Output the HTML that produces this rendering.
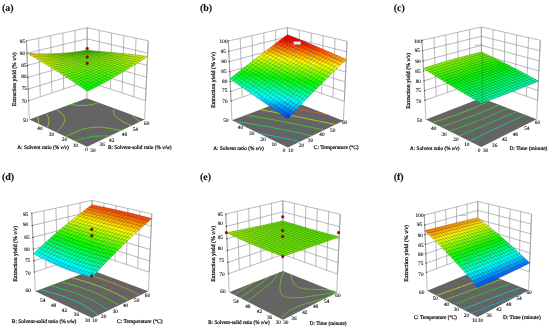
<!DOCTYPE html>
<html><head><meta charset="utf-8"><style>
html,body{margin:0;padding:0;background:#fff;}
svg{display:block;text-rendering:geometricPrecision;}
text{font-family:"Liberation Serif",serif;fill:#111;stroke:#111;stroke-width:.12px;}
.t{stroke-width:.24px;}
</style></head><body>
<svg width="550" height="328" viewBox="0 0 550 328">
<rect width="550" height="328" fill="#fff"/>
<g><path d="M28.6,100.7L86.9,81.3L145.5,100.7M28.2,89.1L86.9,70.9L146.1,89.1M27.8,77.4L87,60.4L146.6,77.3M27.4,65.4L87,49.7L147.2,65.4M26.9,53.3L87.1,38.8L147.7,53.2M26.5,40.9L87.2,27.8L148.3,40.8M28.6,100.7L26.5,40.9M145.5,100.7L148.3,40.8M40.3,96.8L38.6,38.3M133.8,96.8L136.1,38.2M51.9,92.9L50.7,35.7M122.1,92.9L123.9,35.6M63.6,89.1L62.9,33.1M110.3,89.1L111.6,33M75.2,85.2L75,30.4M98.6,85.2L99.4,30.4M86.9,81.3L87.2,27.8M86.9,81.3L87.2,27.8M26.5,40.9L29.3,119.4M148.3,40.8L144.6,119.4M86.9,81.3L86.8,98.2" stroke="#939393" stroke-width=".65" fill="none"/><path d="M28,100.7h1.2M27.6,89.1h1.2M27.2,77.4h1.2M26.8,65.4h1.2M26.3,53.3h1.2M25.9,40.9h1.2" stroke="#333" stroke-width="1"/><path d="M29.3,119.4L87.1,146.8L144.6,119.4L86.8,98.2Z" fill="#646464"/><path d="M109.7,136.1L108,136L106.3,135.9L105.3,135.9L103.6,135.9L102.3,135.9L100.7,135.9L99.5,136L97.7,136.1L96.4,136.2L95.2,136.3L93.7,136.4L92.2,136.6L90.7,136.8L89.3,137.1L87.9,137.3L86.6,137.6L84.7,138L83.4,138.3L82.2,138.7L80.4,139.2L79.3,139.5L77.6,140L76.5,140.4L74.9,141L74.9,141" stroke="#45c724" stroke-width="1" fill="none"/><path d="M121,130.7L119.4,130.3L118,130L116.7,129.7L115.1,129.4L113.6,129.1L112.3,128.8L110.9,128.6L109.6,128.3L108,128.1L106.5,127.9L105,127.7L103.7,127.5L102.4,127.4L100.8,127.3L99.1,127.2L97.9,127.2L96.3,127.2L95,127.2L93.3,127.3L92,127.5L90.7,127.6L89.2,127.8L87.6,128.1L86.2,128.4L85,128.7L83.2,129.2L82.1,129.6L80.5,130.1L78.9,130.7L77.9,131.1L76.4,131.7L75,132.3L73.6,133L72.6,133.4L71.3,134L70,134.7L68.6,135.4L67.3,136.1L66.5,136.6L66.1,136.8" stroke="#66c724" stroke-width="1" fill="none"/><path d="M70,104.4L71.5,104.6L73,104.8L74.4,105L75.8,105.2L77.4,105.3L79.1,105.4L80.3,105.5L81.8,105.5L83.1,105.5L84.9,105.4L86.1,105.3L87.4,105.2L88.8,105L90.4,104.8L92.1,104.5L93.3,104.2L94.5,103.9L96.2,103.5L97.9,103L98.9,102.6L98.9,102.6" stroke="#66c724" stroke-width="1" fill="none"/><path d="M56.3,109.5L57,109.9L58.2,110.7L58.9,111.2L59.9,111.9L60.6,112.4L61.2,113L61.8,113.5L62.4,114.1L62.9,114.7L63.4,115.3L63.8,115.9L64.1,116.6L64.4,117.3L64.6,117.8L64.7,118.4L64.7,119.1L64.7,119.6L64.7,120.2L64.6,120.8L64.4,121.3L64.2,122L63.9,122.7L63.7,123.2L63.4,123.8L63,124.4L62.6,125L62.2,125.6L61.7,126.3L61.2,126.9L60.7,127.5L60.2,128.1L59.7,128.7L59.1,129.3L58.4,130L57.7,130.7L57.1,131.3L56.5,131.9L56.2,132.2" stroke="#8ac724" stroke-width="1" fill="none"/><path d="M131.5,125.7L130.1,125.1L128.7,124.5L127.8,124L126.5,123.4L125.2,122.8L124,122.2L123.1,121.7L121.9,121.1L121.1,120.6L120,119.9L119.3,119.4L118.3,118.7L117.5,118.2L116.9,117.6L116.3,117.1L115.8,116.6L115.2,116L114.8,115.4L114.4,114.8L114.1,114.1L113.8,113.5L113.7,113L113.6,112.4L113.5,111.8L113.6,111.2L113.6,110.7L113.8,110L114,109.5L114.2,109L114.5,108.4L114.5,108.4" stroke="#8ac724" stroke-width="1" fill="none"/><path d="M45.8,113.3L46.3,113.9L46.7,114.5L47.1,115.2L47.5,115.8L47.8,116.3L48,116.8L48.3,117.5L48.5,118.2L48.6,118.7L48.7,119.4L48.8,120L48.9,120.5L48.9,121.2L48.9,121.8L48.8,122.4L48.7,123L48.6,123.6L48.4,124.3L48.3,124.9L48.1,125.4L47.8,126.1L47.5,126.8L47.3,127.4L47.1,127.8" stroke="#abc724" stroke-width="1" fill="none"/><path d="M139.9,121.7L138.8,121L138.1,120.5L137.3,119.9L136.4,119.2L135.7,118.7L135.1,118.2L134.5,117.7L133.8,117L133.2,116.4L132.6,115.8L132.1,115.2L131.7,114.7L131.7,114.7" stroke="#abc724" stroke-width="1" fill="none"/><path d="M37.4,116.4L37.7,117.1L38,117.8L38.1,118.3L38.3,118.9L38.4,119.6L38.5,120.1L38.6,120.8L38.6,121.4L38.7,122L38.6,122.6L38.6,123.3L38.6,123.8L38.6,123.8" stroke="#c7c524" stroke-width="1" fill="none"/><path d="M87.5,91.2L84.5,89.1L87.5,87.7L90.4,89.7Z" fill="#00ff09" stroke="#00ff09" stroke-width=".3"/><path d="M90.4,89.7L87.5,87.7L90.4,86.3L93.4,88.2Z" fill="#00ff02" stroke="#00ff02" stroke-width=".3"/><path d="M93.4,88.2L90.4,86.3L93.4,84.9L96.4,86.7Z" fill="#05ff00" stroke="#05ff00" stroke-width=".3"/><path d="M96.4,86.7L93.4,84.9L96.4,83.4L99.4,85.1ZM87.5,87.7L84.5,85.8L87.4,84.5L90.4,86.3Z" fill="#0dff00" stroke="#0dff00" stroke-width=".3"/><path d="M99.4,85.1L96.4,83.4L99.4,81.9L102.4,83.5Z" fill="#16ff00" stroke="#16ff00" stroke-width=".3"/><path d="M102.4,83.5L99.4,81.9L102.4,80.4L105.4,81.9Z" fill="#20ff00" stroke="#20ff00" stroke-width=".3"/><path d="M105.4,81.9L102.4,80.4L105.4,78.8L108.4,80.3ZM99.4,81.9L96.4,80.3L99.4,78.8L102.4,80.4Z" fill="#2aff00" stroke="#2aff00" stroke-width=".3"/><path d="M108.4,80.3L105.4,78.8L108.3,77.2L111.3,78.6Z" fill="#34ff00" stroke="#34ff00" stroke-width=".3"/><path d="M111.3,78.6L108.3,77.2L111.3,75.6L114.3,76.9ZM93.4,78.7L90.4,77.1L93.4,75.8L96.4,77.3Z" fill="#40ff00" stroke="#40ff00" stroke-width=".3"/><path d="M114.3,76.9L111.3,75.6L114.3,73.9L117.3,75.1ZM78.4,78.9L75.4,77.1L78.4,76.1L81.4,77.8Z" fill="#4cff00" stroke="#4cff00" stroke-width=".3"/><path d="M117.3,75.1L114.3,73.9L117.3,72.3L120.3,73.4ZM108.3,74.3L105.3,73L108.3,71.6L111.3,72.7ZM90.4,74.3L87.4,72.9L90.3,71.7L93.4,73.1Z" fill="#58ff00" stroke="#58ff00" stroke-width=".3"/><path d="M120.3,73.4L117.3,72.3L120.3,70.6L123.4,71.6Z" fill="#65ff00" stroke="#65ff00" stroke-width=".3"/><path d="M123.4,71.6L120.3,70.6L123.4,68.8L126.4,69.8ZM108.3,69L105.3,67.9L108.3,66.5L111.3,67.5ZM72.4,72.7L69.4,71.1L72.4,70.3L75.4,71.9ZM84.3,69L81.3,67.7L84.3,66.7L87.3,68ZM87.2,55.5L84.2,54.8L87.1,54.2L90.2,54.7ZM81.2,55.4L78.2,54.7L81.1,54.2L84.2,54.8ZM72.2,54.5L69.1,53.7L72.1,53.4L75.1,54.1Z" fill="#73ff00" stroke="#73ff00" stroke-width=".3"/><path d="M126.4,69.8L123.4,68.8L126.4,67.1L129.4,68ZM66.4,71.8L63.4,70.1L66.3,69.4L69.4,71.1ZM93.3,61.8L90.2,60.9L93.2,60L96.3,60.8ZM84.3,62.6L81.3,61.6L84.2,60.8L87.3,61.8ZM87.3,61.8L84.2,60.8L87.2,60L90.2,60.9ZM90.2,60.9L87.2,60L90.2,59.1L93.2,60ZM93.2,60L90.2,59.1L93.2,58.3L96.2,59ZM87.2,60L84.2,59.1L87.2,58.3L90.2,59.1ZM99.2,56.4L96.2,55.9L99.2,55L102.2,55.5Z" fill="#82ff00" stroke="#82ff00" stroke-width=".3"/><path d="M129.4,68L126.4,67.1L129.4,65.3L132.4,66.1ZM126.4,67.1L123.4,66.2L126.4,64.5L129.4,65.3ZM123.4,66.2L120.3,65.4L123.4,63.7L126.4,64.5ZM108.2,56.5L105.2,56L108.2,54.9L111.2,55.4ZM60.1,54.6L57.1,53.6L60.1,53.4L63.1,54.3Z" fill="#91ff00" stroke="#91ff00" stroke-width=".3"/><path d="M132.4,66.1L129.4,65.3L132.4,63.5L135.4,64.2ZM63.3,63.6L60.3,62.1L63.3,61.7L66.3,63Z" fill="#a0ff00" stroke="#a0ff00" stroke-width=".3"/><path d="M135.4,64.2L132.4,63.5L135.4,61.7L138.5,62.3ZM54.3,67.1L51.3,65.3L54.3,65L57.3,66.6ZM57.3,62.5L54.2,61L57.2,60.7L60.3,62.1ZM54.2,56.2L51.1,55L54.1,54.9L57.2,56Z" fill="#b1ff00" stroke="#b1ff00" stroke-width=".3"/><path d="M138.5,62.3L135.4,61.7L138.5,59.8L141.5,60.4ZM51.2,57.9L48.1,56.5L51.2,56.4L54.2,57.7Z" fill="#c2ff00" stroke="#c2ff00" stroke-width=".3"/><path d="M141.5,60.4L138.5,59.8L141.5,58L144.5,58.4ZM135.4,57L132.4,56.6L135.4,54.9L138.5,55.3ZM45.1,55.2L42.1,53.8L45.1,53.9L48.1,55.1Z" fill="#d3ff00" stroke="#d3ff00" stroke-width=".3"/><path d="M144.5,58.4L141.5,58L144.5,56.1L147.6,56.5Z" fill="#e5ff00" stroke="#e5ff00" stroke-width=".3"/><path d="M84.5,89.1L81.5,87.1L84.5,85.8L87.5,87.7Z" fill="#08ff00" stroke="#08ff00" stroke-width=".3"/><path d="M90.4,86.3L87.4,84.5L90.4,83.1L93.4,84.9Z" fill="#14ff00" stroke="#14ff00" stroke-width=".3"/><path d="M93.4,84.9L90.4,83.1L93.4,81.7L96.4,83.4Z" fill="#1bff00" stroke="#1bff00" stroke-width=".3"/><path d="M96.4,83.4L93.4,81.7L96.4,80.3L99.4,81.9ZM87.4,84.5L84.4,82.6L87.4,81.3L90.4,83.1Z" fill="#22ff00" stroke="#22ff00" stroke-width=".3"/><path d="M102.4,80.4L99.4,78.8L102.4,77.4L105.4,78.8Z" fill="#33ff00" stroke="#33ff00" stroke-width=".3"/><path d="M105.4,78.8L102.4,77.4L105.3,75.8L108.3,77.2ZM99.4,78.8L96.4,77.3L99.4,75.9L102.4,77.4Z" fill="#3dff00" stroke="#3dff00" stroke-width=".3"/><path d="M108.3,77.2L105.3,75.8L108.3,74.3L111.3,75.6Z" fill="#47ff00" stroke="#47ff00" stroke-width=".3"/><path d="M111.3,75.6L108.3,74.3L111.3,72.7L114.3,73.9Z" fill="#52ff00" stroke="#52ff00" stroke-width=".3"/><path d="M114.3,73.9L111.3,72.7L114.3,71.1L117.3,72.3ZM105.3,73L102.3,71.8L105.3,70.4L108.3,71.6ZM93.4,73.1L90.3,71.7L93.3,70.6L96.3,71.9ZM75.1,53L72.1,52.5L75.1,52.1L78.1,52.6Z" fill="#5dff00" stroke="#5dff00" stroke-width=".3"/><path d="M117.3,72.3L114.3,71.1L117.3,69.5L120.3,70.6ZM81.1,54.2L78.1,53.6L81.1,53.2L84.1,53.7Z" fill="#69ff00" stroke="#69ff00" stroke-width=".3"/><path d="M120.3,70.6L117.3,69.5L120.3,67.9L123.4,68.8ZM105.3,67.9L102.3,66.9L105.3,65.6L108.3,66.5ZM96.3,67L93.3,65.9L96.3,64.8L99.3,65.8ZM96.2,54.5L93.1,54L96.1,53.2L99.1,53.7ZM75.2,55.2L72.2,54.5L75.1,54.1L78.2,54.7Z" fill="#76ff00" stroke="#76ff00" stroke-width=".3"/><path d="M123.4,68.8L120.3,67.9L123.4,66.2L126.4,67.1ZM75.3,67.2L72.3,65.8L75.3,65L78.3,66.3ZM96.3,60.8L93.2,60L96.2,59L99.2,59.8ZM81.3,63.5L78.3,62.3L81.3,61.6L84.3,62.6ZM84.2,60.8L81.2,59.8L84.2,59.1L87.2,60Z" fill="#83ff00" stroke="#83ff00" stroke-width=".3"/><path d="M129.4,65.3L126.4,64.5L129.4,62.8L132.4,63.5ZM117.3,60.1L114.3,59.5L117.3,58.1L120.3,58.7Z" fill="#9fff00" stroke="#9fff00" stroke-width=".3"/><path d="M132.4,63.5L129.4,62.8L132.4,61.1L135.4,61.7ZM57.3,64.5L54.2,62.9L57.3,62.5L60.3,64.1Z" fill="#aeff00" stroke="#aeff00" stroke-width=".3"/><path d="M135.4,61.7L132.4,61.1L135.4,59.3L138.5,59.8ZM129.4,58.2L126.4,57.7L129.4,56.2L132.4,56.6ZM51.2,56.4L48.1,55.1L51.1,55L54.2,56.2Z" fill="#beff00" stroke="#beff00" stroke-width=".3"/><path d="M138.5,59.8L135.4,59.3L138.5,57.5L141.5,58Z" fill="#ceff00" stroke="#ceff00" stroke-width=".3"/><path d="M141.5,58L138.5,57.5L141.5,55.7L144.5,56.1Z" fill="#dfff00" stroke="#dfff00" stroke-width=".3"/><path d="M81.5,87.1L78.5,85L81.5,83.8L84.5,85.8Z" fill="#18ff00" stroke="#18ff00" stroke-width=".3"/><path d="M84.5,85.8L81.5,83.8L84.4,82.6L87.4,84.5Z" fill="#1dff00" stroke="#1dff00" stroke-width=".3"/><path d="M90.4,83.1L87.4,81.3L90.4,80L93.4,81.7Z" fill="#28ff00" stroke="#28ff00" stroke-width=".3"/><path d="M93.4,81.7L90.4,80L93.4,78.7L96.4,80.3Z" fill="#2eff00" stroke="#2eff00" stroke-width=".3"/><path d="M96.4,80.3L93.4,78.7L96.4,77.3L99.4,78.8ZM87.4,81.3L84.4,79.6L87.4,78.4L90.4,80Z" fill="#35ff00" stroke="#35ff00" stroke-width=".3"/><path d="M102.4,77.4L99.4,75.9L102.3,74.5L105.3,75.8ZM87.4,78.4L84.4,76.7L87.4,75.5L90.4,77.1ZM84.1,51.7L81.1,51.4L84.1,51L87.1,51.2Z" fill="#45ff00" stroke="#45ff00" stroke-width=".3"/><path d="M105.3,75.8L102.3,74.5L105.3,73L108.3,74.3ZM81.4,77.8L78.4,76.1L81.4,75.1L84.4,76.7Z" fill="#4eff00" stroke="#4eff00" stroke-width=".3"/><path d="M111.3,72.7L108.3,71.6L111.3,70.1L114.3,71.1ZM96.3,71.9L93.3,70.6L96.3,69.4L99.3,70.6Z" fill="#62ff00" stroke="#62ff00" stroke-width=".3"/><path d="M114.3,71.1L111.3,70.1L114.3,68.5L117.3,69.5ZM87.3,70.4L84.3,69L87.3,68L90.3,69.3ZM96.1,53.2L93.1,52.9L96.1,52.1L99.1,52.5Z" fill="#6cff00" stroke="#6cff00" stroke-width=".3"/><path d="M117.3,69.5L114.3,68.5L117.3,67L120.3,67.9ZM102.3,66.9L99.3,65.8L102.3,64.6L105.3,65.6ZM90.2,56.1L87.2,55.5L90.2,54.7L93.2,55.3Z" fill="#78ff00" stroke="#78ff00" stroke-width=".3"/><path d="M120.3,67.9L117.3,67L120.3,65.4L123.4,66.2ZM99.3,61.6L96.3,60.8L99.2,59.8L102.3,60.5ZM96.2,59L93.2,58.3L96.2,57.4L99.2,58ZM102.2,55.5L99.2,55L102.2,54.1L105.2,54.5ZM81.2,59.8L78.2,58.9L81.2,58.2L84.2,59.1Z" fill="#84ff00" stroke="#84ff00" stroke-width=".3"/><path d="M126.4,64.5L123.4,63.7L126.4,62.1L129.4,62.8ZM114.2,55.8L111.2,55.4L114.2,54.2L117.3,54.6Z" fill="#9eff00" stroke="#9eff00" stroke-width=".3"/><path d="M129.4,62.8L126.4,62.1L129.4,60.4L132.4,61.1ZM120.3,56.7L117.3,56.3L120.3,54.9L123.3,55.3ZM57.2,57.5L54.2,56.2L57.2,56L60.2,57.2Z" fill="#acff00" stroke="#acff00" stroke-width=".3"/><path d="M132.4,61.1L129.4,60.4L132.4,58.8L135.4,59.3ZM54.2,62.9L51.2,61.3L54.2,61L57.3,62.5ZM54.2,59.3L51.2,57.9L54.2,57.7L57.2,59Z" fill="#baff00" stroke="#baff00" stroke-width=".3"/><path d="M135.4,59.3L132.4,58.8L135.4,57L138.5,57.5Z" fill="#c9ff00" stroke="#c9ff00" stroke-width=".3"/><path d="M138.5,57.5L135.4,57L138.5,55.3L141.5,55.7Z" fill="#d9ff00" stroke="#d9ff00" stroke-width=".3"/><path d="M78.5,85L75.5,83L78.5,81.9L81.5,83.8Z" fill="#29ff00" stroke="#29ff00" stroke-width=".3"/><path d="M81.5,83.8L78.5,81.9L81.4,80.8L84.4,82.6Z" fill="#2cff00" stroke="#2cff00" stroke-width=".3"/><path d="M84.4,82.6L81.4,80.8L84.4,79.6L87.4,81.3Z" fill="#30ff00" stroke="#30ff00" stroke-width=".3"/><path d="M90.4,80L87.4,78.4L90.4,77.1L93.4,78.7Z" fill="#3aff00" stroke="#3aff00" stroke-width=".3"/><path d="M96.4,77.3L93.4,75.8L96.4,74.5L99.4,75.9Z" fill="#46ff00" stroke="#46ff00" stroke-width=".3"/><path d="M99.4,75.9L96.4,74.5L99.3,73.2L102.3,74.5ZM81.1,52.2L78.1,51.8L81.1,51.4L84.1,51.7Z" fill="#4dff00" stroke="#4dff00" stroke-width=".3"/><path d="M102.3,74.5L99.3,73.2L102.3,71.8L105.3,73ZM96.4,74.5L93.4,73.1L96.3,71.9L99.3,73.2ZM93.1,51.8L90.1,51.5L93.1,50.9L96.1,51.2ZM84.1,52.6L81.1,52.2L84.1,51.7L87.1,52.1ZM78.1,52.6L75.1,52.1L78.1,51.8L81.1,52.2Z" fill="#55ff00" stroke="#55ff00" stroke-width=".3"/><path d="M108.3,71.6L105.3,70.4L108.3,69L111.3,70.1ZM90.1,53.5L87.1,53.1L90.1,52.5L93.1,52.9ZM72.1,53.4L69.1,52.8L72.1,52.5L75.1,53Z" fill="#66ff00" stroke="#66ff00" stroke-width=".3"/><path d="M111.3,70.1L108.3,69L111.3,67.5L114.3,68.5ZM90.2,54.7L87.1,54.2L90.1,53.5L93.1,54ZM69.1,53.7L66.1,53L69.1,52.8L72.1,53.4Z" fill="#70ff00" stroke="#70ff00" stroke-width=".3"/><path d="M114.3,68.5L111.3,67.5L114.3,66L117.3,67ZM99.3,65.8L96.3,64.8L99.3,63.7L102.3,64.6ZM63.4,75.2L60.4,73.2L63.4,72.6L66.4,74.4ZM81.3,67.7L78.3,66.3L81.3,65.5L84.3,66.7ZM84.3,66.7L81.3,65.5L84.3,64.6L87.3,65.8ZM66.1,54L63.1,53.2L66.1,53L69.1,53.7Z" fill="#7aff00" stroke="#7aff00" stroke-width=".3"/><path d="M117.3,67L114.3,66L117.3,64.5L120.3,65.4ZM114.3,66L111.3,65.1L114.3,63.7L117.3,64.5ZM105.3,63.4L102.3,62.5L105.3,61.3L108.3,62.1ZM102.3,62.5L99.3,61.6L102.3,60.5L105.3,61.3ZM72.3,67.9L69.3,66.5L72.3,65.8L75.3,67.2ZM78.3,64.3L75.3,63.1L78.3,62.3L81.3,63.5ZM99.2,58L96.2,57.4L99.2,56.4L102.2,57ZM81.3,61.6L78.2,60.5L81.2,59.8L84.2,60.8ZM78.2,58.9L75.2,58L78.2,57.4L81.2,58.2ZM75.2,58L72.2,57L75.2,56.5L78.2,57.4ZM63.1,54.3L60.1,53.4L63.1,53.2L66.1,54Z" fill="#85ff00" stroke="#85ff00" stroke-width=".3"/><path d="M120.3,65.4L117.3,64.5L120.3,63L123.4,63.7ZM108.3,60.1L105.3,59.4L108.3,58.2L111.3,58.8ZM63.2,55.5L60.1,54.6L63.1,54.3L66.2,55.2Z" fill="#90ff00" stroke="#90ff00" stroke-width=".3"/><path d="M123.4,63.7L120.3,63L123.3,61.4L126.4,62.1ZM114.2,54.2L111.2,53.8L114.2,52.7L117.2,53Z" fill="#9cff00" stroke="#9cff00" stroke-width=".3"/><path d="M126.4,62.1L123.3,61.4L126.4,59.8L129.4,60.4ZM54.3,69.4L51.3,67.6L54.3,67.1L57.3,68.9ZM60.3,62.1L57.2,60.7L60.2,60.3L63.3,61.7ZM60.2,60.3L57.2,59L60.2,58.7L63.2,59.9ZM54.1,54.9L51.1,53.8L54.1,53.7L57.1,54.7Z" fill="#a9ff00" stroke="#a9ff00" stroke-width=".3"/><path d="M129.4,60.4L126.4,59.8L129.4,58.2L132.4,58.8ZM54.3,65L51.2,63.3L54.2,62.9L57.3,64.5ZM51.1,55L48.1,53.8L51.1,53.8L54.1,54.9Z" fill="#b6ff00" stroke="#b6ff00" stroke-width=".3"/><path d="M132.4,58.8L129.4,58.2L132.4,56.6L135.4,57ZM129.4,56.2L126.3,55.7L129.4,54.2L132.4,54.6ZM48.1,55.1L45.1,53.9L48.1,53.8L51.1,55Z" fill="#c4ff00" stroke="#c4ff00" stroke-width=".3"/><path d="M75.5,83L72.5,81L75.4,80L78.5,81.9Z" fill="#39ff00" stroke="#39ff00" stroke-width=".3"/><path d="M78.5,81.9L75.4,80L78.4,78.9L81.4,80.8Z" fill="#3bff00" stroke="#3bff00" stroke-width=".3"/><path d="M81.4,80.8L78.4,78.9L81.4,77.8L84.4,79.6Z" fill="#3eff00" stroke="#3eff00" stroke-width=".3"/><path d="M84.4,79.6L81.4,77.8L84.4,76.7L87.4,78.4Z" fill="#41ff00" stroke="#41ff00" stroke-width=".3"/><path d="M90.4,77.1L87.4,75.5L90.4,74.3L93.4,75.8ZM75.4,80L72.4,78.1L75.4,77.1L78.4,78.9ZM90.1,51.5L87.1,51.2L90,50.7L93.1,50.9Z" fill="#4aff00" stroke="#4aff00" stroke-width=".3"/><path d="M93.4,75.8L90.4,74.3L93.4,73.1L96.4,74.5Z" fill="#4fff00" stroke="#4fff00" stroke-width=".3"/><path d="M99.3,73.2L96.3,71.9L99.3,70.6L102.3,71.8ZM81.4,75.1L78.4,73.5L81.4,72.5L84.4,74ZM81.1,53.2L78.1,52.6L81.1,52.2L84.1,52.6Z" fill="#5cff00" stroke="#5cff00" stroke-width=".3"/><path d="M102.3,71.8L99.3,70.6L102.3,69.3L105.3,70.4ZM93.1,52.9L90.1,52.5L93.1,51.8L96.1,52.1ZM84.1,53.7L81.1,53.2L84.1,52.6L87.1,53.1ZM78.1,53.6L75.1,53L78.1,52.6L81.1,53.2Z" fill="#63ff00" stroke="#63ff00" stroke-width=".3"/><path d="M105.3,70.4L102.3,69.3L105.3,67.9L108.3,69ZM66.4,77.1L63.4,75.2L66.4,74.4L69.4,76.3ZM84.4,71.4L81.3,70L84.3,69L87.3,70.4ZM87.1,54.2L84.1,53.7L87.1,53.1L90.1,53.5Z" fill="#6aff00" stroke="#6aff00" stroke-width=".3"/><path d="M111.3,67.5L108.3,66.5L111.3,65.1L114.3,66ZM75.3,69.4L72.3,67.9L75.3,67.2L78.3,68.6ZM69.2,54.9L66.1,54L69.1,53.7L72.2,54.5Z" fill="#7cff00" stroke="#7cff00" stroke-width=".3"/><path d="M117.3,64.5L114.3,63.7L117.3,62.2L120.3,63ZM114.3,63.7L111.3,62.9L114.3,61.5L117.3,62.2ZM63.4,70.1L60.3,68.4L63.3,67.8L66.3,69.4ZM72.3,61.9L69.2,60.7L72.2,60.1L75.3,61.2Z" fill="#8fff00" stroke="#8fff00" stroke-width=".3"/><path d="M120.3,63L117.3,62.2L120.3,60.8L123.3,61.4ZM66.3,63L63.3,61.7L66.2,61.2L69.3,62.5ZM60.2,55.8L57.1,54.7L60.1,54.6L63.2,55.5Z" fill="#9aff00" stroke="#9aff00" stroke-width=".3"/><path d="M123.3,61.4L120.3,60.8L123.3,59.3L126.4,59.8ZM60.2,58.7L57.2,57.5L60.2,57.2L63.2,58.3Z" fill="#a6ff00" stroke="#a6ff00" stroke-width=".3"/><path d="M126.4,59.8L123.3,59.3L126.4,57.7L129.4,58.2ZM123.3,57.2L120.3,56.7L123.3,55.3L126.3,55.7ZM57.2,60.7L54.2,59.3L57.2,59L60.2,60.3Z" fill="#b2ff00" stroke="#b2ff00" stroke-width=".3"/><path d="M132.4,56.6L129.4,56.2L132.4,54.6L135.4,54.9Z" fill="#ccff00" stroke="#ccff00" stroke-width=".3"/><path d="M72.5,81L69.5,79.1L72.4,78.1L75.4,80Z" fill="#49ff00" stroke="#49ff00" stroke-width=".3"/><path d="M84.4,76.7L81.4,75.1L84.4,74L87.4,75.5Z" fill="#51ff00" stroke="#51ff00" stroke-width=".3"/><path d="M87.4,75.5L84.4,74L87.4,72.9L90.4,74.3Z" fill="#54ff00" stroke="#54ff00" stroke-width=".3"/><path d="M99.3,70.6L96.3,69.4L99.3,68.1L102.3,69.3ZM93.3,70.6L90.3,69.3L93.3,68.1L96.3,69.4ZM69.4,76.3L66.4,74.4L69.4,73.6L72.4,75.4ZM81.4,72.5L78.4,70.9L81.3,70L84.4,71.4Z" fill="#68ff00" stroke="#68ff00" stroke-width=".3"/><path d="M102.3,69.3L99.3,68.1L102.3,66.9L105.3,67.9ZM93.1,54L90.1,53.5L93.1,52.9L96.1,53.2ZM84.2,54.8L81.1,54.2L84.1,53.7L87.1,54.2Z" fill="#6eff00" stroke="#6eff00" stroke-width=".3"/><path d="M108.3,66.5L105.3,65.6L108.3,64.2L111.3,65.1ZM96.3,64.8L93.3,63.8L96.3,62.7L99.3,63.7ZM72.4,70.3L69.3,68.7L72.3,67.9L75.3,69.4ZM90.3,64.8L87.3,63.7L90.3,62.8L93.3,63.8ZM93.2,56.7L90.2,56.1L93.2,55.3L96.2,55.9ZM96.2,55.9L93.2,55.3L96.2,54.5L99.2,55ZM99.2,55L96.2,54.5L99.1,53.7L102.2,54.1ZM84.2,57.5L81.2,56.8L84.2,56.1L87.2,56.8Z" fill="#7dff00" stroke="#7dff00" stroke-width=".3"/><path d="M111.3,65.1L108.3,64.2L111.3,62.9L114.3,63.7ZM108.3,64.2L105.3,63.4L108.3,62.1L111.3,62.9ZM63.4,72.6L60.4,70.7L63.4,70.1L66.4,71.8ZM99.2,59.8L96.2,59L99.2,58L102.2,58.7ZM105.2,54.5L102.2,54.1L105.2,53.1L108.2,53.5ZM72.2,57L69.2,56.1L72.2,55.7L75.2,56.5ZM69.2,56.1L66.2,55.2L69.2,54.9L72.2,55.7ZM66.2,55.2L63.1,54.3L66.1,54L69.2,54.9Z" fill="#86ff00" stroke="#86ff00" stroke-width=".3"/><path d="M117.3,62.2L114.3,61.5L117.3,60.1L120.3,60.8ZM63.2,56.9L60.2,55.8L63.2,55.5L66.2,56.5Z" fill="#98ff00" stroke="#98ff00" stroke-width=".3"/><path d="M120.3,60.8L117.3,60.1L120.3,58.7L123.3,59.3ZM63.3,61.7L60.2,60.3L63.2,59.9L66.2,61.2Z" fill="#a2ff00" stroke="#a2ff00" stroke-width=".3"/><path d="M123.3,59.3L120.3,58.7L123.3,57.2L126.4,57.7ZM120.3,54.9L117.3,54.6L120.3,53.3L123.3,53.6Z" fill="#adff00" stroke="#adff00" stroke-width=".3"/><path d="M126.4,57.7L123.3,57.2L126.3,55.7L129.4,56.2Z" fill="#b8ff00" stroke="#b8ff00" stroke-width=".3"/><path d="M69.5,79.1L66.4,77.1L69.4,76.3L72.4,78.1ZM75.4,77.1L72.4,75.4L75.4,74.4L78.4,76.1Z" fill="#5aff00" stroke="#5aff00" stroke-width=".3"/><path d="M72.4,78.1L69.4,76.3L72.4,75.4L75.4,77.1ZM90.1,52.5L87.1,52.1L90.1,51.5L93.1,51.8Z" fill="#59ff00" stroke="#59ff00" stroke-width=".3"/><path d="M78.4,76.1L75.4,74.4L78.4,73.5L81.4,75.1Z" fill="#5bff00" stroke="#5bff00" stroke-width=".3"/><path d="M84.4,74L81.4,72.5L84.4,71.4L87.4,72.9ZM87.1,53.1L84.1,52.6L87.1,52.1L90.1,52.5Z" fill="#5eff00" stroke="#5eff00" stroke-width=".3"/><path d="M87.4,72.9L84.4,71.4L87.3,70.4L90.3,71.7Z" fill="#61ff00" stroke="#61ff00" stroke-width=".3"/><path d="M90.3,71.7L87.3,70.4L90.3,69.3L93.3,70.6Z" fill="#64ff00" stroke="#64ff00" stroke-width=".3"/><path d="M96.3,69.4L93.3,68.1L96.3,67L99.3,68.1Z" fill="#6dff00" stroke="#6dff00" stroke-width=".3"/><path d="M99.3,68.1L96.3,67L99.3,65.8L102.3,66.9ZM93.3,68.1L90.3,67L93.3,65.9L96.3,67ZM75.4,71.9L72.4,70.3L75.3,69.4L78.4,70.9ZM78.4,70.9L75.3,69.4L78.3,68.6L81.3,70ZM81.3,70L78.3,68.6L81.3,67.7L84.3,69Z" fill="#72ff00" stroke="#72ff00" stroke-width=".3"/><path d="M105.3,65.6L102.3,64.6L105.3,63.4L108.3,64.2ZM69.4,71.1L66.3,69.4L69.3,68.7L72.4,70.3ZM93.3,63.8L90.3,62.8L93.3,61.8L96.3,62.7ZM84.3,64.6L81.3,63.5L84.3,62.6L87.3,63.7ZM87.2,58.3L84.2,57.5L87.2,56.8L90.2,57.5ZM105.2,53.1L102.1,52.8L105.1,51.9L108.1,52.1ZM75.2,56.5L72.2,55.7L75.2,55.2L78.2,56Z" fill="#7fff00" stroke="#7fff00" stroke-width=".3"/><path d="M111.3,62.9L108.3,62.1L111.3,60.8L114.3,61.5ZM105.3,59.4L102.2,58.7L105.2,57.6L108.3,58.2ZM105.2,57.6L102.2,57L105.2,56L108.2,56.5ZM69.2,57.5L66.2,56.5L69.2,56.1L72.2,57Z" fill="#8dff00" stroke="#8dff00" stroke-width=".3"/><path d="M114.3,61.5L111.3,60.8L114.3,59.5L117.3,60.1ZM111.3,58.8L108.3,58.2L111.2,57L114.3,57.6ZM111.2,55.4L108.2,54.9L111.2,53.8L114.2,54.2Z" fill="#96ff00" stroke="#96ff00" stroke-width=".3"/><path d="M120.3,58.7L117.3,58.1L120.3,56.7L123.3,57.2Z" fill="#a8ff00" stroke="#a8ff00" stroke-width=".3"/><path d="M126.3,55.7L123.3,55.3L126.3,53.9L129.4,54.2Z" fill="#bdff00" stroke="#bdff00" stroke-width=".3"/><path d="M72.4,75.4L69.4,73.6L72.4,72.7L75.4,74.4ZM75.4,74.4L72.4,72.7L75.4,71.9L78.4,73.5ZM78.4,73.5L75.4,71.9L78.4,70.9L81.4,72.5Z" fill="#67ff00" stroke="#67ff00" stroke-width=".3"/><path d="M90.3,69.3L87.3,68L90.3,67L93.3,68.1ZM78.2,54.7L75.1,54.1L78.1,53.6L81.1,54.2Z" fill="#6fff00" stroke="#6fff00" stroke-width=".3"/><path d="M102.3,64.6L99.3,63.7L102.3,62.5L105.3,63.4ZM81.3,65.5L78.3,64.3L81.3,63.5L84.3,64.6ZM87.3,63.7L84.3,62.6L87.3,61.8L90.3,62.8ZM90.3,62.8L87.3,61.8L90.2,60.9L93.3,61.8ZM78.2,57.4L75.2,56.5L78.2,56L81.2,56.8Z" fill="#80ff00" stroke="#80ff00" stroke-width=".3"/><path d="M108.3,62.1L105.3,61.3L108.3,60.1L111.3,60.8Z" fill="#8cff00" stroke="#8cff00" stroke-width=".3"/><path d="M111.3,60.8L108.3,60.1L111.3,58.8L114.3,59.5ZM111.2,53.8L108.2,53.5L111.2,52.4L114.2,52.7Z" fill="#93ff00" stroke="#93ff00" stroke-width=".3"/><path d="M114.3,59.5L111.3,58.8L114.3,57.6L117.3,58.1ZM66.2,61.2L63.2,59.9L66.2,59.5L69.2,60.7Z" fill="#9bff00" stroke="#9bff00" stroke-width=".3"/><path d="M117.3,58.1L114.3,57.6L117.3,56.3L120.3,56.7ZM57.3,68.9L54.3,67.1L57.3,66.6L60.3,68.4ZM60.3,66.1L57.3,64.5L60.3,64.1L63.3,65.6Z" fill="#a3ff00" stroke="#a3ff00" stroke-width=".3"/><path d="M123.3,55.3L120.3,54.9L123.3,53.6L126.3,53.9Z" fill="#b5ff00" stroke="#b5ff00" stroke-width=".3"/><path d="M66.4,74.4L63.4,72.6L66.4,71.8L69.4,73.6ZM90.3,67L87.3,65.8L90.3,64.8L93.3,65.9ZM93.2,55.3L90.2,54.7L93.1,54L96.2,54.5ZM84.2,56.1L81.2,55.4L84.2,54.8L87.2,55.5Z" fill="#77ff00" stroke="#77ff00" stroke-width=".3"/><path d="M69.4,73.6L66.4,71.8L69.4,71.1L72.4,72.7ZM87.3,68L84.3,66.7L87.3,65.8L90.3,67ZM99.1,53.7L96.1,53.2L99.1,52.5L102.1,52.8ZM102.1,52.8L99.1,52.5L102.1,51.6L105.1,51.9Z" fill="#75ff00" stroke="#75ff00" stroke-width=".3"/><path d="M93.3,65.9L90.3,64.8L93.3,63.8L96.3,64.8ZM78.2,56L75.2,55.2L78.2,54.7L81.2,55.4Z" fill="#79ff00" stroke="#79ff00" stroke-width=".3"/><path d="M99.3,63.7L96.3,62.7L99.3,61.6L102.3,62.5ZM96.3,62.7L93.3,61.8L96.3,60.8L99.3,61.6ZM78.3,66.3L75.3,65L78.3,64.3L81.3,65.5ZM90.2,59.1L87.2,58.3L90.2,57.5L93.2,58.3ZM93.2,58.3L90.2,57.5L93.2,56.7L96.2,57.4ZM96.2,57.4L93.2,56.7L96.2,55.9L99.2,56.4ZM84.2,59.1L81.2,58.2L84.2,57.5L87.2,58.3ZM81.2,58.2L78.2,57.4L81.2,56.8L84.2,57.5Z" fill="#81ff00" stroke="#81ff00" stroke-width=".3"/><path d="M105.3,61.3L102.3,60.5L105.3,59.4L108.3,60.1ZM60.4,73.2L57.4,71.3L60.4,70.7L63.4,72.6ZM75.3,63.1L72.3,61.9L75.3,61.2L78.3,62.3Z" fill="#8aff00" stroke="#8aff00" stroke-width=".3"/><path d="M114.3,57.6L111.2,57L114.2,55.8L117.3,56.3ZM60.3,68.4L57.3,66.6L60.3,66.1L63.3,67.8ZM63.3,65.6L60.3,64.1L63.3,63.6L66.3,65ZM63.2,58.3L60.2,57.2L63.2,56.9L66.2,57.9ZM57.1,54.7L54.1,53.7L57.1,53.6L60.1,54.6Z" fill="#9dff00" stroke="#9dff00" stroke-width=".3"/><path d="M117.3,56.3L114.2,55.8L117.3,54.6L120.3,54.9ZM57.2,56L54.1,54.9L57.1,54.7L60.2,55.8Z" fill="#a5ff00" stroke="#a5ff00" stroke-width=".3"/><path d="M78.3,68.6L75.3,67.2L78.3,66.3L81.3,67.7ZM87.3,65.8L84.3,64.6L87.3,63.7L90.3,64.8ZM87.2,56.8L84.2,56.1L87.2,55.5L90.2,56.1ZM81.2,56.8L78.2,56L81.2,55.4L84.2,56.1Z" fill="#7bff00" stroke="#7bff00" stroke-width=".3"/><path d="M102.3,60.5L99.2,59.8L102.2,58.7L105.3,59.4ZM69.3,68.7L66.3,67.1L69.3,66.5L72.3,67.9ZM75.3,65L72.3,63.7L75.3,63.1L78.3,64.3ZM102.2,57L99.2,56.4L102.2,55.5L105.2,56Z" fill="#88ff00" stroke="#88ff00" stroke-width=".3"/><path d="M108.3,58.2L105.2,57.6L108.2,56.5L111.2,57ZM66.3,67.1L63.3,65.6L66.3,65L69.3,66.5ZM69.3,64.4L66.3,63L69.3,62.5L72.3,63.7ZM69.2,59L66.2,57.9L69.2,57.5L72.2,58.5Z" fill="#92ff00" stroke="#92ff00" stroke-width=".3"/><path d="M111.2,57L108.2,56.5L111.2,55.4L114.2,55.8ZM63.3,67.8L60.3,66.1L63.3,65.6L66.3,67.1ZM66.3,65L63.3,63.6L66.3,63L69.3,64.4Z" fill="#97ff00" stroke="#97ff00" stroke-width=".3"/><path d="M117.3,54.6L114.2,54.2L117.2,53L120.3,53.3Z" fill="#a4ff00" stroke="#a4ff00" stroke-width=".3"/><path d="M57.4,71.3L54.3,69.4L57.3,68.9L60.4,70.7ZM66.2,59.5L63.2,58.3L66.2,57.9L69.2,59Z" fill="#99ff00" stroke="#99ff00" stroke-width=".3"/><path d="M60.4,70.7L57.3,68.9L60.3,68.4L63.4,70.1ZM69.3,62.5L66.2,61.2L69.2,60.7L72.3,61.9ZM69.2,60.7L66.2,59.5L69.2,59L72.2,60.1Z" fill="#94ff00" stroke="#94ff00" stroke-width=".3"/><path d="M66.3,69.4L63.3,67.8L66.3,67.1L69.3,68.7ZM72.3,65.8L69.3,64.4L72.3,63.7L75.3,65ZM105.2,56L102.2,55.5L105.2,54.5L108.2,54.9ZM75.3,61.2L72.2,60.1L75.2,59.5L78.2,60.5ZM72.2,58.5L69.2,57.5L72.2,57L75.2,58Z" fill="#8bff00" stroke="#8bff00" stroke-width=".3"/><path d="M102.2,58.7L99.2,58L102.2,57L105.2,57.6ZM108.2,53.5L105.2,53.1L108.1,52.1L111.2,52.4ZM75.2,59.5L72.2,58.5L75.2,58L78.2,58.9Z" fill="#89ff00" stroke="#89ff00" stroke-width=".3"/><path d="M69.3,66.5L66.3,65L69.3,64.4L72.3,65.8ZM108.2,54.9L105.2,54.5L108.2,53.5L111.2,53.8ZM72.3,63.7L69.3,62.5L72.3,61.9L75.3,63.1ZM72.2,60.1L69.2,59L72.2,58.5L75.2,59.5ZM66.2,56.5L63.2,55.5L66.2,55.2L69.2,56.1Z" fill="#8eff00" stroke="#8eff00" stroke-width=".3"/><path d="M51.3,67.6L48.3,65.7L51.3,65.3L54.3,67.1Z" fill="#b9ff00" stroke="#b9ff00" stroke-width=".3"/><path d="M57.3,66.6L54.3,65L57.3,64.5L60.3,66.1Z" fill="#aaff00" stroke="#aaff00" stroke-width=".3"/><path d="M78.3,62.3L75.3,61.2L78.2,60.5L81.3,61.6ZM78.2,60.5L75.2,59.5L78.2,58.9L81.2,59.8Z" fill="#87ff00" stroke="#87ff00" stroke-width=".3"/><path d="M48.3,65.7L45.2,63.8L48.2,63.6L51.3,65.3Z" fill="#c8ff00" stroke="#c8ff00" stroke-width=".3"/><path d="M51.3,65.3L48.2,63.6L51.2,63.3L54.3,65Z" fill="#bfff00" stroke="#bfff00" stroke-width=".3"/><path d="M60.3,64.1L57.3,62.5L60.3,62.1L63.3,63.6Z" fill="#a7ff00" stroke="#a7ff00" stroke-width=".3"/><path d="M90.2,57.5L87.2,56.8L90.2,56.1L93.2,56.7ZM102.2,54.1L99.1,53.7L102.1,52.8L105.2,53.1ZM72.2,55.7L69.2,54.9L72.2,54.5L75.2,55.2Z" fill="#7eff00" stroke="#7eff00" stroke-width=".3"/><path d="M45.2,63.8L42.2,62L45.2,61.8L48.2,63.6ZM45.1,56.6L42.1,55.2L45.1,55.2L48.1,56.5Z" fill="#d8ff00" stroke="#d8ff00" stroke-width=".3"/><path d="M48.2,63.6L45.2,61.8L48.2,61.6L51.2,63.3Z" fill="#cdff00" stroke="#cdff00" stroke-width=".3"/><path d="M51.2,63.3L48.2,61.6L51.2,61.3L54.2,62.9Z" fill="#c3ff00" stroke="#c3ff00" stroke-width=".3"/><path d="M42.2,62L39.1,60.2L42.2,60.1L45.2,61.8Z" fill="#e7ff00" stroke="#e7ff00" stroke-width=".3"/><path d="M45.2,61.8L42.2,60.1L45.2,60L48.2,61.6ZM45.1,58.2L42.1,56.7L45.1,56.6L48.2,58.1Z" fill="#dbff00" stroke="#dbff00" stroke-width=".3"/><path d="M48.2,61.6L45.2,60L48.2,59.8L51.2,61.3ZM48.2,59.8L45.1,58.2L48.2,58.1L51.2,59.6Z" fill="#d0ff00" stroke="#d0ff00" stroke-width=".3"/><path d="M51.2,61.3L48.2,59.8L51.2,59.6L54.2,61ZM51.2,59.6L48.2,58.1L51.2,57.9L54.2,59.3Z" fill="#c5ff00" stroke="#c5ff00" stroke-width=".3"/><path d="M54.2,61L51.2,59.6L54.2,59.3L57.2,60.7Z" fill="#bbff00" stroke="#bbff00" stroke-width=".3"/><path d="M63.2,59.9L60.2,58.7L63.2,58.3L66.2,59.5ZM60.2,57.2L57.2,56L60.2,55.8L63.2,56.9Z" fill="#a1ff00" stroke="#a1ff00" stroke-width=".3"/><path d="M99.1,52.5L96.1,52.1L99.1,51.4L102.1,51.6ZM75.1,54.1L72.1,53.4L75.1,53L78.1,53.6Z" fill="#6bff00" stroke="#6bff00" stroke-width=".3"/><path d="M39.1,60.2L36.1,58.4L39.1,58.4L42.2,60.1Z" fill="#f6ff00" stroke="#f6ff00" stroke-width=".3"/><path d="M42.2,60.1L39.1,58.4L42.1,58.3L45.2,60ZM42.1,58.3L39.1,56.7L42.1,56.7L45.1,58.2Z" fill="#e9ff00" stroke="#e9ff00" stroke-width=".3"/><path d="M45.2,60L42.1,58.3L45.1,58.2L48.2,59.8Z" fill="#dcff00" stroke="#dcff00" stroke-width=".3"/><path d="M57.2,59L54.2,57.7L57.2,57.5L60.2,58.7Z" fill="#b0ff00" stroke="#b0ff00" stroke-width=".3"/><path d="M66.2,57.9L63.2,56.9L66.2,56.5L69.2,57.5Z" fill="#95ff00" stroke="#95ff00" stroke-width=".3"/><path d="M96.1,52.1L93.1,51.8L96.1,51.2L99.1,51.4Z" fill="#60ff00" stroke="#60ff00" stroke-width=".3"/><path d="M36.1,58.4L33,56.6L36.1,56.7L39.1,58.4Z" fill="#fff900" stroke="#fff900" stroke-width=".3"/><path d="M39.1,58.4L36.1,56.7L39.1,56.7L42.1,58.3Z" fill="#f7ff00" stroke="#f7ff00" stroke-width=".3"/><path d="M48.2,58.1L45.1,56.6L48.1,56.5L51.2,57.9Z" fill="#cfff00" stroke="#cfff00" stroke-width=".3"/><path d="M54.2,57.7L51.2,56.4L54.2,56.2L57.2,57.5Z" fill="#b7ff00" stroke="#b7ff00" stroke-width=".3"/><path d="M33,56.6L30,54.8L33,55L36.1,56.7Z" fill="#ffea00" stroke="#ffea00" stroke-width=".3"/><path d="M36.1,56.7L33,55L36,55.1L39.1,56.7Z" fill="#fffa00" stroke="#fffa00" stroke-width=".3"/><path d="M39.1,56.7L36,55.1L39.1,55.2L42.1,56.7Z" fill="#f5ff00" stroke="#f5ff00" stroke-width=".3"/><path d="M42.1,56.7L39.1,55.2L42.1,55.2L45.1,56.6Z" fill="#e6ff00" stroke="#e6ff00" stroke-width=".3"/><path d="M48.1,56.5L45.1,55.2L48.1,55.1L51.2,56.4Z" fill="#cbff00" stroke="#cbff00" stroke-width=".3"/><path d="M87.1,52.1L84.1,51.7L87.1,51.2L90.1,51.5Z" fill="#50ff00" stroke="#50ff00" stroke-width=".3"/><path d="M30,54.8L26.9,53.1L30,53.3L33,55Z" fill="#ffdb00" stroke="#ffdb00" stroke-width=".3"/><path d="M33,55L30,53.3L33,53.5L36,55.1Z" fill="#ffec00" stroke="#ffec00" stroke-width=".3"/><path d="M36,55.1L33,53.5L36,53.7L39.1,55.2Z" fill="#fffd00" stroke="#fffd00" stroke-width=".3"/><path d="M39.1,55.2L36,53.7L39.1,53.8L42.1,55.2Z" fill="#f1ff00" stroke="#f1ff00" stroke-width=".3"/><path d="M42.1,55.2L39.1,53.8L42.1,53.8L45.1,55.2Z" fill="#e1ff00" stroke="#e1ff00" stroke-width=".3"/><path d="M87.1,51.2L84.1,51L87,50.5L90,50.7Z" fill="#3fff00" stroke="#3fff00" stroke-width=".3"/><path d="M87.5,91.2L99.4,85.1L111.3,78.6L123.4,71.6L135.4,64.2L147.6,56.5M87.5,91.2L75.5,83L63.4,75.2L51.3,67.6L39.1,60.2L26.9,53.1M84.5,89.1L96.4,83.4L108.3,77.2L120.3,70.6L132.4,63.5L144.5,56.1M90.4,89.7L78.5,81.9L66.4,74.4L54.3,67.1L42.2,60.1L30,53.3M81.5,87.1L93.4,81.7L105.3,75.8L117.3,69.5L129.4,62.8L141.5,55.7M93.4,88.2L81.4,80.8L69.4,73.6L57.3,66.6L45.2,60L33,53.5M78.5,85L90.4,80L102.3,74.5L114.3,68.5L126.4,62.1L138.5,55.3M96.4,86.7L84.4,79.6L72.4,72.7L60.3,66.1L48.2,59.8L36,53.7M75.5,83L87.4,78.4L99.3,73.2L111.3,67.5L123.3,61.4L135.4,54.9M99.4,85.1L87.4,78.4L75.4,71.9L63.3,65.6L51.2,59.6L39.1,53.8M72.5,81L84.4,76.7L96.3,71.9L108.3,66.5L120.3,60.8L132.4,54.6M102.4,83.5L90.4,77.1L78.4,70.9L66.3,65L54.2,59.3L42.1,53.8M69.5,79.1L81.4,75.1L93.3,70.6L105.3,65.6L117.3,60.1L129.4,54.2M105.4,81.9L93.4,75.8L81.3,70L69.3,64.4L57.2,59L45.1,53.9M66.4,77.1L78.4,73.5L90.3,69.3L102.3,64.6L114.3,59.5L126.3,53.9M108.4,80.3L96.4,74.5L84.3,69L72.3,63.7L60.2,58.7L48.1,53.8M63.4,75.2L75.4,71.9L87.3,68L99.3,63.7L111.3,58.8L123.3,53.6M111.3,78.6L99.3,73.2L87.3,68L75.3,63.1L63.2,58.3L51.1,53.8M60.4,73.2L72.4,70.3L84.3,66.7L96.3,62.7L108.3,58.2L120.3,53.3M114.3,76.9L102.3,71.8L90.3,67L78.3,62.3L66.2,57.9L54.1,53.7M57.4,71.3L69.3,68.7L81.3,65.5L93.3,61.8L105.2,57.6L117.2,53M117.3,75.1L105.3,70.4L93.3,65.9L81.3,61.6L69.2,57.5L57.1,53.6M54.3,69.4L66.3,67.1L78.3,64.3L90.2,60.9L102.2,57L114.2,52.7M120.3,73.4L108.3,69L96.3,64.8L84.2,60.8L72.2,57L60.1,53.4M51.3,67.6L63.3,65.6L75.3,63.1L87.2,60L99.2,56.4L111.2,52.4M123.4,71.6L111.3,67.5L99.3,63.7L87.2,60L75.2,56.5L63.1,53.2M48.3,65.7L60.3,64.1L72.3,61.9L84.2,59.1L96.2,55.9L108.1,52.1M126.4,69.8L114.3,66L102.3,62.5L90.2,59.1L78.2,56L66.1,53M45.2,63.8L57.3,62.5L69.2,60.7L81.2,58.2L93.2,55.3L105.1,51.9M129.4,68L117.3,64.5L105.3,61.3L93.2,58.3L81.2,55.4L69.1,52.8M42.2,62L54.2,61L66.2,59.5L78.2,57.4L90.2,54.7L102.1,51.6M132.4,66.1L120.3,63L108.3,60.1L96.2,57.4L84.2,54.8L72.1,52.5M39.1,60.2L51.2,59.6L63.2,58.3L75.2,56.5L87.1,54.2L99.1,51.4M135.4,64.2L123.3,61.4L111.3,58.8L99.2,56.4L87.1,54.2L75.1,52.1M36.1,58.4L48.2,58.1L60.2,57.2L72.2,55.7L84.1,53.7L96.1,51.2M138.5,62.3L126.4,59.8L114.3,57.6L102.2,55.5L90.1,53.5L78.1,51.8M33,56.6L45.1,56.6L57.2,56L69.2,54.9L81.1,53.2L93.1,50.9M141.5,60.4L129.4,58.2L117.3,56.3L105.2,54.5L93.1,52.9L81.1,51.4M30,54.8L42.1,55.2L54.1,54.9L66.1,54L78.1,52.6L90,50.7M144.5,58.4L132.4,56.6L120.3,54.9L108.2,53.5L96.1,52.1L84.1,51M26.9,53.1L39.1,53.8L51.1,53.8L63.1,53.2L75.1,52.1L87,50.5M147.6,56.5L135.4,54.9L123.3,53.6L111.2,52.4L99.1,51.4L87,50.5" stroke="#000" stroke-opacity=".42" stroke-width=".5" fill="none"/><circle cx="147.4" cy="58.3" r="1.05" fill="#f6dada" stroke="#e0a0a0" stroke-width=".5"/><circle cx="87.2" cy="95.5" r="1.05" fill="#f6dada" stroke="#e0a0a0" stroke-width=".5"/><circle cx="87.2" cy="48.5" r="1.35" fill="#a00000" stroke="#600" stroke-width=".35"/><circle cx="87.2" cy="57.1" r="1.35" fill="#a00000" stroke="#600" stroke-width=".35"/><circle cx="87.2" cy="63.3" r="1.35" fill="#a00000" stroke="#600" stroke-width=".35"/><text x="25.3" y="121.8" text-anchor="middle" font-size="5.3">50</text><text x="22.5" y="43.4" text-anchor="middle" font-size="5.3">95</text><text x="22.5" y="54.6" text-anchor="middle" font-size="5.3">90</text><text x="23.9" y="66.7" text-anchor="middle" font-size="5.3">85</text><text x="23.9" y="77.9" text-anchor="middle" font-size="5.3">80</text><text x="24.3" y="89.5" text-anchor="middle" font-size="5.3">75</text><text x="24.3" y="103.2" text-anchor="middle" font-size="5.3">70</text><text x="39.9" y="129.9" text-anchor="middle" font-size="5.3">40</text><text x="51.5" y="135.9" text-anchor="middle" font-size="5.3">30</text><text x="64.5" y="141.3" text-anchor="middle" font-size="5.3">20</text><text x="75.6" y="146.5" text-anchor="middle" font-size="5.3">10</text><text x="86.7" y="151.4" text-anchor="middle" font-size="5.3">0</text><text x="92.9" y="151.5" text-anchor="middle" font-size="5.3">30</text><text x="102.2" y="146.4" text-anchor="middle" font-size="5.3">36</text><text x="111.7" y="142" text-anchor="middle" font-size="5.3">42</text><text x="124.5" y="136.2" text-anchor="middle" font-size="5.3">48</text><text x="135.3" y="130.5" text-anchor="middle" font-size="5.3">54</text><text x="146.7" y="124.8" text-anchor="middle" font-size="5.3">60</text><text class="t" x="17.2" y="149.4" font-size="5.45" textLength="51.5" lengthAdjust="spacingAndGlyphs">A: Solvent ratio (% <tspan font-style="italic">v/v</tspan>)</text><text class="t" x="107.9" y="149.1" font-size="5.45" textLength="63.6" lengthAdjust="spacingAndGlyphs">B: Solvent-solid ratio (% <tspan font-style="italic">v/w</tspan>)</text><text transform="translate(15.9,79.3) rotate(-90)" text-anchor="middle" font-size="5.7" class="t" textLength="54" lengthAdjust="spacingAndGlyphs">Extraction yield (% <tspan font-style="italic">v/v</tspan>)</text><text x="1.9" y="10.8" font-size="10" font-weight="bold" fill="#111">(a)</text></g><g><path d="M231.1,101L287.4,81.6L344.3,101.3M230.6,91.4L287.4,72.9L344.7,91.7M230.2,81.6L287.4,64.1L345.2,81.9M229.7,71.7L287.4,55.1L345.6,72M229.3,61.6L287.4,46.1L346.1,61.9M228.8,51.4L287.4,36.8L346.6,51.7M228.3,41L287.4,27.5L347.1,41.3M231.1,101L228.3,41M344.3,101.3L347.1,41.3M242.3,97.1L240.2,38.3M332.9,97.4L335.1,38.5M253.6,93.2L252,35.6M321.5,93.4L323.2,35.8M264.9,89.4L263.8,32.9M310.2,89.5L311.3,33M276.1,85.5L275.6,30.2M298.8,85.6L299.4,30.3M287.4,81.6L287.4,27.5M287.4,81.6L287.4,27.5M228.3,41L232,120.3M347.1,41.3L343.4,120.7M287.4,81.6L287.4,99.2" stroke="#939393" stroke-width=".65" fill="none"/><path d="M230.5,101h1.2M230,91.4h1.2M229.6,81.6h1.2M229.1,71.7h1.2M228.7,61.6h1.2M228.2,51.4h1.2M227.7,41h1.2" stroke="#333" stroke-width="1"/><path d="M232,120.3L287.8,147.4L343.4,120.7L287.4,99.2Z" fill="#646464"/><path d="M299.9,141.6L298.6,141.3L297.4,141L296.1,140.8L294.4,140.4L293,140.1L291.7,139.8L290.4,139.5L289.1,139.2L287.5,138.9L285.9,138.6L284.6,138.3L283.4,138L282.1,137.7L280.7,137.5L279.3,137.2L277.7,136.9L276.2,136.5L274.8,136.3L273.5,136L272.2,135.7L270.8,135.5L269.5,135.2L268.1,134.9L266.8,134.7L265.4,134.4L264,134.2L262.7,133.9L261.3,133.7L259.9,133.4L258.5,133.2" stroke="#24b1c7" stroke-width="1" fill="none"/><path d="M311.9,135.8L310.7,135.5L309.5,135.3L308,134.9L306.4,134.6L305.1,134.3L303.9,134.1L302.4,133.7L300.8,133.4L299.5,133.1L298.3,132.8L297,132.6L295.2,132.2L293.9,131.9L292.6,131.7L291.3,131.4L290,131.1L288.4,130.8L286.8,130.5L285.5,130.2L284.2,129.9L282.9,129.7L281.6,129.4L280.2,129.1L278.6,128.8L277,128.5L275.7,128.3L274.4,128L273.1,127.7L271.7,127.5L270.4,127.2L269,127L267.7,126.7L266.3,126.5L264.9,126.2L263.5,126L262.1,125.7L260.7,125.5L259.3,125.2L257.9,125L256.5,124.7L255.2,124.5L253.8,124.3L252.4,124L250.9,123.8L249.5,123.6L248,123.3L246.6,123.1L245.1,122.9L243.6,122.6L242.3,122.4L241,122.2L239.8,122.1L238.4,121.8L236.8,121.6L235.3,121.4L233.9,121.2L233.9,121.2" stroke="#24c76c" stroke-width="1" fill="none"/><path d="M323.9,130L322.1,129.7L320.8,129.4L319.6,129.1L318.2,128.8L316.6,128.5L315.3,128.2L314.1,128L312.3,127.6L311.1,127.3L309.8,127.1L308.5,126.8L306.7,126.4L305.5,126.2L304.3,125.9L302.9,125.6L301.1,125.3L299.9,125L298.6,124.8L297.4,124.5L295.7,124.2L294.2,123.9L293,123.6L291.7,123.4L290.4,123.1L288.7,122.8L287.2,122.5L285.9,122.2L284.7,122L283.4,121.7L282.1,121.4L280.4,121.1L278.8,120.8L277.5,120.6L276.2,120.3L274.9,120.1L273.5,119.8L272.2,119.6L270.9,119.3L269.5,119.1L268,118.8L266.5,118.5L265,118.2L263.6,118L262.1,117.7L260.7,117.5L259.3,117.2L257.9,117L256.5,116.8L255.1,116.5L253.8,116.3L252.4,116.1L251.1,115.9L249.8,115.6L248.5,115.4L247.2,115.2L245.8,115L245.8,115" stroke="#4ec724" stroke-width="1" fill="none"/><path d="M335.4,124.5L333.8,124.2L332.4,123.9L331.2,123.7L329.7,123.3L328.2,123L327,122.8L325.6,122.5L324,122.2L322.7,121.9L321.5,121.7L319.7,121.3L318.5,121.1L317.3,120.8L315.5,120.4L314.3,120.2L313,119.9L311.6,119.6L310,119.3L308.8,119.1L307.5,118.8L305.8,118.5L304.5,118.2L303.2,117.9L302,117.7L300.2,117.3L298.9,117L297.6,116.8L296.4,116.5L294.7,116.2L293.2,115.9L292,115.7L290.7,115.4L289.4,115.1L287.6,114.8L286.3,114.5L285,114.3L283.7,114L282.5,113.8L280.8,113.5L279.2,113.2L277.9,112.9L276.6,112.7L275.3,112.4L274,112.2L272.7,111.9L271.1,111.6L269.6,111.3L268.1,111.1L266.7,110.8L265.4,110.6L264,110.3L262.7,110.1L261.3,109.9L260,109.6L260,109.6" stroke="#bdc724" stroke-width="1" fill="none"/><path d="M329.8,115.5L328.1,115.1L326.9,114.9L325.6,114.6L323.9,114.3L322.7,114L321.4,113.8L319.7,113.4L318.5,113.2L317.3,112.9L315.5,112.6L314.3,112.3L313.1,112.1L311.3,111.7L310,111.5L308.8,111.2L307.1,110.9L305.8,110.6L304.6,110.4L303.2,110.1L301.5,109.7L300.3,109.5L299.1,109.2L297.4,108.9L296,108.6L294.8,108.4L293.5,108.1L291.7,107.8L290.4,107.5L289.2,107.3L287.9,107L286.2,106.7L284.8,106.4L283.6,106.1L282.3,105.9L280.9,105.6L279.1,105.3L277.8,105L276.6,104.8L275.3,104.5L274,104.3L274,104.3" stroke="#c76024" stroke-width="1" fill="none"/><path d="M287.8,118.4L285,116.5L287.8,113.5L290.7,115.4Z" fill="#0048ff" stroke="#0048ff" stroke-width=".3"/><path d="M290.7,115.4L287.8,113.5L290.7,110.5L293.5,112.3Z" fill="#0070ff" stroke="#0070ff" stroke-width=".3"/><path d="M293.5,112.3L290.7,110.5L293.5,107.5L296.4,109.3Z" fill="#0099ff" stroke="#0099ff" stroke-width=".3"/><path d="M296.4,109.3L293.5,107.5L296.4,104.5L299.3,106.3Z" fill="#00c1ff" stroke="#00c1ff" stroke-width=".3"/><path d="M299.3,106.3L296.4,104.5L299.3,101.5L302.1,103.3Z" fill="#00eaff" stroke="#00eaff" stroke-width=".3"/><path d="M302.1,103.3L299.3,101.5L302.1,98.6L305,100.3Z" fill="#00ffeb" stroke="#00ffeb" stroke-width=".3"/><path d="M305,100.3L302.1,98.6L305,95.6L307.9,97.3Z" fill="#00ffc3" stroke="#00ffc3" stroke-width=".3"/><path d="M307.9,97.3L305,95.6L307.9,92.7L310.8,94.3ZM241.8,86.9L238.8,84.9L241.7,82.6L244.6,84.5Z" fill="#00ff9a" stroke="#00ff9a" stroke-width=".3"/><path d="M310.8,94.3L307.9,92.7L310.8,89.8L313.7,91.4ZM235.9,82.9L233,80.8L235.8,78.6L238.7,80.6Z" fill="#00ff71" stroke="#00ff71" stroke-width=".3"/><path d="M313.7,91.4L310.8,89.8L313.7,86.8L316.6,88.4ZM302.2,89.4L299.3,87.8L302.2,84.9L305.1,86.5Z" fill="#00ff48" stroke="#00ff48" stroke-width=".3"/><path d="M316.6,88.4L313.7,86.8L316.7,83.9L319.5,85.5ZM273.3,81.3L270.4,79.6L273.2,77L276.1,78.7Z" fill="#00ff1e" stroke="#00ff1e" stroke-width=".3"/><path d="M319.5,85.5L316.7,83.9L319.6,81L322.5,82.5Z" fill="#0bff00" stroke="#0bff00" stroke-width=".3"/><path d="M322.5,82.5L319.6,81L322.5,78.1L325.4,79.6Z" fill="#34ff00" stroke="#34ff00" stroke-width=".3"/><path d="M325.4,79.6L322.5,78.1L325.5,75.2L328.4,76.7Z" fill="#5eff00" stroke="#5eff00" stroke-width=".3"/><path d="M328.4,76.7L325.5,75.2L328.4,72.4L331.3,73.8Z" fill="#87ff00" stroke="#87ff00" stroke-width=".3"/><path d="M331.3,73.8L328.4,72.4L331.4,69.5L334.3,70.9ZM264.4,63.8L261.4,62.2L264.3,59.9L267.2,61.5Z" fill="#b1ff00" stroke="#b1ff00" stroke-width=".3"/><path d="M334.3,70.9L331.4,69.5L334.3,66.7L337.2,68ZM276,62.2L273,60.7L275.9,58.3L278.8,59.8Z" fill="#dbff00" stroke="#dbff00" stroke-width=".3"/><path d="M337.2,68L334.3,66.7L337.3,63.8L340.2,65.2Z" fill="#fff900" stroke="#fff900" stroke-width=".3"/><path d="M340.2,65.2L337.3,63.8L340.3,61L343.2,62.3ZM302.2,59.6L299.3,58.2L302.2,55.7L305.1,57.1ZM290.5,57.9L287.6,56.4L290.5,54L293.4,55.4Z" fill="#ffcf00" stroke="#ffcf00" stroke-width=".3"/><path d="M343.2,62.3L340.3,61L343.3,58.2L346.2,59.5ZM316.8,58.5L313.9,57.2L316.9,54.5L319.8,55.9Z" fill="#ffa500" stroke="#ffa500" stroke-width=".3"/><path d="M285,116.5L282.1,114.6L285,111.6L287.8,113.5Z" fill="#0057ff" stroke="#0057ff" stroke-width=".3"/><path d="M287.8,113.5L285,111.6L287.8,108.6L290.7,110.5Z" fill="#007fff" stroke="#007fff" stroke-width=".3"/><path d="M290.7,110.5L287.8,108.6L290.7,105.7L293.5,107.5Z" fill="#00a7ff" stroke="#00a7ff" stroke-width=".3"/><path d="M293.5,107.5L290.7,105.7L293.5,102.7L296.4,104.5Z" fill="#00d0ff" stroke="#00d0ff" stroke-width=".3"/><path d="M296.4,104.5L293.5,102.7L296.4,99.8L299.3,101.5Z" fill="#00f8ff" stroke="#00f8ff" stroke-width=".3"/><path d="M299.3,101.5L296.4,99.8L299.3,96.9L302.1,98.6Z" fill="#00ffdd" stroke="#00ffdd" stroke-width=".3"/><path d="M302.1,98.6L299.3,96.9L302.1,94L305,95.6Z" fill="#00ffb5" stroke="#00ffb5" stroke-width=".3"/><path d="M305,95.6L302.1,94L305,91L307.9,92.7ZM247.5,86.5L244.6,84.5L247.4,82.1L250.3,84.1Z" fill="#00ff8c" stroke="#00ff8c" stroke-width=".3"/><path d="M307.9,92.7L305,91L307.9,88.1L310.8,89.8Z" fill="#00ff63" stroke="#00ff63" stroke-width=".3"/><path d="M310.8,89.8L307.9,88.1L310.8,85.3L313.7,86.8ZM299.3,87.8L296.4,86.1L299.3,83.3L302.2,84.9Z" fill="#00ff3a" stroke="#00ff3a" stroke-width=".3"/><path d="M313.7,86.8L310.8,85.3L313.8,82.4L316.7,83.9Z" fill="#00ff11" stroke="#00ff11" stroke-width=".3"/><path d="M316.7,83.9L313.8,82.4L316.7,79.5L319.6,81ZM273.2,77L270.3,75.3L273.2,72.8L276.1,74.5Z" fill="#18ff00" stroke="#18ff00" stroke-width=".3"/><path d="M319.6,81L316.7,79.5L319.6,76.6L322.5,78.1Z" fill="#41ff00" stroke="#41ff00" stroke-width=".3"/><path d="M322.5,78.1L319.6,76.6L322.6,73.8L325.5,75.2Z" fill="#6aff00" stroke="#6aff00" stroke-width=".3"/><path d="M325.5,75.2L322.6,73.8L325.5,71L328.4,72.4Z" fill="#94ff00" stroke="#94ff00" stroke-width=".3"/><path d="M328.4,72.4L325.5,71L328.5,68.1L331.4,69.5ZM281.8,65.3L278.9,63.8L281.8,61.3L284.7,62.8Z" fill="#bdff00" stroke="#bdff00" stroke-width=".3"/><path d="M331.4,69.5L328.5,68.1L331.4,65.3L334.3,66.7Z" fill="#e7ff00" stroke="#e7ff00" stroke-width=".3"/><path d="M334.3,66.7L331.4,65.3L334.4,62.5L337.3,63.8Z" fill="#ffed00" stroke="#ffed00" stroke-width=".3"/><path d="M337.3,63.8L334.4,62.5L337.4,59.7L340.3,61Z" fill="#ffc400" stroke="#ffc400" stroke-width=".3"/><path d="M340.3,61L337.4,59.7L340.4,56.9L343.3,58.2Z" fill="#ff9a00" stroke="#ff9a00" stroke-width=".3"/><path d="M282.1,114.6L279.3,112.7L282.1,109.7L285,111.6Z" fill="#0067ff" stroke="#0067ff" stroke-width=".3"/><path d="M285,111.6L282.1,109.7L284.9,106.8L287.8,108.6Z" fill="#008fff" stroke="#008fff" stroke-width=".3"/><path d="M287.8,108.6L284.9,106.8L287.8,103.9L290.7,105.7Z" fill="#00b6ff" stroke="#00b6ff" stroke-width=".3"/><path d="M290.7,105.7L287.8,103.9L290.6,101L293.5,102.7Z" fill="#00deff" stroke="#00deff" stroke-width=".3"/><path d="M293.5,102.7L290.6,101L293.5,98.1L296.4,99.8Z" fill="#00fff7" stroke="#00fff7" stroke-width=".3"/><path d="M296.4,99.8L293.5,98.1L296.4,95.2L299.3,96.9Z" fill="#00ffcf" stroke="#00ffcf" stroke-width=".3"/><path d="M299.3,96.9L296.4,95.2L299.3,92.3L302.1,94Z" fill="#00ffa7" stroke="#00ffa7" stroke-width=".3"/><path d="M302.1,94L299.3,92.3L302.2,89.4L305,91Z" fill="#00ff7e" stroke="#00ff7e" stroke-width=".3"/><path d="M305,91L302.2,89.4L305.1,86.5L307.9,88.1ZM247.4,82.1L244.5,80.2L247.3,77.9L250.2,79.8Z" fill="#00ff56" stroke="#00ff56" stroke-width=".3"/><path d="M307.9,88.1L305.1,86.5L308,83.7L310.8,85.3Z" fill="#00ff2d" stroke="#00ff2d" stroke-width=".3"/><path d="M310.8,85.3L308,83.7L310.9,80.8L313.8,82.4ZM299.3,83.3L296.4,81.7L299.3,78.9L302.2,80.5Z" fill="#00ff04" stroke="#00ff04" stroke-width=".3"/><path d="M313.8,82.4L310.9,80.8L313.8,78L316.7,79.5ZM261.6,74.3L258.7,72.6L261.6,70.2L264.5,71.9ZM253,73.2L250,71.4L252.9,69.1L255.8,70.8Z" fill="#25ff00" stroke="#25ff00" stroke-width=".3"/><path d="M316.7,79.5L313.8,78L316.7,75.2L319.6,76.6ZM293.5,75.8L290.6,74.2L293.5,71.5L296.4,73.1Z" fill="#4eff00" stroke="#4eff00" stroke-width=".3"/><path d="M319.6,76.6L316.7,75.2L319.7,72.3L322.6,73.8Z" fill="#77ff00" stroke="#77ff00" stroke-width=".3"/><path d="M322.6,73.8L319.7,72.3L322.6,69.5L325.5,71ZM287.6,68.4L284.7,66.9L287.6,64.4L290.5,65.9Z" fill="#a0ff00" stroke="#a0ff00" stroke-width=".3"/><path d="M325.5,71L322.6,69.5L325.6,66.7L328.5,68.1Z" fill="#caff00" stroke="#caff00" stroke-width=".3"/><path d="M328.5,68.1L325.6,66.7L328.5,63.9L331.4,65.3Z" fill="#f3ff00" stroke="#f3ff00" stroke-width=".3"/><path d="M331.4,65.3L328.5,63.9L331.5,61.2L334.4,62.5ZM273,56.8L270,55.3L272.9,53L275.9,54.5Z" fill="#ffe100" stroke="#ffe100" stroke-width=".3"/><path d="M334.4,62.5L331.5,61.2L334.5,58.4L337.4,59.7Z" fill="#ffb800" stroke="#ffb800" stroke-width=".3"/><path d="M337.4,59.7L334.5,58.4L337.5,55.6L340.4,56.9ZM299.3,54.3L296.3,52.9L299.3,50.5L302.2,51.8ZM287.6,52.6L284.6,51.2L287.5,48.9L290.5,50.2Z" fill="#ff8e00" stroke="#ff8e00" stroke-width=".3"/><path d="M279.3,112.7L276.4,110.7L279.2,107.8L282.1,109.7Z" fill="#0077ff" stroke="#0077ff" stroke-width=".3"/><path d="M282.1,109.7L279.2,107.8L282.1,104.9L284.9,106.8Z" fill="#009eff" stroke="#009eff" stroke-width=".3"/><path d="M284.9,106.8L282.1,104.9L284.9,102.1L287.8,103.9Z" fill="#00c6ff" stroke="#00c6ff" stroke-width=".3"/><path d="M287.8,103.9L284.9,102.1L287.8,99.2L290.6,101Z" fill="#00eeff" stroke="#00eeff" stroke-width=".3"/><path d="M290.6,101L287.8,99.2L290.6,96.3L293.5,98.1ZM253.4,95L250.5,93L253.3,90.5L256.2,92.4Z" fill="#00ffe9" stroke="#00ffe9" stroke-width=".3"/><path d="M293.5,98.1L290.6,96.3L293.5,93.5L296.4,95.2ZM273.4,94.7L270.5,92.9L273.4,90.2L276.3,92Z" fill="#00ffc1" stroke="#00ffc1" stroke-width=".3"/><path d="M296.4,95.2L293.5,93.5L296.4,90.6L299.3,92.3Z" fill="#00ff98" stroke="#00ff98" stroke-width=".3"/><path d="M299.3,92.3L296.4,90.6L299.3,87.8L302.2,89.4Z" fill="#00ff70" stroke="#00ff70" stroke-width=".3"/><path d="M305.1,86.5L302.2,84.9L305.1,82.1L308,83.7Z" fill="#00ff1f" stroke="#00ff1f" stroke-width=".3"/><path d="M308,83.7L305.1,82.1L308,79.3L310.9,80.8Z" fill="#09ff00" stroke="#09ff00" stroke-width=".3"/><path d="M310.9,80.8L308,79.3L310.9,76.5L313.8,78ZM299.3,78.9L296.4,77.4L299.3,74.6L302.2,76.2Z" fill="#32ff00" stroke="#32ff00" stroke-width=".3"/><path d="M313.8,78L310.9,76.5L313.8,73.7L316.7,75.2Z" fill="#5bff00" stroke="#5bff00" stroke-width=".3"/><path d="M316.7,75.2L313.8,73.7L316.8,70.9L319.7,72.3ZM293.5,71.5L290.6,70L293.5,67.4L296.4,68.9Z" fill="#84ff00" stroke="#84ff00" stroke-width=".3"/><path d="M319.7,72.3L316.8,70.9L319.7,68.1L322.6,69.5Z" fill="#adff00" stroke="#adff00" stroke-width=".3"/><path d="M322.6,69.5L319.7,68.1L322.6,65.3L325.6,66.7Z" fill="#d6ff00" stroke="#d6ff00" stroke-width=".3"/><path d="M325.6,66.7L322.6,65.3L325.6,62.6L328.5,63.9Z" fill="#ffff00" stroke="#ffff00" stroke-width=".3"/><path d="M328.5,63.9L325.6,62.6L328.6,59.8L331.5,61.2Z" fill="#ffd500" stroke="#ffd500" stroke-width=".3"/><path d="M331.5,61.2L328.6,59.8L331.5,57.1L334.5,58.4Z" fill="#ffac00" stroke="#ffac00" stroke-width=".3"/><path d="M334.5,58.4L331.5,57.1L334.5,54.4L337.5,55.6ZM296.3,52.9L293.4,51.6L296.3,49.2L299.3,50.5Z" fill="#ff8200" stroke="#ff8200" stroke-width=".3"/><path d="M276.4,110.7L273.5,108.8L276.4,105.9L279.2,107.8Z" fill="#0087ff" stroke="#0087ff" stroke-width=".3"/><path d="M279.2,107.8L276.4,105.9L279.2,103.1L282.1,104.9Z" fill="#00aeff" stroke="#00aeff" stroke-width=".3"/><path d="M282.1,104.9L279.2,103.1L282,100.2L284.9,102.1Z" fill="#00d5ff" stroke="#00d5ff" stroke-width=".3"/><path d="M284.9,102.1L282,100.2L284.9,97.4L287.8,99.2Z" fill="#00fdff" stroke="#00fdff" stroke-width=".3"/><path d="M287.8,99.2L284.9,97.4L287.8,94.6L290.6,96.3Z" fill="#00ffda" stroke="#00ffda" stroke-width=".3"/><path d="M290.6,96.3L287.8,94.6L290.6,91.7L293.5,93.5ZM253.3,90.5L250.4,88.5L253.2,86L256.1,87.9Z" fill="#00ffb2" stroke="#00ffb2" stroke-width=".3"/><path d="M293.5,93.5L290.6,91.7L293.5,88.9L296.4,90.6ZM273.4,90.2L270.5,88.4L273.3,85.7L276.2,87.5Z" fill="#00ff8a" stroke="#00ff8a" stroke-width=".3"/><path d="M296.4,90.6L293.5,88.9L296.4,86.1L299.3,87.8Z" fill="#00ff62" stroke="#00ff62" stroke-width=".3"/><path d="M302.2,84.9L299.3,83.3L302.2,80.5L305.1,82.1Z" fill="#00ff12" stroke="#00ff12" stroke-width=".3"/><path d="M305.1,82.1L302.2,80.5L305.1,77.7L308,79.3Z" fill="#17ff00" stroke="#17ff00" stroke-width=".3"/><path d="M308,79.3L305.1,77.7L308,75L310.9,76.5Z" fill="#3fff00" stroke="#3fff00" stroke-width=".3"/><path d="M310.9,76.5L308,75L310.9,72.2L313.8,73.7ZM299.3,74.6L296.4,73.1L299.3,70.4L302.2,71.9Z" fill="#68ff00" stroke="#68ff00" stroke-width=".3"/><path d="M313.8,73.7L310.9,72.2L313.8,69.4L316.8,70.9ZM270.2,67.1L267.3,65.4L270.2,63.1L273.1,64.6Z" fill="#91ff00" stroke="#91ff00" stroke-width=".3"/><path d="M316.8,70.9L313.8,69.4L316.8,66.7L319.7,68.1ZM293.5,67.4L290.5,65.9L293.4,63.3L296.4,64.8Z" fill="#b9ff00" stroke="#b9ff00" stroke-width=".3"/><path d="M319.7,68.1L316.8,66.7L319.7,64L322.6,65.3Z" fill="#e2ff00" stroke="#e2ff00" stroke-width=".3"/><path d="M322.6,65.3L319.7,64L322.7,61.2L325.6,62.6Z" fill="#fff200" stroke="#fff200" stroke-width=".3"/><path d="M325.6,62.6L322.7,61.2L325.7,58.5L328.6,59.8Z" fill="#ffc900" stroke="#ffc900" stroke-width=".3"/><path d="M328.6,59.8L325.7,58.5L328.6,55.8L331.5,57.1ZM270,51.5L267,50.1L269.9,47.9L272.9,49.3Z" fill="#ffa000" stroke="#ffa000" stroke-width=".3"/><path d="M331.5,57.1L328.6,55.8L331.6,53.1L334.5,54.4Z" fill="#ff7600" stroke="#ff7600" stroke-width=".3"/><path d="M273.5,108.8L270.7,106.8L273.5,104L276.4,105.9Z" fill="#0097ff" stroke="#0097ff" stroke-width=".3"/><path d="M276.4,105.9L273.5,104L276.3,101.2L279.2,103.1Z" fill="#00beff" stroke="#00beff" stroke-width=".3"/><path d="M279.2,103.1L276.3,101.2L279.2,98.4L282,100.2Z" fill="#00e5ff" stroke="#00e5ff" stroke-width=".3"/><path d="M282,100.2L279.2,98.4L282,95.6L284.9,97.4Z" fill="#00fff2" stroke="#00fff2" stroke-width=".3"/><path d="M284.9,97.4L282,95.6L284.9,92.8L287.8,94.6Z" fill="#00ffca" stroke="#00ffca" stroke-width=".3"/><path d="M287.8,94.6L284.9,92.8L287.7,90L290.6,91.7Z" fill="#00ffa3" stroke="#00ffa3" stroke-width=".3"/><path d="M290.6,91.7L287.7,90L290.6,87.2L293.5,88.9Z" fill="#00ff7b" stroke="#00ff7b" stroke-width=".3"/><path d="M293.5,88.9L290.6,87.2L293.5,84.5L296.4,86.1ZM273.3,85.7L270.4,83.9L273.3,81.3L276.2,83.1Z" fill="#00ff54" stroke="#00ff54" stroke-width=".3"/><path d="M296.4,86.1L293.5,84.5L296.4,81.7L299.3,83.3Z" fill="#00ff2c" stroke="#00ff2c" stroke-width=".3"/><path d="M302.2,80.5L299.3,78.9L302.2,76.2L305.1,77.7Z" fill="#24ff00" stroke="#24ff00" stroke-width=".3"/><path d="M305.1,77.7L302.2,76.2L305.1,73.4L308,75ZM273.2,72.8L270.3,71.2L273.1,68.7L276,70.3Z" fill="#4dff00" stroke="#4dff00" stroke-width=".3"/><path d="M308,75L305.1,73.4L308,70.7L310.9,72.2Z" fill="#75ff00" stroke="#75ff00" stroke-width=".3"/><path d="M310.9,72.2L308,70.7L310.9,68L313.8,69.4Z" fill="#9eff00" stroke="#9eff00" stroke-width=".3"/><path d="M313.8,69.4L310.9,68L313.9,65.3L316.8,66.7Z" fill="#c6ff00" stroke="#c6ff00" stroke-width=".3"/><path d="M316.8,66.7L313.9,65.3L316.8,62.6L319.7,64Z" fill="#efff00" stroke="#efff00" stroke-width=".3"/><path d="M319.7,64L316.8,62.6L319.8,59.9L322.7,61.2ZM264.2,56L261.3,54.5L264.2,52.3L267.1,53.8Z" fill="#ffe600" stroke="#ffe600" stroke-width=".3"/><path d="M322.7,61.2L319.8,59.9L322.7,57.2L325.7,58.5ZM275.9,54.5L272.9,53L275.8,50.7L278.8,52.2Z" fill="#ffbd00" stroke="#ffbd00" stroke-width=".3"/><path d="M325.7,58.5L322.7,57.2L325.7,54.5L328.6,55.8Z" fill="#ff9400" stroke="#ff9400" stroke-width=".3"/><path d="M328.6,55.8L325.7,54.5L328.7,51.8L331.6,53.1Z" fill="#ff6b00" stroke="#ff6b00" stroke-width=".3"/><path d="M270.7,106.8L267.8,104.9L270.6,102.1L273.5,104Z" fill="#00a8ff" stroke="#00a8ff" stroke-width=".3"/><path d="M273.5,104L270.6,102.1L273.5,99.3L276.3,101.2Z" fill="#00cfff" stroke="#00cfff" stroke-width=".3"/><path d="M276.3,101.2L273.5,99.3L276.3,96.6L279.2,98.4Z" fill="#00f5ff" stroke="#00f5ff" stroke-width=".3"/><path d="M279.2,98.4L276.3,96.6L279.1,93.8L282,95.6Z" fill="#00ffe2" stroke="#00ffe2" stroke-width=".3"/><path d="M282,95.6L279.1,93.8L282,91L284.9,92.8Z" fill="#00ffbb" stroke="#00ffbb" stroke-width=".3"/><path d="M284.9,92.8L282,91L284.9,88.3L287.7,90Z" fill="#00ff94" stroke="#00ff94" stroke-width=".3"/><path d="M287.7,90L284.9,88.3L287.7,85.5L290.6,87.2Z" fill="#00ff6c" stroke="#00ff6c" stroke-width=".3"/><path d="M290.6,87.2L287.7,85.5L290.6,82.8L293.5,84.5Z" fill="#00ff45" stroke="#00ff45" stroke-width=".3"/><path d="M293.5,84.5L290.6,82.8L293.5,80.1L296.4,81.7Z" fill="#00ff1d" stroke="#00ff1d" stroke-width=".3"/><path d="M296.4,81.7L293.5,80.1L296.4,77.4L299.3,78.9Z" fill="#0aff00" stroke="#0aff00" stroke-width=".3"/><path d="M302.2,76.2L299.3,74.6L302.2,71.9L305.1,73.4ZM261.6,70.2L258.6,68.5L261.5,66.1L264.4,67.8Z" fill="#5aff00" stroke="#5aff00" stroke-width=".3"/><path d="M305.1,73.4L302.2,71.9L305.1,69.2L308,70.7ZM273.1,68.7L270.2,67.1L273.1,64.6L276,66.2Z" fill="#82ff00" stroke="#82ff00" stroke-width=".3"/><path d="M308,70.7L305.1,69.2L308,66.5L310.9,68ZM296.4,68.9L293.5,67.4L296.4,64.8L299.3,66.3Z" fill="#abff00" stroke="#abff00" stroke-width=".3"/><path d="M310.9,68L308,66.5L311,63.9L313.9,65.3Z" fill="#d3ff00" stroke="#d3ff00" stroke-width=".3"/><path d="M313.9,65.3L311,63.9L313.9,61.2L316.8,62.6Z" fill="#fcff00" stroke="#fcff00" stroke-width=".3"/><path d="M316.8,62.6L313.9,61.2L316.8,58.5L319.8,59.9Z" fill="#ffda00" stroke="#ffda00" stroke-width=".3"/><path d="M319.8,59.9L316.8,58.5L319.8,55.9L322.7,57.2Z" fill="#ffb100" stroke="#ffb100" stroke-width=".3"/><path d="M322.7,57.2L319.8,55.9L322.8,53.2L325.7,54.5Z" fill="#ff8800" stroke="#ff8800" stroke-width=".3"/><path d="M325.7,54.5L322.8,53.2L325.7,50.6L328.7,51.8Z" fill="#ff5f00" stroke="#ff5f00" stroke-width=".3"/><path d="M267.8,104.9L264.9,102.9L267.7,100.2L270.6,102.1Z" fill="#00b9ff" stroke="#00b9ff" stroke-width=".3"/><path d="M270.6,102.1L267.7,100.2L270.6,97.4L273.5,99.3Z" fill="#00e0ff" stroke="#00e0ff" stroke-width=".3"/><path d="M273.5,99.3L270.6,97.4L273.4,94.7L276.3,96.6Z" fill="#00fff8" stroke="#00fff8" stroke-width=".3"/><path d="M276.3,96.6L273.4,94.7L276.3,92L279.1,93.8Z" fill="#00ffd1" stroke="#00ffd1" stroke-width=".3"/><path d="M279.1,93.8L276.3,92L279.1,89.3L282,91Z" fill="#00ffab" stroke="#00ffab" stroke-width=".3"/><path d="M282,91L279.1,89.3L282,86.6L284.9,88.3Z" fill="#00ff84" stroke="#00ff84" stroke-width=".3"/><path d="M284.9,88.3L282,86.6L284.8,83.8L287.7,85.5Z" fill="#00ff5d" stroke="#00ff5d" stroke-width=".3"/><path d="M287.7,85.5L284.8,83.8L287.7,81.1L290.6,82.8Z" fill="#00ff36" stroke="#00ff36" stroke-width=".3"/><path d="M290.6,82.8L287.7,81.1L290.6,78.5L293.5,80.1Z" fill="#00ff0f" stroke="#00ff0f" stroke-width=".3"/><path d="M293.5,80.1L290.6,78.5L293.5,75.8L296.4,77.4Z" fill="#19ff00" stroke="#19ff00" stroke-width=".3"/><path d="M296.4,77.4L293.5,75.8L296.4,73.1L299.3,74.6Z" fill="#40ff00" stroke="#40ff00" stroke-width=".3"/><path d="M302.2,71.9L299.3,70.4L302.2,67.8L305.1,69.2Z" fill="#90ff00" stroke="#90ff00" stroke-width=".3"/><path d="M305.1,69.2L302.2,67.8L305.1,65.1L308,66.5Z" fill="#b8ff00" stroke="#b8ff00" stroke-width=".3"/><path d="M308,66.5L305.1,65.1L308,62.4L311,63.9ZM296.4,64.8L293.4,63.3L296.4,60.8L299.3,62.2Z" fill="#e0ff00" stroke="#e0ff00" stroke-width=".3"/><path d="M311,63.9L308,62.4L311,59.8L313.9,61.2ZM267.2,57.6L264.2,56L267.1,53.8L270,55.3Z" fill="#fff600" stroke="#fff600" stroke-width=".3"/><path d="M313.9,61.2L311,59.8L313.9,57.2L316.8,58.5Z" fill="#ffcd00" stroke="#ffcd00" stroke-width=".3"/><path d="M319.8,55.9L316.9,54.5L319.8,51.9L322.8,53.2ZM272.9,49.3L269.9,47.9L272.8,45.7L275.8,47.1Z" fill="#ff7c00" stroke="#ff7c00" stroke-width=".3"/><path d="M322.8,53.2L319.8,51.9L322.8,49.3L325.7,50.6Z" fill="#ff5300" stroke="#ff5300" stroke-width=".3"/><path d="M264.9,102.9L262,101L264.9,98.3L267.7,100.2Z" fill="#00cbff" stroke="#00cbff" stroke-width=".3"/><path d="M267.7,100.2L264.9,98.3L267.7,95.6L270.6,97.4Z" fill="#00f1ff" stroke="#00f1ff" stroke-width=".3"/><path d="M270.6,97.4L267.7,95.6L270.5,92.9L273.4,94.7Z" fill="#00ffe7" stroke="#00ffe7" stroke-width=".3"/><path d="M276.3,92L273.4,90.2L276.2,87.5L279.1,89.3Z" fill="#00ff9b" stroke="#00ff9b" stroke-width=".3"/><path d="M279.1,89.3L276.2,87.5L279.1,84.8L282,86.6Z" fill="#00ff74" stroke="#00ff74" stroke-width=".3"/><path d="M282,86.6L279.1,84.8L281.9,82.2L284.8,83.8Z" fill="#00ff4e" stroke="#00ff4e" stroke-width=".3"/><path d="M284.8,83.8L281.9,82.2L284.8,79.5L287.7,81.1Z" fill="#00ff27" stroke="#00ff27" stroke-width=".3"/><path d="M287.7,81.1L284.8,79.5L287.7,76.8L290.6,78.5Z" fill="#00ff00" stroke="#00ff00" stroke-width=".3"/><path d="M290.6,78.5L287.7,76.8L290.6,74.2L293.5,75.8Z" fill="#27ff00" stroke="#27ff00" stroke-width=".3"/><path d="M296.4,73.1L293.5,71.5L296.4,68.9L299.3,70.4Z" fill="#76ff00" stroke="#76ff00" stroke-width=".3"/><path d="M299.3,70.4L296.4,68.9L299.3,66.3L302.2,67.8Z" fill="#9dff00" stroke="#9dff00" stroke-width=".3"/><path d="M302.2,67.8L299.3,66.3L302.2,63.6L305.1,65.1ZM270.2,63.1L267.2,61.5L270.1,59.1L273,60.7Z" fill="#c5ff00" stroke="#c5ff00" stroke-width=".3"/><path d="M305.1,65.1L302.2,63.6L305.1,61L308,62.4Z" fill="#edff00" stroke="#edff00" stroke-width=".3"/><path d="M308,62.4L305.1,61L308.1,58.4L311,59.8ZM296.4,60.8L293.4,59.3L296.3,56.8L299.3,58.2Z" fill="#ffe900" stroke="#ffe900" stroke-width=".3"/><path d="M311,59.8L308.1,58.4L311,55.8L313.9,57.2ZM287.6,56.4L284.6,55L287.6,52.6L290.5,54Z" fill="#ffc100" stroke="#ffc100" stroke-width=".3"/><path d="M313.9,57.2L311,55.8L314,53.2L316.9,54.5ZM278.8,52.2L275.8,50.7L278.7,48.4L281.7,49.8Z" fill="#ff9800" stroke="#ff9800" stroke-width=".3"/><path d="M316.9,54.5L314,53.2L316.9,50.7L319.8,51.9Z" fill="#ff7000" stroke="#ff7000" stroke-width=".3"/><path d="M319.8,51.9L316.9,50.7L319.9,48.1L322.8,49.3Z" fill="#ff4700" stroke="#ff4700" stroke-width=".3"/><path d="M262,101L259.2,99L262,96.3L264.9,98.3Z" fill="#00ddff" stroke="#00ddff" stroke-width=".3"/><path d="M264.9,98.3L262,96.3L264.8,93.7L267.7,95.6ZM256.3,97L253.4,95L256.2,92.4L259.1,94.4Z" fill="#00fffc" stroke="#00fffc" stroke-width=".3"/><path d="M267.7,95.6L264.8,93.7L267.6,91L270.5,92.9ZM250.5,93L247.6,91L250.4,88.5L253.3,90.5Z" fill="#00ffd6" stroke="#00ffd6" stroke-width=".3"/><path d="M270.5,92.9L267.6,91L270.5,88.4L273.4,90.2Z" fill="#00ffb0" stroke="#00ffb0" stroke-width=".3"/><path d="M276.2,87.5L273.3,85.7L276.2,83.1L279.1,84.8ZM241.7,82.6L238.7,80.6L241.5,78.3L244.5,80.2Z" fill="#00ff64" stroke="#00ff64" stroke-width=".3"/><path d="M279.1,84.8L276.2,83.1L279,80.5L281.9,82.2Z" fill="#00ff3e" stroke="#00ff3e" stroke-width=".3"/><path d="M281.9,82.2L279,80.5L281.9,77.8L284.8,79.5Z" fill="#00ff18" stroke="#00ff18" stroke-width=".3"/><path d="M284.8,79.5L281.9,77.8L284.8,75.2L287.7,76.8Z" fill="#0fff00" stroke="#0fff00" stroke-width=".3"/><path d="M287.7,76.8L284.8,75.2L287.7,72.6L290.6,74.2ZM258.7,72.6L255.8,70.8L258.6,68.5L261.6,70.2Z" fill="#36ff00" stroke="#36ff00" stroke-width=".3"/><path d="M290.6,74.2L287.7,72.6L290.6,70L293.5,71.5ZM270.3,71.2L267.3,69.5L270.2,67.1L273.1,68.7Z" fill="#5dff00" stroke="#5dff00" stroke-width=".3"/><path d="M299.3,66.3L296.4,64.8L299.3,62.2L302.2,63.6ZM258.5,60.5L255.6,58.9L258.4,56.7L261.4,58.3Z" fill="#d2ff00" stroke="#d2ff00" stroke-width=".3"/><path d="M302.2,63.6L299.3,62.2L302.2,59.6L305.1,61Z" fill="#faff00" stroke="#faff00" stroke-width=".3"/><path d="M305.1,61L302.2,59.6L305.1,57.1L308.1,58.4ZM293.4,59.3L290.5,57.9L293.4,55.4L296.3,56.8Z" fill="#ffdc00" stroke="#ffdc00" stroke-width=".3"/><path d="M308.1,58.4L305.1,57.1L308.1,54.5L311,55.8ZM284.6,55L281.7,53.6L284.6,51.2L287.6,52.6Z" fill="#ffb400" stroke="#ffb400" stroke-width=".3"/><path d="M311,55.8L308.1,54.5L311,51.9L314,53.2Z" fill="#ff8c00" stroke="#ff8c00" stroke-width=".3"/><path d="M314,53.2L311,51.9L314,49.4L316.9,50.7Z" fill="#ff6400" stroke="#ff6400" stroke-width=".3"/><path d="M316.9,50.7L314,49.4L316.9,46.8L319.9,48.1Z" fill="#ff3c00" stroke="#ff3c00" stroke-width=".3"/><path d="M259.2,99L256.3,97L259.1,94.4L262,96.3Z" fill="#00efff" stroke="#00efff" stroke-width=".3"/><path d="M262,96.3L259.1,94.4L261.9,91.8L264.8,93.7Z" fill="#00ffea" stroke="#00ffea" stroke-width=".3"/><path d="M264.8,93.7L261.9,91.8L264.7,89.1L267.6,91ZM256.2,92.4L253.3,90.5L256.1,87.9L259,89.8Z" fill="#00ffc5" stroke="#00ffc5" stroke-width=".3"/><path d="M267.6,91L264.7,89.1L267.6,86.5L270.5,88.4ZM250.4,88.5L247.5,86.5L250.3,84.1L253.2,86Z" fill="#00ff9f" stroke="#00ff9f" stroke-width=".3"/><path d="M270.5,88.4L267.6,86.5L270.4,83.9L273.3,85.7Z" fill="#00ff7a" stroke="#00ff7a" stroke-width=".3"/><path d="M276.2,83.1L273.3,81.3L276.1,78.7L279,80.5ZM241.5,78.3L238.6,76.3L241.4,74.1L244.4,76Z" fill="#00ff2e" stroke="#00ff2e" stroke-width=".3"/><path d="M279,80.5L276.1,78.7L279,76.2L281.9,77.8Z" fill="#00ff08" stroke="#00ff08" stroke-width=".3"/><path d="M281.9,77.8L279,76.2L281.9,73.6L284.8,75.2Z" fill="#1eff00" stroke="#1eff00" stroke-width=".3"/><path d="M284.8,75.2L281.9,73.6L284.8,71L287.7,72.6Z" fill="#45ff00" stroke="#45ff00" stroke-width=".3"/><path d="M287.7,72.6L284.8,71L287.6,68.4L290.6,70ZM258.6,68.5L255.7,66.8L258.6,64.5L261.5,66.1ZM249.9,67.3L247,65.5L249.9,63.3L252.8,65Z" fill="#6bff00" stroke="#6bff00" stroke-width=".3"/><path d="M290.6,70L287.6,68.4L290.5,65.9L293.5,67.4Z" fill="#92ff00" stroke="#92ff00" stroke-width=".3"/><path d="M299.3,62.2L296.4,60.8L299.3,58.2L302.2,59.6Z" fill="#fff700" stroke="#fff700" stroke-width=".3"/><path d="M305.1,57.1L302.2,55.7L305.1,53.1L308.1,54.5ZM293.4,55.4L290.5,54L293.4,51.6L296.3,52.9Z" fill="#ffa800" stroke="#ffa800" stroke-width=".3"/><path d="M308.1,54.5L305.1,53.1L308.1,50.6L311,51.9Z" fill="#ff8000" stroke="#ff8000" stroke-width=".3"/><path d="M311,51.9L308.1,50.6L311,48.1L314,49.4ZM275.8,47.1L272.8,45.7L275.7,43.5L278.7,44.8Z" fill="#ff5800" stroke="#ff5800" stroke-width=".3"/><path d="M314,49.4L311,48.1L314,45.6L316.9,46.8Z" fill="#ff3000" stroke="#ff3000" stroke-width=".3"/><path d="M259.1,94.4L256.2,92.4L259,89.8L261.9,91.8Z" fill="#00ffd8" stroke="#00ffd8" stroke-width=".3"/><path d="M261.9,91.8L259,89.8L261.8,87.3L264.7,89.1Z" fill="#00ffb3" stroke="#00ffb3" stroke-width=".3"/><path d="M264.7,89.1L261.8,87.3L264.7,84.7L267.6,86.5ZM256.1,87.9L253.2,86L256,83.5L258.9,85.4Z" fill="#00ff8e" stroke="#00ff8e" stroke-width=".3"/><path d="M267.6,86.5L264.7,84.7L267.5,82.2L270.4,83.9ZM250.3,84.1L247.4,82.1L250.2,79.8L253.1,81.6Z" fill="#00ff69" stroke="#00ff69" stroke-width=".3"/><path d="M270.4,83.9L267.5,82.2L270.4,79.6L273.3,81.3Z" fill="#00ff43" stroke="#00ff43" stroke-width=".3"/><path d="M276.1,78.7L273.2,77L276.1,74.5L279,76.2Z" fill="#08ff00" stroke="#08ff00" stroke-width=".3"/><path d="M279,76.2L276.1,74.5L279,72L281.9,73.6Z" fill="#2eff00" stroke="#2eff00" stroke-width=".3"/><path d="M281.9,73.6L279,72L281.8,69.4L284.8,71Z" fill="#54ff00" stroke="#54ff00" stroke-width=".3"/><path d="M284.8,71L281.8,69.4L284.7,66.9L287.6,68.4Z" fill="#7aff00" stroke="#7aff00" stroke-width=".3"/><path d="M290.5,65.9L287.6,64.4L290.5,61.8L293.4,63.3Z" fill="#c7ff00" stroke="#c7ff00" stroke-width=".3"/><path d="M293.4,63.3L290.5,61.8L293.4,59.3L296.4,60.8Z" fill="#eeff00" stroke="#eeff00" stroke-width=".3"/><path d="M299.3,58.2L296.3,56.8L299.3,54.3L302.2,55.7Z" fill="#ffc200" stroke="#ffc200" stroke-width=".3"/><path d="M302.2,55.7L299.3,54.3L302.2,51.8L305.1,53.1ZM290.5,54L287.6,52.6L290.5,50.2L293.4,51.6Z" fill="#ff9b00" stroke="#ff9b00" stroke-width=".3"/><path d="M305.1,53.1L302.2,51.8L305.1,49.3L308.1,50.6Z" fill="#ff7400" stroke="#ff7400" stroke-width=".3"/><path d="M308.1,50.6L305.1,49.3L308.1,46.8L311,48.1Z" fill="#ff4c00" stroke="#ff4c00" stroke-width=".3"/><path d="M311,48.1L308.1,46.8L311.1,44.4L314,45.6Z" fill="#ff2400" stroke="#ff2400" stroke-width=".3"/><path d="M259,89.8L256.1,87.9L258.9,85.4L261.8,87.3Z" fill="#00ffa1" stroke="#00ffa1" stroke-width=".3"/><path d="M261.8,87.3L258.9,85.4L261.8,82.9L264.7,84.7ZM253.2,86L250.3,84.1L253.1,81.6L256,83.5Z" fill="#00ff7c" stroke="#00ff7c" stroke-width=".3"/><path d="M264.7,84.7L261.8,82.9L264.6,80.4L267.5,82.2ZM256,83.5L253.1,81.6L256,79.2L258.9,81Z" fill="#00ff58" stroke="#00ff58" stroke-width=".3"/><path d="M267.5,82.2L264.6,80.4L267.5,77.8L270.4,79.6ZM250.2,79.8L247.3,77.9L250.1,75.5L253,77.4Z" fill="#00ff33" stroke="#00ff33" stroke-width=".3"/><path d="M270.4,79.6L267.5,77.8L270.3,75.3L273.2,77Z" fill="#00ff0e" stroke="#00ff0e" stroke-width=".3"/><path d="M276.1,74.5L273.2,72.8L276,70.3L279,72Z" fill="#3dff00" stroke="#3dff00" stroke-width=".3"/><path d="M279,72L276,70.3L278.9,67.8L281.8,69.4Z" fill="#63ff00" stroke="#63ff00" stroke-width=".3"/><path d="M281.8,69.4L278.9,67.8L281.8,65.3L284.7,66.9Z" fill="#89ff00" stroke="#89ff00" stroke-width=".3"/><path d="M284.7,66.9L281.8,65.3L284.7,62.8L287.6,64.4Z" fill="#afff00" stroke="#afff00" stroke-width=".3"/><path d="M287.6,64.4L284.7,62.8L287.6,60.4L290.5,61.8ZM267.2,61.5L264.3,59.9L267.2,57.6L270.1,59.1Z" fill="#d5ff00" stroke="#d5ff00" stroke-width=".3"/><path d="M290.5,61.8L287.6,60.4L290.5,57.9L293.4,59.3Z" fill="#fbff00" stroke="#fbff00" stroke-width=".3"/><path d="M296.3,56.8L293.4,55.4L296.3,52.9L299.3,54.3Z" fill="#ffb500" stroke="#ffb500" stroke-width=".3"/><path d="M302.2,51.8L299.3,50.5L302.2,48L305.1,49.3Z" fill="#ff6700" stroke="#ff6700" stroke-width=".3"/><path d="M305.1,49.3L302.2,48L305.2,45.6L308.1,46.8Z" fill="#ff4000" stroke="#ff4000" stroke-width=".3"/><path d="M308.1,46.8L305.2,45.6L308.1,43.1L311.1,44.4Z" fill="#ff1800" stroke="#ff1800" stroke-width=".3"/><path d="M258.9,85.4L256,83.5L258.9,81L261.8,82.9Z" fill="#00ff6a" stroke="#00ff6a" stroke-width=".3"/><path d="M261.8,82.9L258.9,81L261.7,78.6L264.6,80.4ZM253.1,81.6L250.2,79.8L253,77.4L256,79.2Z" fill="#00ff46" stroke="#00ff46" stroke-width=".3"/><path d="M264.6,80.4L261.7,78.6L264.5,76.1L267.5,77.8ZM256,79.2L253,77.4L255.9,75L258.8,76.8Z" fill="#00ff22" stroke="#00ff22" stroke-width=".3"/><path d="M267.5,77.8L264.5,76.1L267.4,73.6L270.3,75.3Z" fill="#03ff00" stroke="#03ff00" stroke-width=".3"/><path d="M270.3,75.3L267.4,73.6L270.3,71.2L273.2,72.8ZM244.3,71.8L241.3,70L244.2,67.7L247.1,69.6Z" fill="#28ff00" stroke="#28ff00" stroke-width=".3"/><path d="M276,70.3L273.1,68.7L276,66.2L278.9,67.8Z" fill="#72ff00" stroke="#72ff00" stroke-width=".3"/><path d="M278.9,67.8L276,66.2L278.9,63.8L281.8,65.3Z" fill="#98ff00" stroke="#98ff00" stroke-width=".3"/><path d="M284.7,62.8L281.8,61.3L284.7,58.9L287.6,60.4Z" fill="#e3ff00" stroke="#e3ff00" stroke-width=".3"/><path d="M287.6,60.4L284.7,58.9L287.6,56.4L290.5,57.9Z" fill="#fff500" stroke="#fff500" stroke-width=".3"/><path d="M299.3,50.5L296.3,49.2L299.3,46.7L302.2,48ZM287.5,48.9L284.6,47.5L287.5,45.2L290.4,46.5Z" fill="#ff5b00" stroke="#ff5b00" stroke-width=".3"/><path d="M302.2,48L299.3,46.7L302.2,44.3L305.2,45.6ZM278.7,44.8L275.7,43.5L278.6,41.3L281.6,42.6Z" fill="#ff3400" stroke="#ff3400" stroke-width=".3"/><path d="M305.2,45.6L302.2,44.3L305.2,41.9L308.1,43.1Z" fill="#ff0d00" stroke="#ff0d00" stroke-width=".3"/><path d="M247.6,91L244.7,89L247.5,86.5L250.4,88.5Z" fill="#00ffc2" stroke="#00ffc2" stroke-width=".3"/><path d="M258.9,81L256,79.2L258.8,76.8L261.7,78.6Z" fill="#00ff34" stroke="#00ff34" stroke-width=".3"/><path d="M261.7,78.6L258.8,76.8L261.6,74.3L264.5,76.1ZM253,77.4L250.1,75.5L253,73.2L255.9,75Z" fill="#00ff10" stroke="#00ff10" stroke-width=".3"/><path d="M264.5,76.1L261.6,74.3L264.5,71.9L267.4,73.6Z" fill="#14ff00" stroke="#14ff00" stroke-width=".3"/><path d="M267.4,73.6L264.5,71.9L267.3,69.5L270.3,71.2Z" fill="#38ff00" stroke="#38ff00" stroke-width=".3"/><path d="M276,66.2L273.1,64.6L276,62.2L278.9,63.8Z" fill="#a7ff00" stroke="#a7ff00" stroke-width=".3"/><path d="M278.9,63.8L276,62.2L278.8,59.8L281.8,61.3Z" fill="#ccff00" stroke="#ccff00" stroke-width=".3"/><path d="M281.8,61.3L278.8,59.8L281.7,57.4L284.7,58.9Z" fill="#f1ff00" stroke="#f1ff00" stroke-width=".3"/><path d="M284.7,58.9L281.7,57.4L284.6,55L287.6,56.4Z" fill="#ffe700" stroke="#ffe700" stroke-width=".3"/><path d="M293.4,51.6L290.5,50.2L293.4,47.8L296.3,49.2Z" fill="#ff7500" stroke="#ff7500" stroke-width=".3"/><path d="M296.3,49.2L293.4,47.8L296.3,45.5L299.3,46.7ZM284.6,47.5L281.6,46.2L284.6,43.9L287.5,45.2Z" fill="#ff4e00" stroke="#ff4e00" stroke-width=".3"/><path d="M299.3,46.7L296.3,45.5L299.3,43.1L302.2,44.3Z" fill="#ff2800" stroke="#ff2800" stroke-width=".3"/><path d="M302.2,44.3L299.3,43.1L302.2,40.7L305.2,41.9Z" fill="#ff0100" stroke="#ff0100" stroke-width=".3"/><path d="M244.7,89L241.8,86.9L244.6,84.5L247.5,86.5Z" fill="#00ffae" stroke="#00ffae" stroke-width=".3"/><path d="M258.8,76.8L255.9,75L258.7,72.6L261.6,74.3Z" fill="#01ff00" stroke="#01ff00" stroke-width=".3"/><path d="M264.5,71.9L261.6,70.2L264.4,67.8L267.3,69.5Z" fill="#49ff00" stroke="#49ff00" stroke-width=".3"/><path d="M267.3,69.5L264.4,67.8L267.3,65.4L270.2,67.1Z" fill="#6dff00" stroke="#6dff00" stroke-width=".3"/><path d="M273.1,64.6L270.2,63.1L273,60.7L276,62.2Z" fill="#b6ff00" stroke="#b6ff00" stroke-width=".3"/><path d="M278.8,59.8L275.9,58.3L278.8,55.9L281.7,57.4Z" fill="#fffe00" stroke="#fffe00" stroke-width=".3"/><path d="M281.7,57.4L278.8,55.9L281.7,53.6L284.6,55Z" fill="#ffd900" stroke="#ffd900" stroke-width=".3"/><path d="M290.5,50.2L287.5,48.9L290.4,46.5L293.4,47.8Z" fill="#ff6800" stroke="#ff6800" stroke-width=".3"/><path d="M293.4,47.8L290.4,46.5L293.4,44.2L296.3,45.5Z" fill="#ff4200" stroke="#ff4200" stroke-width=".3"/><path d="M296.3,45.5L293.4,44.2L296.3,41.8L299.3,43.1ZM284.6,43.9L281.6,42.6L284.5,40.3L287.5,41.6Z" fill="#ff1c00" stroke="#ff1c00" stroke-width=".3"/><path d="M299.3,43.1L296.3,41.8L299.3,39.5L302.2,40.7ZM296.3,41.8L293.4,40.6L296.3,38.3L299.3,39.5ZM293.4,40.6L290.4,39.3L293.3,37.1L296.3,38.3ZM287.5,41.6L284.5,40.3L287.5,38.1L290.4,39.3ZM290.4,39.3L287.5,38.1L290.4,35.9L293.3,37.1ZM284.5,40.3L281.6,39.1L284.5,36.9L287.5,38.1ZM287.5,38.1L284.5,36.9L287.4,34.7L290.4,35.9Z" fill="#ff0000" stroke="#ff0000" stroke-width=".3"/><path d="M244.6,84.5L241.7,82.6L244.5,80.2L247.4,82.1Z" fill="#00ff78" stroke="#00ff78" stroke-width=".3"/><path d="M255.9,75L253,73.2L255.8,70.8L258.7,72.6Z" fill="#13ff00" stroke="#13ff00" stroke-width=".3"/><path d="M264.4,67.8L261.5,66.1L264.4,63.8L267.3,65.4Z" fill="#7dff00" stroke="#7dff00" stroke-width=".3"/><path d="M267.3,65.4L264.4,63.8L267.2,61.5L270.2,63.1Z" fill="#a1ff00" stroke="#a1ff00" stroke-width=".3"/><path d="M273,60.7L270.1,59.1L273,56.8L275.9,58.3Z" fill="#eaff00" stroke="#eaff00" stroke-width=".3"/><path d="M275.9,58.3L273,56.8L275.9,54.5L278.8,55.9Z" fill="#fff000" stroke="#fff000" stroke-width=".3"/><path d="M278.8,55.9L275.9,54.5L278.8,52.2L281.7,53.6Z" fill="#ffcb00" stroke="#ffcb00" stroke-width=".3"/><path d="M281.7,53.6L278.8,52.2L281.7,49.8L284.6,51.2Z" fill="#ffa600" stroke="#ffa600" stroke-width=".3"/><path d="M284.6,51.2L281.7,49.8L284.6,47.5L287.5,48.9Z" fill="#ff8100" stroke="#ff8100" stroke-width=".3"/><path d="M290.4,46.5L287.5,45.2L290.4,42.9L293.4,44.2Z" fill="#ff3500" stroke="#ff3500" stroke-width=".3"/><path d="M293.4,44.2L290.4,42.9L293.4,40.6L296.3,41.8Z" fill="#ff0f00" stroke="#ff0f00" stroke-width=".3"/><path d="M238.8,84.9L235.9,82.9L238.7,80.6L241.7,82.6Z" fill="#00ff86" stroke="#00ff86" stroke-width=".3"/><path d="M244.5,80.2L241.5,78.3L244.4,76L247.3,77.9Z" fill="#00ff42" stroke="#00ff42" stroke-width=".3"/><path d="M247.3,77.9L244.4,76L247.2,73.7L250.1,75.5Z" fill="#00ff20" stroke="#00ff20" stroke-width=".3"/><path d="M250.1,75.5L247.2,73.7L250,71.4L253,73.2Z" fill="#02ff00" stroke="#02ff00" stroke-width=".3"/><path d="M255.8,70.8L252.9,69.1L255.7,66.8L258.6,68.5Z" fill="#48ff00" stroke="#48ff00" stroke-width=".3"/><path d="M261.5,66.1L258.6,64.5L261.4,62.2L264.4,63.8Z" fill="#8eff00" stroke="#8eff00" stroke-width=".3"/><path d="M270.1,59.1L267.2,57.6L270,55.3L273,56.8Z" fill="#f9ff00" stroke="#f9ff00" stroke-width=".3"/><path d="M281.7,49.8L278.7,48.4L281.6,46.2L284.6,47.5Z" fill="#ff7300" stroke="#ff7300" stroke-width=".3"/><path d="M287.5,45.2L284.6,43.9L287.5,41.6L290.4,42.9Z" fill="#ff2900" stroke="#ff2900" stroke-width=".3"/><path d="M290.4,42.9L287.5,41.6L290.4,39.3L293.4,40.6Z" fill="#ff0300" stroke="#ff0300" stroke-width=".3"/><path d="M238.7,80.6L235.8,78.6L238.6,76.3L241.5,78.3Z" fill="#00ff4f" stroke="#00ff4f" stroke-width=".3"/><path d="M244.4,76L241.4,74.1L244.3,71.8L247.2,73.7Z" fill="#00ff0d" stroke="#00ff0d" stroke-width=".3"/><path d="M247.2,73.7L244.3,71.8L247.1,69.6L250,71.4Z" fill="#15ff00" stroke="#15ff00" stroke-width=".3"/><path d="M250,71.4L247.1,69.6L249.9,67.3L252.9,69.1Z" fill="#37ff00" stroke="#37ff00" stroke-width=".3"/><path d="M252.9,69.1L249.9,67.3L252.8,65L255.7,66.8Z" fill="#59ff00" stroke="#59ff00" stroke-width=".3"/><path d="M255.7,66.8L252.8,65L255.6,62.8L258.6,64.5Z" fill="#7cff00" stroke="#7cff00" stroke-width=".3"/><path d="M258.6,64.5L255.6,62.8L258.5,60.5L261.4,62.2Z" fill="#9fff00" stroke="#9fff00" stroke-width=".3"/><path d="M261.4,62.2L258.5,60.5L261.4,58.3L264.3,59.9Z" fill="#c2ff00" stroke="#c2ff00" stroke-width=".3"/><path d="M264.3,59.9L261.4,58.3L264.2,56L267.2,57.6Z" fill="#e5ff00" stroke="#e5ff00" stroke-width=".3"/><path d="M270,55.3L267.1,53.8L270,51.5L272.9,53Z" fill="#ffd200" stroke="#ffd200" stroke-width=".3"/><path d="M272.9,53L270,51.5L272.9,49.3L275.8,50.7Z" fill="#ffae00" stroke="#ffae00" stroke-width=".3"/><path d="M275.8,50.7L272.9,49.3L275.8,47.1L278.7,48.4Z" fill="#ff8a00" stroke="#ff8a00" stroke-width=".3"/><path d="M278.7,48.4L275.8,47.1L278.7,44.8L281.6,46.2Z" fill="#ff6600" stroke="#ff6600" stroke-width=".3"/><path d="M281.6,46.2L278.7,44.8L281.6,42.6L284.6,43.9Z" fill="#ff4100" stroke="#ff4100" stroke-width=".3"/><path d="M233,80.8L230.1,78.8L232.9,76.6L235.8,78.6Z" fill="#00ff5b" stroke="#00ff5b" stroke-width=".3"/><path d="M235.8,78.6L232.9,76.6L235.7,74.4L238.6,76.3Z" fill="#00ff3b" stroke="#00ff3b" stroke-width=".3"/><path d="M238.6,76.3L235.7,74.4L238.5,72.2L241.4,74.1Z" fill="#00ff1a" stroke="#00ff1a" stroke-width=".3"/><path d="M241.4,74.1L238.5,72.2L241.3,70L244.3,71.8Z" fill="#07ff00" stroke="#07ff00" stroke-width=".3"/><path d="M247.1,69.6L244.2,67.7L247,65.5L249.9,67.3Z" fill="#4aff00" stroke="#4aff00" stroke-width=".3"/><path d="M252.8,65L249.9,63.3L252.7,61.1L255.6,62.8Z" fill="#8dff00" stroke="#8dff00" stroke-width=".3"/><path d="M255.6,62.8L252.7,61.1L255.6,58.9L258.5,60.5Z" fill="#b0ff00" stroke="#b0ff00" stroke-width=".3"/><path d="M261.4,58.3L258.4,56.7L261.3,54.5L264.2,56Z" fill="#f5ff00" stroke="#f5ff00" stroke-width=".3"/><path d="M267.1,53.8L264.2,52.3L267,50.1L270,51.5Z" fill="#ffc300" stroke="#ffc300" stroke-width=".3"/><path d="M281.6,42.6L278.6,41.3L281.6,39.1L284.5,40.3Z" fill="#ff1000" stroke="#ff1000" stroke-width=".3"/><path d="M287.8,118.4L299.3,106.3L310.8,94.3L322.5,82.5L334.3,70.9L346.2,59.5M287.8,118.4L276.4,110.7L264.9,102.9L253.4,95L241.8,86.9L230.1,78.8M285,116.5L296.4,104.5L307.9,92.7L319.6,81L331.4,69.5L343.3,58.2M290.7,115.4L279.2,107.8L267.7,100.2L256.2,92.4L244.6,84.5L232.9,76.6M282.1,114.6L293.5,102.7L305,91L316.7,79.5L328.5,68.1L340.4,56.9M293.5,112.3L282.1,104.9L270.6,97.4L259,89.8L247.4,82.1L235.7,74.4M279.3,112.7L290.6,101L302.2,89.4L313.8,78L325.6,66.7L337.5,55.6M296.4,109.3L284.9,102.1L273.4,94.7L261.8,87.3L250.2,79.8L238.5,72.2M276.4,110.7L287.8,99.2L299.3,87.8L310.9,76.5L322.6,65.3L334.5,54.4M299.3,106.3L287.8,99.2L276.3,92L264.7,84.7L253,77.4L241.3,70M273.5,108.8L284.9,97.4L296.4,86.1L308,75L319.7,64L331.6,53.1M302.1,103.3L290.6,96.3L279.1,89.3L267.5,82.2L255.9,75L244.2,67.7M270.7,106.8L282,95.6L293.5,84.5L305.1,73.4L316.8,62.6L328.7,51.8M305,100.3L293.5,93.5L282,86.6L270.4,79.6L258.7,72.6L247,65.5M267.8,104.9L279.1,93.8L290.6,82.8L302.2,71.9L313.9,61.2L325.7,50.6M307.9,97.3L296.4,90.6L284.8,83.8L273.2,77L261.6,70.2L249.9,63.3M264.9,102.9L276.3,92L287.7,81.1L299.3,70.4L311,59.8L322.8,49.3M310.8,94.3L299.3,87.8L287.7,81.1L276.1,74.5L264.4,67.8L252.7,61.1M262,101L273.4,90.2L284.8,79.5L296.4,68.9L308.1,58.4L319.9,48.1M313.7,91.4L302.2,84.9L290.6,78.5L279,72L267.3,65.4L255.6,58.9M259.2,99L270.5,88.4L281.9,77.8L293.5,67.4L305.1,57.1L316.9,46.8M316.6,88.4L305.1,82.1L293.5,75.8L281.8,69.4L270.2,63.1L258.4,56.7M256.3,97L267.6,86.5L279,76.2L290.5,65.9L302.2,55.7L314,45.6M319.5,85.5L308,79.3L296.4,73.1L284.7,66.9L273,60.7L261.3,54.5M253.4,95L264.7,84.7L276.1,74.5L287.6,64.4L299.3,54.3L311.1,44.4M322.5,82.5L310.9,76.5L299.3,70.4L287.6,64.4L275.9,58.3L264.2,52.3M250.5,93L261.8,82.9L273.2,72.8L284.7,62.8L296.3,52.9L308.1,43.1M325.4,79.6L313.8,73.7L302.2,67.8L290.5,61.8L278.8,55.9L267,50.1M247.6,91L258.9,81L270.3,71.2L281.8,61.3L293.4,51.6L305.2,41.9M328.4,76.7L316.8,70.9L305.1,65.1L293.4,59.3L281.7,53.6L269.9,47.9M244.7,89L256,79.2L267.3,69.5L278.8,59.8L290.5,50.2L302.2,40.7M331.3,73.8L319.7,68.1L308,62.4L296.3,56.8L284.6,51.2L272.8,45.7M241.8,86.9L253,77.4L264.4,67.8L275.9,58.3L287.5,48.9L299.3,39.5M334.3,70.9L322.6,65.3L311,59.8L299.3,54.3L287.5,48.9L275.7,43.5M238.8,84.9L250.1,75.5L261.5,66.1L273,56.8L284.6,47.5L296.3,38.3M337.2,68L325.6,62.6L313.9,57.2L302.2,51.8L290.4,46.5L278.6,41.3M235.9,82.9L247.2,73.7L258.6,64.5L270,55.3L281.6,46.2L293.3,37.1M340.2,65.2L328.6,59.8L316.9,54.5L305.1,49.3L293.4,44.2L281.6,39.1M233,80.8L244.3,71.8L255.6,62.8L267.1,53.8L278.7,44.8L290.4,35.9M343.2,62.3L331.5,57.1L319.8,51.9L308.1,46.8L296.3,41.8L284.5,36.9M230.1,78.8L241.3,70L252.7,61.1L264.2,52.3L275.7,43.5L287.4,34.7M346.2,59.5L334.5,54.4L322.8,49.3L311.1,44.4L299.3,39.5L287.4,34.7" stroke="#000" stroke-opacity=".42" stroke-width=".5" fill="none"/><rect x="293.8" y="41.7" width="7" height="2.8" fill="#e4ecec" stroke="#9aa" stroke-width=".4"/><text x="225.9" y="121.9" text-anchor="middle" font-size="5.3">50</text><text x="223.6" y="42.8" text-anchor="middle" font-size="5.3">100</text><text x="223.3" y="52.5" text-anchor="middle" font-size="5.3">95</text><text x="223.9" y="63.3" text-anchor="middle" font-size="5.3">90</text><text x="223.9" y="73" text-anchor="middle" font-size="5.3">85</text><text x="224.7" y="82.5" text-anchor="middle" font-size="5.3">80</text><text x="224.7" y="91.9" text-anchor="middle" font-size="5.3">75</text><text x="225" y="103" text-anchor="middle" font-size="5.3">70</text><text x="240.5" y="129.2" text-anchor="middle" font-size="5.3">40</text><text x="251.7" y="135.2" text-anchor="middle" font-size="5.3">30</text><text x="263.2" y="141" text-anchor="middle" font-size="5.3">20</text><text x="274.1" y="146.4" text-anchor="middle" font-size="5.3">10</text><text x="284.1" y="151.5" text-anchor="middle" font-size="5.3">0</text><text x="290.7" y="151.8" text-anchor="middle" font-size="5.3">10</text><text x="301.4" y="147.3" text-anchor="middle" font-size="5.3">20</text><text x="310.5" y="141.6" text-anchor="middle" font-size="5.3">30</text><text x="322" y="136.3" text-anchor="middle" font-size="5.3">40</text><text x="332.7" y="131.7" text-anchor="middle" font-size="5.3">50</text><text x="344.6" y="123.8" text-anchor="middle" font-size="5.3">60</text><text class="t" x="213.2" y="149.7" font-size="5.45" textLength="50.5" lengthAdjust="spacingAndGlyphs">A: Solvent ratio (% <tspan font-style="italic">v/v</tspan>)</text><text class="t" x="313.8" y="149.2" font-size="5.45" textLength="44.9" lengthAdjust="spacingAndGlyphs">C: Temperature (°C)</text><text transform="translate(214.9,80) rotate(-90)" text-anchor="middle" font-size="5.7" class="t" textLength="56" lengthAdjust="spacingAndGlyphs">Extraction yield (% <tspan font-style="italic">v/v</tspan>)</text><text x="199.9" y="10.8" font-size="10" font-weight="bold" fill="#111">(b)</text></g><g><path d="M425,100.3L481.4,80.6L537.5,100.1M424.5,90.7L481.4,72L538,90.5M424,80.9L481.4,63.3L538.4,80.8M423.5,71L481.4,54.4L538.9,70.9M423,61L481.3,45.4L539.4,60.9M422.5,50.7L481.3,36.3L539.8,50.7M422,40.3L481.3,27L540.3,40.3M425,100.3L422,40.3M537.5,100.1L540.3,40.3M436.3,96.3L433.9,37.7M526.3,96.2L528.5,37.7M447.5,92.4L445.7,35M515.1,92.3L516.7,35M458.8,88.5L457.6,32.3M503.9,88.4L504.9,32.3M470.1,84.5L469.5,29.7M492.6,84.5L493.1,29.7M481.4,80.6L481.3,27M481.4,80.6L481.3,27M422,40.3L425.9,119.4M540.3,40.3L536.7,119.2M481.4,80.6L481.4,97.9" stroke="#939393" stroke-width=".65" fill="none"/><path d="M424.4,100.3h1.2M423.9,90.7h1.2M423.4,80.9h1.2M422.9,71h1.2M422.4,61h1.2M421.9,50.7h1.2M421.4,40.3h1.2" stroke="#333" stroke-width="1"/><path d="M425.9,119.4L481.3,146.9L536.7,119.2L481.4,97.9Z" fill="#646464"/><path d="M525.3,114.8L523.9,115.4L522.5,116.1L521.1,116.7L519.6,117.4L518.7,117.8L517.3,118.5L515.9,119.1L514.5,119.8L513,120.4L511.6,121.1L510.2,121.7L508.8,122.4L507.4,123L506,123.7L504.6,124.3L503.2,125L501.8,125.6L500.4,126.3L499,127L497.6,127.6L496.2,128.3L494.9,128.9L493.5,129.6L492.1,130.2L490.7,130.9L489.3,131.6L487.9,132.2L486.5,132.9L485.2,133.5L483.8,134.2L482.4,134.9L481,135.5L479.7,136.2L478.3,136.9L476.9,137.5L475.6,138.2L474.2,138.9L472.9,139.6L471.5,140.2L470.2,140.9L469.7,141.1" stroke="#24c767" stroke-width="1" fill="none"/><path d="M516.8,111.5L515.4,112.2L514,112.8L512.6,113.4L511.1,114L509.7,114.6L508.3,115.3L506.9,115.9L505.5,116.5L504,117.1L502.6,117.7L501.3,118.3L500.2,118.8L498.8,119.4L497.4,120L495.9,120.6L494.5,121.2L493.1,121.9L491.6,122.5L490.2,123.1L488.7,123.7L487.8,124.1L486.3,124.7L484.9,125.3L483.5,125.9L482,126.5L480.6,127.1L479.1,127.7L477.7,128.3L476.7,128.7L475.2,129.3L473.8,129.9L472.3,130.5L470.8,131.1L469.4,131.7L468.4,132.1L466.9,132.7L465.4,133.3L464,133.9L462.5,134.5L461.2,135L460,135.5L459,135.8" stroke="#24c748" stroke-width="1" fill="none"/><path d="M508.1,108.2L506.7,108.8L505.3,109.4L503.9,110L502.5,110.6L501.1,111.2L499.7,111.8L498.3,112.4L496.8,113L495.4,113.6L494,114.2L492.6,114.8L491.1,115.4L489.7,116L488.3,116.6L487.3,117L485.9,117.6L484.4,118.1L483,118.7L481.5,119.3L480.1,119.9L478.6,120.5L477.6,120.8L476.2,121.4L474.7,122L473.2,122.6L471.7,123.1L470.3,123.7L469.3,124.1L467.8,124.6L466.3,125.2L464.8,125.7L463.8,126.1L462.2,126.6L460.7,127.2L459.2,127.7L458.2,128.1L456.7,128.6L455.1,129.2L454,129.6L452.6,130L451,130.6L449.7,131L449.4,131.1" stroke="#24c728" stroke-width="1" fill="none"/><path d="M499,104.7L497.7,105.3L496.4,105.9L495,106.5L493.7,107.1L492.3,107.7L490.9,108.3L489.5,108.9L488.2,109.5L486.8,110.1L485.4,110.6L484,111.2L482.6,111.8L481.2,112.4L479.7,113L478.3,113.5L476.9,114.1L475.5,114.7L474,115.2L472.9,115.7L471.6,116.2L470.1,116.7L468.7,117.3L467.2,117.8L465.7,118.4L464.5,118.8L463.3,119.3L461.8,119.8L460.3,120.3L458.8,120.9L457.8,121.2L456.2,121.7L454.7,122.3L453.2,122.8L452.2,123.1L450.6,123.6L449.1,124.1L448,124.5L446.5,125L444.9,125.5L443.9,125.8L442.3,126.3L440.7,126.8L440.7,126.8" stroke="#3fc724" stroke-width="1" fill="none"/><path d="M489.2,100.9L488.4,101.3L487.1,101.9L485.9,102.5L484.7,103.1L483.8,103.5L482.5,104.1L481.2,104.7L479.9,105.3L478.5,105.9L477.2,106.5L476.3,106.9L475,107.5L473.6,108.1L472.3,108.6L470.9,109.2L469.5,109.8L468.1,110.3L466.7,110.9L465.3,111.4L463.9,112L462.4,112.5L461.5,112.9L460,113.4L458.6,114L457.1,114.5L455.7,115L454.2,115.5L452.7,116.1L451.7,116.4L450.2,116.9L448.7,117.4L447.2,117.9L446.2,118.3L444.7,118.8L443.2,119.2L441.6,119.7L440.6,120.1L439.1,120.5L437.5,121L436.4,121.3L434.9,121.8L433.5,122.2L432.2,122.5L432.2,122.5" stroke="#60c724" stroke-width="1" fill="none"/><path d="M481.3,103.2L478.4,101.6L481.3,100.5L484.1,102.2ZM509.9,89.7L507,88.1L509.9,87L512.7,88.6ZM512.7,88.6L509.9,87L512.7,85.9L515.6,87.5Z" fill="#00ff93" stroke="#00ff93" stroke-width=".3"/><path d="M484.1,102.2L481.3,100.5L484.1,99.5L487,101.1Z" fill="#00ff95" stroke="#00ff95" stroke-width=".3"/><path d="M487,101.1L484.1,99.5L487,98.4L489.8,100.1Z" fill="#00ff97" stroke="#00ff97" stroke-width=".3"/><path d="M489.8,100.1L487,98.4L489.8,97.3L492.7,99Z" fill="#00ff98" stroke="#00ff98" stroke-width=".3"/><path d="M492.7,99L489.8,97.3L492.7,96.3L495.6,97.9Z" fill="#00ff9a" stroke="#00ff9a" stroke-width=".3"/><path d="M495.6,97.9L492.7,96.3L495.6,95.2L498.4,96.9Z" fill="#00ff9b" stroke="#00ff9b" stroke-width=".3"/><path d="M498.4,96.9L495.6,95.2L498.4,94.1L501.3,95.8Z" fill="#00ff9d" stroke="#00ff9d" stroke-width=".3"/><path d="M501.3,95.8L498.4,94.1L501.3,93L504.1,94.7Z" fill="#00ff9e" stroke="#00ff9e" stroke-width=".3"/><path d="M504.1,94.7L501.3,93L504.1,91.9L507,93.6Z" fill="#00ff9f" stroke="#00ff9f" stroke-width=".3"/><path d="M507,93.6L504.1,91.9L507,90.8L509.8,92.5Z" fill="#00ffa0" stroke="#00ffa0" stroke-width=".3"/><path d="M509.8,92.5L507,90.8L509.9,89.7L512.7,91.4Z" fill="#00ffa1" stroke="#00ffa1" stroke-width=".3"/><path d="M512.7,91.4L509.9,89.7L512.7,88.6L515.6,90.3Z" fill="#00ffa2" stroke="#00ffa2" stroke-width=".3"/><path d="M515.6,90.3L512.7,88.6L515.6,87.5L518.4,89.2ZM518.4,89.2L515.6,87.5L518.4,86.4L521.3,88Z" fill="#00ffa3" stroke="#00ffa3" stroke-width=".3"/><path d="M521.3,88L518.4,86.4L521.3,85.3L524.1,86.9ZM524.1,86.9L521.3,85.3L524.2,84.2L527,85.8ZM527,85.8L524.2,84.2L527,83L529.8,84.6ZM529.8,84.6L527,83L529.9,81.9L532.7,83.5ZM532.7,83.5L529.9,81.9L532.7,80.8L535.6,82.4ZM535.6,82.4L532.7,80.8L535.6,79.6L538.4,81.2Z" fill="#00ffa4" stroke="#00ffa4" stroke-width=".3"/><path d="M478.4,101.6L475.5,99.9L478.4,98.9L481.3,100.5Z" fill="#00ff88" stroke="#00ff88" stroke-width=".3"/><path d="M481.3,100.5L478.4,98.9L481.3,97.8L484.1,99.5Z" fill="#00ff8a" stroke="#00ff8a" stroke-width=".3"/><path d="M484.1,99.5L481.3,97.8L484.1,96.7L487,98.4Z" fill="#00ff8b" stroke="#00ff8b" stroke-width=".3"/><path d="M487,98.4L484.1,96.7L487,95.7L489.8,97.3Z" fill="#00ff8c" stroke="#00ff8c" stroke-width=".3"/><path d="M489.8,97.3L487,95.7L489.8,94.6L492.7,96.3Z" fill="#00ff8d" stroke="#00ff8d" stroke-width=".3"/><path d="M492.7,96.3L489.8,94.6L492.7,93.5L495.6,95.2Z" fill="#00ff8e" stroke="#00ff8e" stroke-width=".3"/><path d="M495.6,95.2L492.7,93.5L495.6,92.4L498.4,94.1Z" fill="#00ff8f" stroke="#00ff8f" stroke-width=".3"/><path d="M498.4,94.1L495.6,92.4L498.4,91.4L501.3,93Z" fill="#00ff90" stroke="#00ff90" stroke-width=".3"/><path d="M501.3,93L498.4,91.4L501.3,90.3L504.1,91.9Z" fill="#00ff91" stroke="#00ff91" stroke-width=".3"/><path d="M504.1,91.9L501.3,90.3L504.2,89.2L507,90.8ZM507,90.8L504.2,89.2L507,88.1L509.9,89.7Z" fill="#00ff92" stroke="#00ff92" stroke-width=".3"/><path d="M515.6,87.5L512.7,85.9L515.6,84.8L518.4,86.4ZM518.4,86.4L515.6,84.8L518.5,83.7L521.3,85.3ZM521.3,85.3L518.5,83.7L521.3,82.5L524.2,84.2ZM524.2,84.2L521.3,82.5L524.2,81.4L527,83ZM527,83L524.2,81.4L527,80.3L529.9,81.9ZM529.9,81.9L527,80.3L529.9,79.2L532.7,80.8ZM532.7,80.8L529.9,79.2L532.8,78.1L535.6,79.6Z" fill="#00ff94" stroke="#00ff94" stroke-width=".3"/><path d="M475.5,99.9L472.7,98.3L475.5,97.2L478.4,98.9Z" fill="#00ff7d" stroke="#00ff7d" stroke-width=".3"/><path d="M478.4,98.9L475.5,97.2L478.4,96.1L481.3,97.8Z" fill="#00ff7e" stroke="#00ff7e" stroke-width=".3"/><path d="M481.3,97.8L478.4,96.1L481.3,95.1L484.1,96.7Z" fill="#00ff7f" stroke="#00ff7f" stroke-width=".3"/><path d="M484.1,96.7L481.3,95.1L484.1,94L487,95.7ZM487,95.7L484.1,94L487,92.9L489.8,94.6Z" fill="#00ff80" stroke="#00ff80" stroke-width=".3"/><path d="M489.8,94.6L487,92.9L489.8,91.9L492.7,93.5Z" fill="#00ff81" stroke="#00ff81" stroke-width=".3"/><path d="M492.7,93.5L489.8,91.9L492.7,90.8L495.6,92.4ZM495.6,92.4L492.7,90.8L495.6,89.7L498.4,91.4Z" fill="#00ff82" stroke="#00ff82" stroke-width=".3"/><path d="M498.4,91.4L495.6,89.7L498.4,88.6L501.3,90.3ZM501.3,90.3L498.4,88.6L501.3,87.5L504.2,89.2ZM504.2,89.2L501.3,87.5L504.2,86.4L507,88.1ZM529.9,79.2L527.1,77.6L529.9,76.5L532.8,78.1Z" fill="#00ff83" stroke="#00ff83" stroke-width=".3"/><path d="M507,88.1L504.2,86.4L507,85.3L509.9,87ZM509.9,87L507,85.3L509.9,84.2L512.7,85.9ZM512.7,85.9L509.9,84.2L512.8,83.1L515.6,84.8ZM515.6,84.8L512.8,83.1L515.6,82L518.5,83.7ZM518.5,83.7L515.6,82L518.5,80.9L521.3,82.5ZM521.3,82.5L518.5,80.9L521.4,79.8L524.2,81.4ZM524.2,81.4L521.4,79.8L524.2,78.7L527,80.3ZM527,80.3L524.2,78.7L527.1,77.6L529.9,79.2Z" fill="#00ff84" stroke="#00ff84" stroke-width=".3"/><path d="M472.7,98.3L469.8,96.6L472.7,95.5L475.5,97.2Z" fill="#00ff71" stroke="#00ff71" stroke-width=".3"/><path d="M475.5,97.2L472.7,95.5L475.5,94.5L478.4,96.1ZM478.4,96.1L475.5,94.5L478.4,93.4L481.3,95.1Z" fill="#00ff72" stroke="#00ff72" stroke-width=".3"/><path d="M481.3,95.1L478.4,93.4L481.3,92.3L484.1,94ZM484.1,94L481.3,92.3L484.1,91.3L487,92.9ZM487,92.9L484.1,91.3L487,90.2L489.8,91.9ZM524.2,78.7L521.4,77.2L524.2,76.1L527.1,77.6ZM527.1,77.6L524.2,76.1L527.1,75L529.9,76.5Z" fill="#00ff73" stroke="#00ff73" stroke-width=".3"/><path d="M489.8,91.9L487,90.2L489.9,89.1L492.7,90.8ZM492.7,90.8L489.9,89.1L492.7,88L495.6,89.7ZM495.6,89.7L492.7,88L495.6,87L498.4,88.6ZM498.4,88.6L495.6,87L498.4,85.9L501.3,87.5ZM501.3,87.5L498.4,85.9L501.3,84.8L504.2,86.4ZM504.2,86.4L501.3,84.8L504.2,83.7L507,85.3ZM507,85.3L504.2,83.7L507,82.6L509.9,84.2ZM509.9,84.2L507,82.6L509.9,81.5L512.8,83.1ZM512.8,83.1L509.9,81.5L512.8,80.4L515.6,82ZM515.6,82L512.8,80.4L515.6,79.3L518.5,80.9ZM518.5,80.9L515.6,79.3L518.5,78.3L521.4,79.8ZM521.4,79.8L518.5,78.3L521.4,77.2L524.2,78.7Z" fill="#00ff74" stroke="#00ff74" stroke-width=".3"/><path d="M469.8,96.6L466.9,94.9L469.8,93.9L472.7,95.5ZM472.7,95.5L469.8,93.9L472.6,92.8L475.5,94.5ZM475.5,94.5L472.6,92.8L475.5,91.7L478.4,93.4ZM495.6,87L492.7,85.3L495.6,84.2L498.4,85.9ZM498.4,85.9L495.6,84.2L498.5,83.1L501.3,84.8ZM501.3,84.8L498.5,83.1L501.3,82.1L504.2,83.7ZM504.2,83.7L501.3,82.1L504.2,81L507,82.6ZM507,82.6L504.2,81L507.1,79.9L509.9,81.5Z" fill="#00ff65" stroke="#00ff65" stroke-width=".3"/><path d="M478.4,93.4L475.5,91.7L478.4,90.6L481.3,92.3ZM481.3,92.3L478.4,90.6L481.3,89.6L484.1,91.3ZM484.1,91.3L481.3,89.6L484.1,88.5L487,90.2ZM487,90.2L484.1,88.5L487,87.4L489.9,89.1ZM489.9,89.1L487,87.4L489.9,86.4L492.7,88ZM492.7,88L489.9,86.4L492.7,85.3L495.6,87Z" fill="#00ff66" stroke="#00ff66" stroke-width=".3"/><path d="M509.9,81.5L507.1,79.9L509.9,78.8L512.8,80.4ZM512.8,80.4L509.9,78.8L512.8,77.8L515.6,79.3ZM515.6,79.3L512.8,77.8L515.7,76.7L518.5,78.3Z" fill="#00ff64" stroke="#00ff64" stroke-width=".3"/><path d="M518.5,78.3L515.7,76.7L518.5,75.6L521.4,77.2ZM521.4,77.2L518.5,75.6L521.4,74.5L524.2,76.1ZM524.2,76.1L521.4,74.5L524.3,73.4L527.1,75Z" fill="#00ff63" stroke="#00ff63" stroke-width=".3"/><path d="M466.9,94.9L464,93.2L466.9,92.2L469.8,93.9ZM469.8,93.9L466.9,92.2L469.8,91.1L472.6,92.8Z" fill="#00ff59" stroke="#00ff59" stroke-width=".3"/><path d="M472.6,92.8L469.8,91.1L472.6,90L475.5,91.7ZM475.5,91.7L472.6,90L475.5,89L478.4,90.6ZM478.4,90.6L475.5,89L478.4,87.9L481.3,89.6ZM481.3,89.6L478.4,87.9L481.3,86.8L484.1,88.5Z" fill="#00ff58" stroke="#00ff58" stroke-width=".3"/><path d="M484.1,88.5L481.3,86.8L484.1,85.8L487,87.4ZM487,87.4L484.1,85.8L487,84.7L489.9,86.4ZM489.9,86.4L487,84.7L489.9,83.6L492.7,85.3Z" fill="#00ff57" stroke="#00ff57" stroke-width=".3"/><path d="M492.7,85.3L489.9,83.6L492.7,82.6L495.6,84.2ZM495.6,84.2L492.7,82.6L495.6,81.5L498.5,83.1ZM498.5,83.1L495.6,81.5L498.5,80.4L501.3,82.1Z" fill="#00ff56" stroke="#00ff56" stroke-width=".3"/><path d="M501.3,82.1L498.5,80.4L501.3,79.4L504.2,81ZM504.2,81L501.3,79.4L504.2,78.3L507.1,79.9ZM507.1,79.9L504.2,78.3L507.1,77.2L509.9,78.8Z" fill="#00ff55" stroke="#00ff55" stroke-width=".3"/><path d="M509.9,78.8L507.1,77.2L510,76.2L512.8,77.8ZM512.8,77.8L510,76.2L512.8,75.1L515.7,76.7Z" fill="#00ff54" stroke="#00ff54" stroke-width=".3"/><path d="M515.7,76.7L512.8,75.1L515.7,74.1L518.5,75.6ZM518.5,75.6L515.7,74.1L518.6,73L521.4,74.5ZM521.4,74.5L518.6,73L521.4,71.9L524.3,73.4Z" fill="#00ff53" stroke="#00ff53" stroke-width=".3"/><path d="M464,93.2L461.2,91.5L464,90.4L466.9,92.2Z" fill="#00ff4c" stroke="#00ff4c" stroke-width=".3"/><path d="M466.9,92.2L464,90.4L466.9,89.4L469.8,91.1ZM469.8,91.1L466.9,89.4L469.8,88.3L472.6,90Z" fill="#00ff4b" stroke="#00ff4b" stroke-width=".3"/><path d="M472.6,90L469.8,88.3L472.6,87.3L475.5,89ZM475.5,89L472.6,87.3L475.5,86.2L478.4,87.9Z" fill="#00ff4a" stroke="#00ff4a" stroke-width=".3"/><path d="M478.4,87.9L475.5,86.2L478.4,85.1L481.3,86.8ZM481.3,86.8L478.4,85.1L481.3,84.1L484.1,85.8Z" fill="#00ff49" stroke="#00ff49" stroke-width=".3"/><path d="M484.1,85.8L481.3,84.1L484.1,83L487,84.7ZM487,84.7L484.1,83L487,82L489.9,83.6Z" fill="#00ff48" stroke="#00ff48" stroke-width=".3"/><path d="M489.9,83.6L487,82L489.9,80.9L492.7,82.6ZM492.7,82.6L489.9,80.9L492.7,79.9L495.6,81.5Z" fill="#00ff47" stroke="#00ff47" stroke-width=".3"/><path d="M495.6,81.5L492.7,79.9L495.6,78.8L498.5,80.4ZM498.5,80.4L495.6,78.8L498.5,77.8L501.3,79.4Z" fill="#00ff46" stroke="#00ff46" stroke-width=".3"/><path d="M501.3,79.4L498.5,77.8L501.4,76.7L504.2,78.3ZM504.2,78.3L501.4,76.7L504.2,75.7L507.1,77.2Z" fill="#00ff45" stroke="#00ff45" stroke-width=".3"/><path d="M507.1,77.2L504.2,75.7L507.1,74.6L510,76.2ZM510,76.2L507.1,74.6L510,73.6L512.8,75.1ZM512.8,75.1L510,73.6L512.8,72.5L515.7,74.1Z" fill="#00ff44" stroke="#00ff44" stroke-width=".3"/><path d="M515.7,74.1L512.8,72.5L515.7,71.5L518.6,73ZM518.6,73L515.7,71.5L518.6,70.4L521.4,71.9Z" fill="#00ff43" stroke="#00ff43" stroke-width=".3"/><path d="M461.2,91.5L458.3,89.8L461.1,88.7L464,90.4Z" fill="#00ff3f" stroke="#00ff3f" stroke-width=".3"/><path d="M464,90.4L461.1,88.7L464,87.7L466.9,89.4Z" fill="#00ff3e" stroke="#00ff3e" stroke-width=".3"/><path d="M466.9,89.4L464,87.7L466.9,86.6L469.8,88.3Z" fill="#00ff3d" stroke="#00ff3d" stroke-width=".3"/><path d="M469.8,88.3L466.9,86.6L469.8,85.6L472.6,87.3Z" fill="#00ff3c" stroke="#00ff3c" stroke-width=".3"/><path d="M472.6,87.3L469.8,85.6L472.6,84.5L475.5,86.2ZM475.5,86.2L472.6,84.5L475.5,83.5L478.4,85.1Z" fill="#00ff3b" stroke="#00ff3b" stroke-width=".3"/><path d="M478.4,85.1L475.5,83.5L478.4,82.4L481.3,84.1Z" fill="#00ff3a" stroke="#00ff3a" stroke-width=".3"/><path d="M481.3,84.1L478.4,82.4L481.3,81.4L484.1,83ZM484.1,83L481.3,81.4L484.1,80.3L487,82Z" fill="#00ff39" stroke="#00ff39" stroke-width=".3"/><path d="M487,82L484.1,80.3L487,79.3L489.9,80.9Z" fill="#00ff38" stroke="#00ff38" stroke-width=".3"/><path d="M489.9,80.9L487,79.3L489.9,78.2L492.7,79.9ZM492.7,79.9L489.9,78.2L492.8,77.2L495.6,78.8Z" fill="#00ff37" stroke="#00ff37" stroke-width=".3"/><path d="M495.6,78.8L492.8,77.2L495.6,76.1L498.5,77.8ZM498.5,77.8L495.6,76.1L498.5,75.1L501.4,76.7Z" fill="#00ff36" stroke="#00ff36" stroke-width=".3"/><path d="M501.4,76.7L498.5,75.1L501.4,74.1L504.2,75.7ZM504.2,75.7L501.4,74.1L504.2,73L507.1,74.6Z" fill="#00ff35" stroke="#00ff35" stroke-width=".3"/><path d="M507.1,74.6L504.2,73L507.1,72L510,73.6ZM510,73.6L507.1,72L510,71L512.8,72.5Z" fill="#00ff34" stroke="#00ff34" stroke-width=".3"/><path d="M512.8,72.5L510,71L512.9,70L515.7,71.5ZM515.7,71.5L512.9,70L515.7,68.9L518.6,70.4Z" fill="#00ff33" stroke="#00ff33" stroke-width=".3"/><path d="M458.3,89.8L455.4,88.1L458.3,87L461.1,88.7Z" fill="#00ff31" stroke="#00ff31" stroke-width=".3"/><path d="M461.1,88.7L458.3,87L461.1,85.9L464,87.7Z" fill="#00ff30" stroke="#00ff30" stroke-width=".3"/><path d="M464,87.7L461.1,85.9L464,84.9L466.9,86.6Z" fill="#00ff2f" stroke="#00ff2f" stroke-width=".3"/><path d="M466.9,86.6L464,84.9L466.9,83.8L469.8,85.6Z" fill="#00ff2e" stroke="#00ff2e" stroke-width=".3"/><path d="M469.8,85.6L466.9,83.8L469.8,82.8L472.6,84.5Z" fill="#00ff2d" stroke="#00ff2d" stroke-width=".3"/><path d="M472.6,84.5L469.8,82.8L472.6,81.8L475.5,83.5Z" fill="#00ff2c" stroke="#00ff2c" stroke-width=".3"/><path d="M475.5,83.5L472.6,81.8L475.5,80.7L478.4,82.4Z" fill="#00ff2b" stroke="#00ff2b" stroke-width=".3"/><path d="M478.4,82.4L475.5,80.7L478.4,79.7L481.3,81.4Z" fill="#00ff2a" stroke="#00ff2a" stroke-width=".3"/><path d="M481.3,81.4L478.4,79.7L481.3,78.7L484.1,80.3Z" fill="#00ff29" stroke="#00ff29" stroke-width=".3"/><path d="M484.1,80.3L481.3,78.7L484.1,77.6L487,79.3ZM487,79.3L484.1,77.6L487,76.6L489.9,78.2Z" fill="#00ff28" stroke="#00ff28" stroke-width=".3"/><path d="M489.9,78.2L487,76.6L489.9,75.6L492.8,77.2Z" fill="#00ff27" stroke="#00ff27" stroke-width=".3"/><path d="M492.8,77.2L489.9,75.6L492.8,74.5L495.6,76.1ZM495.6,76.1L492.8,74.5L495.6,73.5L498.5,75.1Z" fill="#00ff26" stroke="#00ff26" stroke-width=".3"/><path d="M498.5,75.1L495.6,73.5L498.5,72.5L501.4,74.1ZM501.4,74.1L498.5,72.5L501.4,71.5L504.2,73Z" fill="#00ff25" stroke="#00ff25" stroke-width=".3"/><path d="M504.2,73L501.4,71.5L504.3,70.5L507.1,72ZM507.1,72L504.3,70.5L507.1,69.5L510,71ZM510,71L507.1,69.5L510,68.5L512.9,70Z" fill="#00ff24" stroke="#00ff24" stroke-width=".3"/><path d="M512.9,70L510,68.5L512.9,67.5L515.7,68.9ZM455.4,88.1L452.5,86.3L455.4,85.3L458.3,87Z" fill="#00ff23" stroke="#00ff23" stroke-width=".3"/><path d="M458.3,87L455.4,85.3L458.3,84.2L461.1,85.9Z" fill="#00ff22" stroke="#00ff22" stroke-width=".3"/><path d="M461.1,85.9L458.3,84.2L461.1,83.2L464,84.9Z" fill="#00ff20" stroke="#00ff20" stroke-width=".3"/><path d="M464,84.9L461.1,83.2L464,82.1L466.9,83.8Z" fill="#00ff1f" stroke="#00ff1f" stroke-width=".3"/><path d="M466.9,83.8L464,82.1L466.9,81.1L469.8,82.8Z" fill="#00ff1e" stroke="#00ff1e" stroke-width=".3"/><path d="M469.8,82.8L466.9,81.1L469.8,80.1L472.6,81.8Z" fill="#00ff1d" stroke="#00ff1d" stroke-width=".3"/><path d="M472.6,81.8L469.8,80.1L472.6,79L475.5,80.7Z" fill="#00ff1c" stroke="#00ff1c" stroke-width=".3"/><path d="M475.5,80.7L472.6,79L475.5,78L478.4,79.7Z" fill="#00ff1b" stroke="#00ff1b" stroke-width=".3"/><path d="M478.4,79.7L475.5,78L478.4,77L481.3,78.7Z" fill="#00ff1a" stroke="#00ff1a" stroke-width=".3"/><path d="M481.3,78.7L478.4,77L481.3,76L484.1,77.6Z" fill="#00ff19" stroke="#00ff19" stroke-width=".3"/><path d="M484.1,77.6L481.3,76L484.1,75L487,76.6Z" fill="#00ff18" stroke="#00ff18" stroke-width=".3"/><path d="M487,76.6L484.1,75L487,74L489.9,75.6ZM489.9,75.6L487,74L489.9,72.9L492.8,74.5Z" fill="#00ff17" stroke="#00ff17" stroke-width=".3"/><path d="M492.8,74.5L489.9,72.9L492.8,71.9L495.6,73.5Z" fill="#00ff16" stroke="#00ff16" stroke-width=".3"/><path d="M495.6,73.5L492.8,71.9L495.7,70.9L498.5,72.5ZM498.5,72.5L495.7,70.9L498.5,69.9L501.4,71.5ZM501.4,71.5L498.5,69.9L501.4,69L504.3,70.5ZM452.5,86.3L449.6,84.6L452.5,83.5L455.4,85.3Z" fill="#00ff15" stroke="#00ff15" stroke-width=".3"/><path d="M504.3,70.5L501.4,69L504.3,68L507.1,69.5ZM507.1,69.5L504.3,68L507.2,67L510,68.5ZM510,68.5L507.2,67L510,66L512.9,67.5Z" fill="#00ff14" stroke="#00ff14" stroke-width=".3"/><path d="M455.4,85.3L452.5,83.5L455.4,82.5L458.3,84.2Z" fill="#00ff13" stroke="#00ff13" stroke-width=".3"/><path d="M458.3,84.2L455.4,82.5L458.2,81.4L461.1,83.2Z" fill="#00ff11" stroke="#00ff11" stroke-width=".3"/><path d="M461.1,83.2L458.2,81.4L461.1,80.4L464,82.1Z" fill="#00ff10" stroke="#00ff10" stroke-width=".3"/><path d="M464,82.1L461.1,80.4L464,79.4L466.9,81.1Z" fill="#00ff0f" stroke="#00ff0f" stroke-width=".3"/><path d="M466.9,81.1L464,79.4L466.9,78.4L469.8,80.1Z" fill="#00ff0d" stroke="#00ff0d" stroke-width=".3"/><path d="M469.8,80.1L466.9,78.4L469.8,77.3L472.6,79Z" fill="#00ff0c" stroke="#00ff0c" stroke-width=".3"/><path d="M472.6,79L469.8,77.3L472.6,76.3L475.5,78Z" fill="#00ff0b" stroke="#00ff0b" stroke-width=".3"/><path d="M475.5,78L472.6,76.3L475.5,75.3L478.4,77Z" fill="#00ff0a" stroke="#00ff0a" stroke-width=".3"/><path d="M478.4,77L475.5,75.3L478.4,74.3L481.3,76Z" fill="#00ff09" stroke="#00ff09" stroke-width=".3"/><path d="M481.3,76L478.4,74.3L481.3,73.3L484.1,75ZM484.1,75L481.3,73.3L484.1,72.3L487,74Z" fill="#00ff08" stroke="#00ff08" stroke-width=".3"/><path d="M487,74L484.1,72.3L487,71.3L489.9,72.9Z" fill="#00ff07" stroke="#00ff07" stroke-width=".3"/><path d="M489.9,72.9L487,71.3L489.9,70.4L492.8,71.9ZM492.8,71.9L489.9,70.4L492.8,69.4L495.7,70.9ZM449.6,84.6L446.7,82.8L449.6,81.8L452.5,83.5Z" fill="#00ff06" stroke="#00ff06" stroke-width=".3"/><path d="M495.7,70.9L492.8,69.4L495.7,68.4L498.5,69.9ZM498.5,69.9L495.7,68.4L498.5,67.4L501.4,69ZM501.4,69L498.5,67.4L501.4,66.5L504.3,68Z" fill="#00ff05" stroke="#00ff05" stroke-width=".3"/><path d="M504.3,68L501.4,66.5L504.3,65.5L507.2,67ZM507.2,67L504.3,65.5L507.2,64.5L510,66ZM452.5,83.5L449.6,81.8L452.5,80.7L455.4,82.5Z" fill="#00ff04" stroke="#00ff04" stroke-width=".3"/><path d="M455.4,82.5L452.5,80.7L455.3,79.7L458.2,81.4Z" fill="#00ff02" stroke="#00ff02" stroke-width=".3"/><path d="M458.2,81.4L455.3,79.7L458.2,78.7L461.1,80.4Z" fill="#00ff01" stroke="#00ff01" stroke-width=".3"/><path d="M461.1,80.4L458.2,78.7L461.1,77.7L464,79.4Z" fill="#01ff00" stroke="#01ff00" stroke-width=".3"/><path d="M464,79.4L461.1,77.7L464,76.7L466.9,78.4Z" fill="#02ff00" stroke="#02ff00" stroke-width=".3"/><path d="M466.9,78.4L464,76.7L466.9,75.7L469.8,77.3Z" fill="#03ff00" stroke="#03ff00" stroke-width=".3"/><path d="M469.8,77.3L466.9,75.7L469.7,74.7L472.6,76.3Z" fill="#05ff00" stroke="#05ff00" stroke-width=".3"/><path d="M472.6,76.3L469.7,74.7L472.6,73.7L475.5,75.3Z" fill="#06ff00" stroke="#06ff00" stroke-width=".3"/><path d="M475.5,75.3L472.6,73.7L475.5,72.7L478.4,74.3Z" fill="#07ff00" stroke="#07ff00" stroke-width=".3"/><path d="M478.4,74.3L475.5,72.7L478.4,71.7L481.3,73.3ZM481.3,73.3L478.4,71.7L481.3,70.7L484.1,72.3Z" fill="#08ff00" stroke="#08ff00" stroke-width=".3"/><path d="M484.1,72.3L481.3,70.7L484.2,69.8L487,71.3ZM446.7,82.8L443.8,81L446.7,80L449.6,81.8Z" fill="#09ff00" stroke="#09ff00" stroke-width=".3"/><path d="M487,71.3L484.2,69.8L487,68.8L489.9,70.4ZM489.9,70.4L487,68.8L489.9,67.8L492.8,69.4ZM492.8,69.4L489.9,67.8L492.8,66.9L495.7,68.4Z" fill="#0aff00" stroke="#0aff00" stroke-width=".3"/><path d="M495.7,68.4L492.8,66.9L495.7,65.9L498.5,67.4ZM498.5,67.4L495.7,65.9L498.6,65L501.4,66.5ZM501.4,66.5L498.6,65L501.4,64L504.3,65.5ZM504.3,65.5L501.4,64L504.3,63.1L507.2,64.5ZM449.6,81.8L446.7,80L449.6,79L452.5,80.7Z" fill="#0bff00" stroke="#0bff00" stroke-width=".3"/><path d="M452.5,80.7L449.6,79L452.5,78L455.3,79.7Z" fill="#0dff00" stroke="#0dff00" stroke-width=".3"/><path d="M455.3,79.7L452.5,78L455.3,76.9L458.2,78.7Z" fill="#0fff00" stroke="#0fff00" stroke-width=".3"/><path d="M458.2,78.7L455.3,76.9L458.2,75.9L461.1,77.7Z" fill="#11ff00" stroke="#11ff00" stroke-width=".3"/><path d="M461.1,77.7L458.2,75.9L461.1,75L464,76.7Z" fill="#12ff00" stroke="#12ff00" stroke-width=".3"/><path d="M464,76.7L461.1,75L464,74L466.9,75.7Z" fill="#13ff00" stroke="#13ff00" stroke-width=".3"/><path d="M466.9,75.7L464,74L466.9,73L469.7,74.7Z" fill="#15ff00" stroke="#15ff00" stroke-width=".3"/><path d="M469.7,74.7L466.9,73L469.7,72L472.6,73.7Z" fill="#16ff00" stroke="#16ff00" stroke-width=".3"/><path d="M472.6,73.7L469.7,72L472.6,71L475.5,72.7Z" fill="#17ff00" stroke="#17ff00" stroke-width=".3"/><path d="M475.5,72.7L472.6,71L475.5,70.1L478.4,71.7ZM478.4,71.7L475.5,70.1L478.4,69.1L481.3,70.7Z" fill="#18ff00" stroke="#18ff00" stroke-width=".3"/><path d="M481.3,70.7L478.4,69.1L481.3,68.2L484.2,69.8ZM443.8,81L440.9,79.2L443.8,78.2L446.7,80Z" fill="#19ff00" stroke="#19ff00" stroke-width=".3"/><path d="M484.2,69.8L481.3,68.2L484.2,67.2L487,68.8ZM487,68.8L484.2,67.2L487,66.3L489.9,67.8ZM489.9,67.8L487,66.3L489.9,65.4L492.8,66.9ZM492.8,66.9L489.9,65.4L492.8,64.4L495.7,65.9ZM495.7,65.9L492.8,64.4L495.7,63.5L498.6,65ZM498.6,65L495.7,63.5L498.6,62.6L501.4,64ZM501.4,64L498.6,62.6L501.5,61.7L504.3,63.1Z" fill="#1aff00" stroke="#1aff00" stroke-width=".3"/><path d="M446.7,80L443.8,78.2L446.7,77.2L449.6,79Z" fill="#1bff00" stroke="#1bff00" stroke-width=".3"/><path d="M449.6,79L446.7,77.2L449.6,76.2L452.5,78Z" fill="#1dff00" stroke="#1dff00" stroke-width=".3"/><path d="M452.5,78L449.6,76.2L452.4,75.2L455.3,76.9Z" fill="#1fff00" stroke="#1fff00" stroke-width=".3"/><path d="M455.3,76.9L452.4,75.2L455.3,74.2L458.2,75.9Z" fill="#21ff00" stroke="#21ff00" stroke-width=".3"/><path d="M458.2,75.9L455.3,74.2L458.2,73.2L461.1,75Z" fill="#22ff00" stroke="#22ff00" stroke-width=".3"/><path d="M461.1,75L458.2,73.2L461.1,72.3L464,74Z" fill="#24ff00" stroke="#24ff00" stroke-width=".3"/><path d="M464,74L461.1,72.3L464,71.3L466.9,73Z" fill="#25ff00" stroke="#25ff00" stroke-width=".3"/><path d="M466.9,73L464,71.3L466.9,70.4L469.7,72Z" fill="#26ff00" stroke="#26ff00" stroke-width=".3"/><path d="M469.7,72L466.9,70.4L469.7,69.4L472.6,71Z" fill="#27ff00" stroke="#27ff00" stroke-width=".3"/><path d="M472.6,71L469.7,69.4L472.6,68.5L475.5,70.1ZM475.5,70.1L472.6,68.5L475.5,67.5L478.4,69.1Z" fill="#28ff00" stroke="#28ff00" stroke-width=".3"/><path d="M478.4,69.1L475.5,67.5L478.4,66.6L481.3,68.2ZM481.3,68.2L478.4,66.6L481.3,65.7L484.2,67.2ZM495.7,63.5L492.8,62L495.7,61.1L498.6,62.6ZM498.6,62.6L495.7,61.1L498.6,60.3L501.5,61.7ZM440.9,79.2L438,77.4L440.9,76.4L443.8,78.2Z" fill="#29ff00" stroke="#29ff00" stroke-width=".3"/><path d="M484.2,67.2L481.3,65.7L484.2,64.8L487,66.3ZM487,66.3L484.2,64.8L487.1,63.8L489.9,65.4ZM489.9,65.4L487.1,63.8L489.9,62.9L492.8,64.4ZM492.8,64.4L489.9,62.9L492.8,62L495.7,63.5Z" fill="#2aff00" stroke="#2aff00" stroke-width=".3"/><path d="M443.8,78.2L440.9,76.4L443.8,75.4L446.7,77.2Z" fill="#2bff00" stroke="#2bff00" stroke-width=".3"/><path d="M446.7,77.2L443.8,75.4L446.7,74.4L449.6,76.2Z" fill="#2dff00" stroke="#2dff00" stroke-width=".3"/><path d="M449.6,76.2L446.7,74.4L449.5,73.5L452.4,75.2Z" fill="#2fff00" stroke="#2fff00" stroke-width=".3"/><path d="M452.4,75.2L449.5,73.5L452.4,72.5L455.3,74.2Z" fill="#31ff00" stroke="#31ff00" stroke-width=".3"/><path d="M455.3,74.2L452.4,72.5L455.3,71.5L458.2,73.2Z" fill="#32ff00" stroke="#32ff00" stroke-width=".3"/><path d="M458.2,73.2L455.3,71.5L458.2,70.6L461.1,72.3Z" fill="#34ff00" stroke="#34ff00" stroke-width=".3"/><path d="M461.1,72.3L458.2,70.6L461.1,69.6L464,71.3Z" fill="#35ff00" stroke="#35ff00" stroke-width=".3"/><path d="M464,71.3L461.1,69.6L464,68.7L466.9,70.4Z" fill="#36ff00" stroke="#36ff00" stroke-width=".3"/><path d="M466.9,70.4L464,68.7L466.9,67.8L469.7,69.4Z" fill="#37ff00" stroke="#37ff00" stroke-width=".3"/><path d="M469.7,69.4L466.9,67.8L469.7,66.8L472.6,68.5ZM492.8,62L490,60.6L492.8,59.7L495.7,61.1ZM495.7,61.1L492.8,59.7L495.7,58.8L498.6,60.3Z" fill="#38ff00" stroke="#38ff00" stroke-width=".3"/><path d="M472.6,68.5L469.7,66.8L472.6,65.9L475.5,67.5ZM475.5,67.5L472.6,65.9L475.5,65L478.4,66.6ZM478.4,66.6L475.5,65L478.4,64.1L481.3,65.7ZM481.3,65.7L478.4,64.1L481.3,63.2L484.2,64.8ZM484.2,64.8L481.3,63.2L484.2,62.3L487.1,63.8ZM487.1,63.8L484.2,62.3L487.1,61.5L489.9,62.9ZM489.9,62.9L487.1,61.5L490,60.6L492.8,62ZM438,77.4L435.1,75.6L438,74.6L440.9,76.4Z" fill="#39ff00" stroke="#39ff00" stroke-width=".3"/><path d="M440.9,76.4L438,74.6L440.9,73.7L443.8,75.4Z" fill="#3cff00" stroke="#3cff00" stroke-width=".3"/><path d="M443.8,75.4L440.9,73.7L443.7,72.7L446.7,74.4Z" fill="#3eff00" stroke="#3eff00" stroke-width=".3"/><path d="M446.7,74.4L443.7,72.7L446.6,71.7L449.5,73.5Z" fill="#40ff00" stroke="#40ff00" stroke-width=".3"/><path d="M449.5,73.5L446.6,71.7L449.5,70.8L452.4,72.5Z" fill="#41ff00" stroke="#41ff00" stroke-width=".3"/><path d="M452.4,72.5L449.5,70.8L452.4,69.8L455.3,71.5Z" fill="#43ff00" stroke="#43ff00" stroke-width=".3"/><path d="M455.3,71.5L452.4,69.8L455.3,68.9L458.2,70.6Z" fill="#44ff00" stroke="#44ff00" stroke-width=".3"/><path d="M458.2,70.6L455.3,68.9L458.2,68L461.1,69.6ZM492.8,59.7L490,58.3L492.9,57.5L495.7,58.8Z" fill="#46ff00" stroke="#46ff00" stroke-width=".3"/><path d="M461.1,69.6L458.2,68L461.1,67L464,68.7ZM490,60.6L487.1,59.1L490,58.3L492.8,59.7Z" fill="#47ff00" stroke="#47ff00" stroke-width=".3"/><path d="M464,68.7L461.1,67L464,66.1L466.9,67.8ZM466.9,67.8L464,66.1L466.9,65.2L469.7,66.8ZM487.1,61.5L484.2,60L487.1,59.1L490,60.6Z" fill="#48ff00" stroke="#48ff00" stroke-width=".3"/><path d="M469.7,66.8L466.9,65.2L469.7,64.3L472.6,65.9ZM472.6,65.9L469.7,64.3L472.6,63.4L475.5,65ZM475.5,65L472.6,63.4L475.5,62.6L478.4,64.1ZM478.4,64.1L475.5,62.6L478.4,61.7L481.3,63.2ZM481.3,63.2L478.4,61.7L481.3,60.8L484.2,62.3ZM484.2,62.3L481.3,60.8L484.2,60L487.1,61.5Z" fill="#49ff00" stroke="#49ff00" stroke-width=".3"/><path d="M435.1,75.6L432.2,73.8L435.1,72.8L438,74.6Z" fill="#4aff00" stroke="#4aff00" stroke-width=".3"/><path d="M438,74.6L435.1,72.8L437.9,71.9L440.9,73.7Z" fill="#4cff00" stroke="#4cff00" stroke-width=".3"/><path d="M440.9,73.7L437.9,71.9L440.8,70.9L443.7,72.7Z" fill="#4fff00" stroke="#4fff00" stroke-width=".3"/><path d="M443.7,72.7L440.8,70.9L443.7,70L446.6,71.7Z" fill="#51ff00" stroke="#51ff00" stroke-width=".3"/><path d="M446.6,71.7L443.7,70L446.6,69L449.5,70.8Z" fill="#52ff00" stroke="#52ff00" stroke-width=".3"/><path d="M449.5,70.8L446.6,69L449.5,68.1L452.4,69.8Z" fill="#54ff00" stroke="#54ff00" stroke-width=".3"/><path d="M452.4,69.8L449.5,68.1L452.4,67.2L455.3,68.9ZM490,58.3L487.1,56.9L490,56.1L492.9,57.5Z" fill="#55ff00" stroke="#55ff00" stroke-width=".3"/><path d="M455.3,68.9L452.4,67.2L455.3,66.3L458.2,68ZM487.1,59.1L484.2,57.7L487.1,56.9L490,58.3Z" fill="#56ff00" stroke="#56ff00" stroke-width=".3"/><path d="M458.2,68L455.3,66.3L458.2,65.4L461.1,67ZM484.2,60L481.3,58.5L484.2,57.7L487.1,59.1Z" fill="#57ff00" stroke="#57ff00" stroke-width=".3"/><path d="M461.1,67L458.2,65.4L461.1,64.5L464,66.1ZM481.3,60.8L478.4,59.3L481.3,58.5L484.2,60Z" fill="#58ff00" stroke="#58ff00" stroke-width=".3"/><path d="M464,66.1L461.1,64.5L464,63.6L466.9,65.2ZM466.9,65.2L464,63.6L466.9,62.7L469.7,64.3ZM469.7,64.3L466.9,62.7L469.7,61.9L472.6,63.4ZM472.6,63.4L469.7,61.9L472.6,61L475.5,62.6ZM475.5,62.6L472.6,61L475.5,60.2L478.4,61.7ZM478.4,61.7L475.5,60.2L478.4,59.3L481.3,60.8Z" fill="#59ff00" stroke="#59ff00" stroke-width=".3"/><path d="M432.2,73.8L429.3,72L432.1,71L435.1,72.8Z" fill="#5bff00" stroke="#5bff00" stroke-width=".3"/><path d="M435.1,72.8L432.1,71L435,70.1L437.9,71.9Z" fill="#5eff00" stroke="#5eff00" stroke-width=".3"/><path d="M437.9,71.9L435,70.1L437.9,69.1L440.8,70.9Z" fill="#60ff00" stroke="#60ff00" stroke-width=".3"/><path d="M440.8,70.9L437.9,69.1L440.8,68.2L443.7,70Z" fill="#62ff00" stroke="#62ff00" stroke-width=".3"/><path d="M443.7,70L440.8,68.2L443.7,67.3L446.6,69Z" fill="#64ff00" stroke="#64ff00" stroke-width=".3"/><path d="M446.6,69L443.7,67.3L446.6,66.4L449.5,68.1ZM484.2,57.7L481.3,56.3L484.2,55.5L487.1,56.9Z" fill="#65ff00" stroke="#65ff00" stroke-width=".3"/><path d="M449.5,68.1L446.6,66.4L449.5,65.5L452.4,67.2ZM481.3,58.5L478.4,57.1L481.3,56.3L484.2,57.7Z" fill="#66ff00" stroke="#66ff00" stroke-width=".3"/><path d="M452.4,67.2L449.5,65.5L452.4,64.6L455.3,66.3ZM478.4,59.3L475.5,57.9L478.4,57.1L481.3,58.5Z" fill="#67ff00" stroke="#67ff00" stroke-width=".3"/><path d="M455.3,66.3L452.4,64.6L455.3,63.7L458.2,65.4ZM475.5,60.2L472.6,58.7L475.5,57.9L478.4,59.3Z" fill="#68ff00" stroke="#68ff00" stroke-width=".3"/><path d="M458.2,65.4L455.3,63.7L458.2,62.9L461.1,64.5ZM461.1,64.5L458.2,62.9L461.1,62L464,63.6ZM469.7,61.9L466.9,60.3L469.7,59.5L472.6,61ZM472.6,61L469.7,59.5L472.6,58.7L475.5,60.2Z" fill="#69ff00" stroke="#69ff00" stroke-width=".3"/><path d="M464,63.6L461.1,62L464,61.2L466.9,62.7ZM466.9,62.7L464,61.2L466.9,60.3L469.7,61.9Z" fill="#6aff00" stroke="#6aff00" stroke-width=".3"/><path d="M487.1,56.9L484.2,55.5L487.1,54.7L490,56.1Z" fill="#63ff00" stroke="#63ff00" stroke-width=".3"/><path d="M429.3,72L426.3,70.1L429.2,69.2L432.1,71Z" fill="#6dff00" stroke="#6dff00" stroke-width=".3"/><path d="M432.1,71L429.2,69.2L432.1,68.3L435,70.1Z" fill="#6fff00" stroke="#6fff00" stroke-width=".3"/><path d="M435,70.1L432.1,68.3L435,67.4L437.9,69.1Z" fill="#71ff00" stroke="#71ff00" stroke-width=".3"/><path d="M437.9,69.1L435,67.4L437.9,66.4L440.8,68.2ZM481.3,56.3L478.4,54.9L481.3,54.1L484.2,55.5Z" fill="#73ff00" stroke="#73ff00" stroke-width=".3"/><path d="M440.8,68.2L437.9,66.4L440.8,65.6L443.7,67.3ZM478.4,57.1L475.5,55.6L478.4,54.9L481.3,56.3Z" fill="#75ff00" stroke="#75ff00" stroke-width=".3"/><path d="M443.7,67.3L440.8,65.6L443.7,64.7L446.6,66.4Z" fill="#76ff00" stroke="#76ff00" stroke-width=".3"/><path d="M446.6,66.4L443.7,64.7L446.6,63.8L449.5,65.5ZM472.6,58.7L469.8,57.2L472.6,56.4L475.5,57.9Z" fill="#78ff00" stroke="#78ff00" stroke-width=".3"/><path d="M449.5,65.5L446.6,63.8L449.5,62.9L452.4,64.6ZM452.4,64.6L449.5,62.9L452.4,62.1L455.3,63.7ZM466.9,60.3L464,58.8L466.9,58L469.7,59.5ZM469.7,59.5L466.9,58L469.8,57.2L472.6,58.7Z" fill="#79ff00" stroke="#79ff00" stroke-width=".3"/><path d="M455.3,63.7L452.4,62.1L455.3,61.2L458.2,62.9ZM458.2,62.9L455.3,61.2L458.2,60.4L461.1,62ZM461.1,62L458.2,60.4L461.1,59.6L464,61.2ZM464,61.2L461.1,59.6L464,58.8L466.9,60.3Z" fill="#7aff00" stroke="#7aff00" stroke-width=".3"/><path d="M475.5,57.9L472.6,56.4L475.5,55.6L478.4,57.1Z" fill="#77ff00" stroke="#77ff00" stroke-width=".3"/><path d="M484.2,55.5L481.3,54.1L484.2,53.3L487.1,54.7Z" fill="#72ff00" stroke="#72ff00" stroke-width=".3"/><path d="M426.3,70.1L423.4,68.3L426.3,67.4L429.2,69.2Z" fill="#7fff00" stroke="#7fff00" stroke-width=".3"/><path d="M429.2,69.2L426.3,67.4L429.2,66.5L432.1,68.3Z" fill="#81ff00" stroke="#81ff00" stroke-width=".3"/><path d="M432.1,68.3L429.2,66.5L432.1,65.6L435,67.4Z" fill="#83ff00" stroke="#83ff00" stroke-width=".3"/><path d="M435,67.4L432.1,65.6L435,64.7L437.9,66.4Z" fill="#85ff00" stroke="#85ff00" stroke-width=".3"/><path d="M437.9,66.4L435,64.7L437.9,63.8L440.8,65.6ZM469.8,57.2L466.9,55.7L469.8,54.9L472.6,56.4Z" fill="#87ff00" stroke="#87ff00" stroke-width=".3"/><path d="M440.8,65.6L437.9,63.8L440.8,62.9L443.7,64.7ZM466.9,58L464,56.4L466.9,55.7L469.8,57.2Z" fill="#88ff00" stroke="#88ff00" stroke-width=".3"/><path d="M443.7,64.7L440.8,62.9L443.7,62.1L446.6,63.8ZM464,58.8L461.1,57.2L464,56.4L466.9,58Z" fill="#89ff00" stroke="#89ff00" stroke-width=".3"/><path d="M446.6,63.8L443.7,62.1L446.6,61.3L449.5,62.9ZM449.5,62.9L446.6,61.3L449.5,60.4L452.4,62.1ZM461.1,59.6L458.2,58L461.1,57.2L464,58.8Z" fill="#8aff00" stroke="#8aff00" stroke-width=".3"/><path d="M452.4,62.1L449.5,60.4L452.4,59.6L455.3,61.2ZM455.3,61.2L452.4,59.6L455.3,58.8L458.2,60.4ZM458.2,60.4L455.3,58.8L458.2,58L461.1,59.6Z" fill="#8bff00" stroke="#8bff00" stroke-width=".3"/><path d="M472.6,56.4L469.8,54.9L472.7,54.2L475.5,55.6Z" fill="#86ff00" stroke="#86ff00" stroke-width=".3"/><path d="M475.5,55.6L472.7,54.2L475.6,53.4L478.4,54.9Z" fill="#84ff00" stroke="#84ff00" stroke-width=".3"/><path d="M478.4,54.9L475.6,53.4L478.4,52.7L481.3,54.1Z" fill="#82ff00" stroke="#82ff00" stroke-width=".3"/><path d="M481.3,54.1L478.4,52.7L481.3,52L484.2,53.3Z" fill="#80ff00" stroke="#80ff00" stroke-width=".3"/><path d="M481.3,103.2L492.7,99L504.1,94.7L515.6,90.3L527,85.8L538.4,81.2M481.3,103.2L469.8,96.6L458.3,89.8L446.7,82.8L435.1,75.6L423.4,68.3M478.4,101.6L489.8,97.3L501.3,93L512.7,88.6L524.2,84.2L535.6,79.6M484.1,102.2L472.7,95.5L461.1,88.7L449.6,81.8L438,74.6L426.3,67.4M475.5,99.9L487,95.7L498.4,91.4L509.9,87L521.3,82.5L532.8,78.1M487,101.1L475.5,94.5L464,87.7L452.5,80.7L440.9,73.7L429.2,66.5M472.7,98.3L484.1,94L495.6,89.7L507,85.3L518.5,80.9L529.9,76.5M489.8,100.1L478.4,93.4L466.9,86.6L455.3,79.7L443.7,72.7L432.1,65.6M469.8,96.6L481.3,92.3L492.7,88L504.2,83.7L515.6,79.3L527.1,75M492.7,99L481.3,92.3L469.8,85.6L458.2,78.7L446.6,71.7L435,64.7M466.9,94.9L478.4,90.6L489.9,86.4L501.3,82.1L512.8,77.8L524.3,73.4M495.6,97.9L484.1,91.3L472.6,84.5L461.1,77.7L449.5,70.8L437.9,63.8M464,93.2L475.5,89L487,84.7L498.5,80.4L510,76.2L521.4,71.9M498.4,96.9L487,90.2L475.5,83.5L464,76.7L452.4,69.8L440.8,62.9M461.2,91.5L472.6,87.3L484.1,83L495.6,78.8L507.1,74.6L518.6,70.4M501.3,95.8L489.9,89.1L478.4,82.4L466.9,75.7L455.3,68.9L443.7,62.1M458.3,89.8L469.8,85.6L481.3,81.4L492.8,77.2L504.2,73L515.7,68.9M504.1,94.7L492.7,88L481.3,81.4L469.7,74.7L458.2,68L446.6,61.3M455.4,88.1L466.9,83.8L478.4,79.7L489.9,75.6L501.4,71.5L512.9,67.5M507,93.6L495.6,87L484.1,80.3L472.6,73.7L461.1,67L449.5,60.4M452.5,86.3L464,82.1L475.5,78L487,74L498.5,69.9L510,66M509.8,92.5L498.4,85.9L487,79.3L475.5,72.7L464,66.1L452.4,59.6M449.6,84.6L461.1,80.4L472.6,76.3L484.1,72.3L495.7,68.4L507.2,64.5M512.7,91.4L501.3,84.8L489.9,78.2L478.4,71.7L466.9,65.2L455.3,58.8M446.7,82.8L458.2,78.7L469.7,74.7L481.3,70.7L492.8,66.9L504.3,63.1M515.6,90.3L504.2,83.7L492.8,77.2L481.3,70.7L469.7,64.3L458.2,58M443.8,81L455.3,76.9L466.9,73L478.4,69.1L489.9,65.4L501.5,61.7M518.4,89.2L507,82.6L495.6,76.1L484.2,69.8L472.6,63.4L461.1,57.2M440.9,79.2L452.4,75.2L464,71.3L475.5,67.5L487.1,63.8L498.6,60.3M521.3,88L509.9,81.5L498.5,75.1L487,68.8L475.5,62.6L464,56.4M438,77.4L449.5,73.5L461.1,69.6L472.6,65.9L484.2,62.3L495.7,58.8M524.1,86.9L512.8,80.4L501.4,74.1L489.9,67.8L478.4,61.7L466.9,55.7M435.1,75.6L446.6,71.7L458.2,68L469.7,64.3L481.3,60.8L492.9,57.5M527,85.8L515.6,79.3L504.2,73L492.8,66.9L481.3,60.8L469.8,54.9M432.2,73.8L443.7,70L455.3,66.3L466.9,62.7L478.4,59.3L490,56.1M529.8,84.6L518.5,78.3L507.1,72L495.7,65.9L484.2,60L472.7,54.2M429.3,72L440.8,68.2L452.4,64.6L464,61.2L475.5,57.9L487.1,54.7M532.7,83.5L521.4,77.2L510,71L498.6,65L487.1,59.1L475.6,53.4M426.3,70.1L437.9,66.4L449.5,62.9L461.1,59.6L472.6,56.4L484.2,53.3M535.6,82.4L524.2,76.1L512.9,70L501.4,64L490,58.3L478.4,52.7M423.4,68.3L435,64.7L446.6,61.3L458.2,58L469.8,54.9L481.3,52M538.4,81.2L527.1,75L515.7,68.9L504.3,63.1L492.9,57.5L481.3,52" stroke="#000" stroke-opacity=".42" stroke-width=".5" fill="none"/><path d="M482.5,52L482.5,103.2" stroke="#000" stroke-opacity=".3" stroke-width=".5"/><path d="M475.5,45.2h8.5" stroke="#999" stroke-width="1.2" stroke-dasharray="1.2 .9" fill="none"/><text x="419.5" y="121.9" text-anchor="middle" font-size="5.3">50</text><text x="417.9" y="42.9" text-anchor="middle" font-size="5.3">100</text><text x="417.3" y="52.4" text-anchor="middle" font-size="5.3">95</text><text x="417.9" y="63.1" text-anchor="middle" font-size="5.3">90</text><text x="417.9" y="72.8" text-anchor="middle" font-size="5.3">85</text><text x="418.3" y="82.6" text-anchor="middle" font-size="5.3">80</text><text x="418.3" y="92.1" text-anchor="middle" font-size="5.3">75</text><text x="418.7" y="102.9" text-anchor="middle" font-size="5.3">70</text><text x="433.7" y="129.5" text-anchor="middle" font-size="5.3">40</text><text x="444.1" y="135.5" text-anchor="middle" font-size="5.3">30</text><text x="455.9" y="141" text-anchor="middle" font-size="5.3">20</text><text x="466.8" y="146.1" text-anchor="middle" font-size="5.3">10</text><text x="479.2" y="151.5" text-anchor="middle" font-size="5.3">0</text><text x="485.6" y="151.7" text-anchor="middle" font-size="5.3">30</text><text x="494.7" y="146.5" text-anchor="middle" font-size="5.3">36</text><text x="504.6" y="140.7" text-anchor="middle" font-size="5.3">42</text><text x="515.3" y="135.8" text-anchor="middle" font-size="5.3">48</text><text x="526.8" y="130" text-anchor="middle" font-size="5.3">54</text><text x="537.5" y="124.2" text-anchor="middle" font-size="5.3">60</text><text class="t" x="410.1" y="150.3" font-size="5.45" textLength="49.4" lengthAdjust="spacingAndGlyphs">A: Solvent ratio (% <tspan font-style="italic">v/v</tspan>)</text><text class="t" x="509.5" y="150" font-size="5.45" textLength="37.9" lengthAdjust="spacingAndGlyphs">D: Time (minute)</text><text transform="translate(409.9,80.7) rotate(-90)" text-anchor="middle" font-size="5.7" class="t" textLength="56" lengthAdjust="spacingAndGlyphs">Extraction yield (% <tspan font-style="italic">v/v</tspan>)</text><text x="393.7" y="10.8" font-size="10" font-weight="bold" fill="#111">(c)</text></g><g><path d="M34.4,272.1L92,253L149.2,272.2M33.9,260.7L92,242.8L149.7,261M33.4,249.2L92,232.4L150.2,249.5M32.9,237.4L92,221.9L150.7,237.9M32.3,225.5L92,211.2L151.3,226M31.8,213.3L92,200.4L151.8,213.9M34.4,272.1L31.8,213.3M149.2,272.2L151.8,213.9M46,268.3L43.8,210.7M137.8,268.4L139.8,211.2M57.5,264.4L55.9,208.1M126.3,264.5L127.9,208.5M69,260.6L67.9,205.6M114.9,260.7L115.9,205.8M80.5,256.8L80,203M103.5,256.8L104,203.1M92,253L92,200.4M92,253L92,200.4M31.8,213.3L35.3,291.2M151.8,213.9L148.4,291.2M92,253L92,270.2" stroke="#939393" stroke-width=".65" fill="none"/><path d="M33.8,272.1h1.2M33.3,260.7h1.2M32.8,249.2h1.2M32.3,237.4h1.2M31.7,225.5h1.2M31.2,213.3h1.2" stroke="#333" stroke-width="1"/><path d="M35.3,291.2L92.2,318.1L148.4,291.2L92,270.2Z" fill="#646464"/><path d="M98,315.3L97.4,314.7L96.4,313.9L95.7,313.3L95,312.7L94,311.9L93.2,311.4L92.3,310.7L91.4,310L90.5,309.4L89.5,308.8L88.3,308L87.5,307.5L86.3,306.8L85.2,306.2L84.2,305.6L82.9,304.9L81.6,304.2L80.2,303.5L79.3,303L78,302.4L76.6,301.7L75.1,301.1L73.7,300.4L72.2,299.8L71.2,299.4L69.7,298.8L68.2,298.2L66.7,297.6L65.2,297L64,296.6L62.4,296L61.2,295.6L59.7,295.1L58,294.6L56.9,294.2L55.2,293.7L54,293.3L52.7,292.9L51.1,292.5L49.9,292.1L48.3,291.7L46.8,291.3L45.5,291L44.3,290.7L42.5,290.2L41.1,289.9L39.8,289.6L39.8,289.6" stroke="#24c7a1" stroke-width="1" fill="none"/><path d="M108.2,310.4L107.2,309.6L106.5,309.1L105.8,308.5L104.7,307.8L103.9,307.2L102.8,306.5L102.1,306L100.9,305.2L100.1,304.7L98.9,304L97.8,303.4L96.9,302.8L95.6,302.1L94.3,301.5L93.5,301L92.2,300.3L90.8,299.7L89.5,299L88.1,298.4L86.7,297.7L85.3,297.1L83.9,296.5L82.4,295.9L81,295.3L79.5,294.7L78,294.1L76.4,293.6L75.4,293.2L73.8,292.6L72.3,292.1L71.2,291.7L69.6,291.2L67.9,290.6L66.8,290.3L65.1,289.8L64,289.4L62.3,288.9L61.1,288.6L59.7,288.2L58.2,287.8L57,287.4L55.3,287L53.9,286.6L52.7,286.3L51.3,286L50.1,285.7" stroke="#24c74a" stroke-width="1" fill="none"/><path d="M118.6,305.5L117.6,304.8L116.8,304.2L116,303.6L114.9,303L114.1,302.4L113,301.8L111.8,301.1L111,300.6L109.8,299.9L109,299.4L107.7,298.8L106.5,298.1L105.2,297.5L104.3,297L103,296.4L101.7,295.7L100.4,295.1L99,294.5L97.6,293.9L96.2,293.3L95.3,292.9L94.3,292.5L92.9,291.9L91.4,291.3L90,290.7L88.5,290.2L87,289.6L85.5,289.1L84.3,288.7L82.9,288.2L81.3,287.6L79.7,287.1L78.7,286.7L77,286.2L75.9,285.9L74.3,285.4L72.8,284.9L71.5,284.6L70,284.1L68.6,283.8L67.4,283.4L65.7,283L64.5,282.7L62.9,282.2L61.5,281.9L60.9,281.8" stroke="#54c724" stroke-width="1" fill="none"/><path d="M128.8,300.5L127.7,299.8L126.9,299.4L125.8,298.7L125,298.2L123.8,297.5L122.7,296.9L121.8,296.4L120.6,295.8L119.6,295.3L118.5,294.7L117.2,294L115.9,293.4L115.1,293L113.8,292.4L112.4,291.8L111.1,291.2L109.7,290.6L108.4,290L107,289.4L105.6,288.8L104.2,288.3L102.8,287.7L101.3,287.1L99.9,286.6L98.4,286L96.9,285.5L95.4,285L93.9,284.4L92.9,284.1L91.4,283.6L89.8,283L88.3,282.5L87.2,282.2L85.6,281.7L84,281.2L82.9,280.9L81.3,280.4L80.2,280.1L78.5,279.6L77.4,279.3L75.7,278.8L74.5,278.5L72.8,278.1L71.6,277.8L71.6,277.8" stroke="#a8c724" stroke-width="1" fill="none"/><path d="M139.7,295.3L138.5,294.7L137.7,294.3L136.5,293.6L135.5,293.1L134.5,292.6L133.2,291.9L132.1,291.4L131.1,290.9L129.9,290.3L128.6,289.7L127.6,289.2L126.4,288.7L125.1,288.1L123.8,287.5L122.4,287L121.1,286.4L120,285.9L118.8,285.4L117.5,284.9L116.1,284.3L114.7,283.8L113.3,283.2L111.9,282.7L110.4,282.2L109,281.6L107.5,281.1L106.6,280.8L105.1,280.2L103.6,279.7L102.1,279.2L100.6,278.7L99.1,278.2L98.1,277.9L96.5,277.4L95,276.9L93.4,276.4L92.4,276.1L90.8,275.6L89.2,275.2L88.1,274.8L86.5,274.4L85.4,274.1L83.7,273.6L83.2,273.5" stroke="#c79024" stroke-width="1" fill="none"/><path d="M92.2,277.4L89.2,276.6L92.1,273.4L95.1,274.2Z" fill="#00fbff" stroke="#00fbff" stroke-width=".3"/><path d="M95.1,274.2L92.1,273.4L95,270.2L98,271Z" fill="#00ffdd" stroke="#00ffdd" stroke-width=".3"/><path d="M98,271L95,270.2L97.9,267L100.9,267.8Z" fill="#00ffb7" stroke="#00ffb7" stroke-width=".3"/><path d="M100.9,267.8L97.9,267L100.9,263.9L103.8,264.7ZM53.9,251.1L51,249.8L53.9,247L56.8,248.3Z" fill="#00ff91" stroke="#00ff91" stroke-width=".3"/><path d="M103.8,264.7L100.9,263.9L103.8,260.8L106.7,261.6ZM56.8,248.3L53.9,247L56.7,244.3L59.7,245.5Z" fill="#00ff6b" stroke="#00ff6b" stroke-width=".3"/><path d="M106.7,261.6L103.8,260.8L106.7,257.7L109.7,258.5Z" fill="#00ff46" stroke="#00ff46" stroke-width=".3"/><path d="M109.7,258.5L106.7,257.7L109.7,254.7L112.6,255.5Z" fill="#00ff20" stroke="#00ff20" stroke-width=".3"/><path d="M112.6,255.5L109.7,254.7L112.6,251.6L115.5,252.4Z" fill="#05ff00" stroke="#05ff00" stroke-width=".3"/><path d="M115.5,252.4L112.6,251.6L115.6,248.7L118.5,249.5ZM71.3,238.4L68.4,237.3L71.3,234.6L74.3,235.7Z" fill="#29ff00" stroke="#29ff00" stroke-width=".3"/><path d="M118.5,249.5L115.6,248.7L118.5,245.7L121.5,246.5Z" fill="#4eff00" stroke="#4eff00" stroke-width=".3"/><path d="M121.5,246.5L118.5,245.7L121.5,242.8L124.5,243.6ZM80.1,234L77.2,233L80.1,230.3L83.1,231.3Z" fill="#72ff00" stroke="#72ff00" stroke-width=".3"/><path d="M124.5,243.6L121.5,242.8L124.5,239.9L127.4,240.7Z" fill="#97ff00" stroke="#97ff00" stroke-width=".3"/><path d="M127.4,240.7L124.5,239.9L127.5,237L130.4,237.8ZM89,229.6L86,228.7L89,226L91.9,226.9Z" fill="#baff00" stroke="#baff00" stroke-width=".3"/><path d="M130.4,237.8L127.5,237L130.5,234.2L133.4,235ZM127.5,237L124.5,236.2L127.5,233.4L130.5,234.2ZM94.9,227.8L91.9,226.9L94.9,224.3L97.9,225.1Z" fill="#deff00" stroke="#deff00" stroke-width=".3"/><path d="M133.4,235L130.5,234.2L133.5,231.4L136.4,232.2ZM106.8,227.7L103.8,226.8L106.8,224.1L109.7,224.9ZM103.8,226.8L100.8,226L103.8,223.3L106.8,224.1ZM100.8,226L97.9,225.1L100.8,222.5L103.8,223.3Z" fill="#fffc00" stroke="#fffc00" stroke-width=".3"/><path d="M136.4,232.2L133.5,231.4L136.5,228.6L139.5,229.4ZM133.5,231.4L130.5,230.6L133.5,227.8L136.5,228.6ZM130.5,230.6L127.5,229.8L130.5,227L133.5,227.8ZM127.5,229.8L124.6,229L127.6,226.2L130.5,227ZM124.6,229L121.6,228.2L124.6,225.4L127.6,226.2Z" fill="#ffd900" stroke="#ffd900" stroke-width=".3"/><path d="M139.5,229.4L136.5,228.6L139.5,225.9L142.5,226.6Z" fill="#ffb600" stroke="#ffb600" stroke-width=".3"/><path d="M142.5,226.6L139.5,225.9L142.5,223.1L145.5,223.9ZM89,212.9L86,212.2L89,209.9L92,210.6Z" fill="#ff9300" stroke="#ff9300" stroke-width=".3"/><path d="M145.5,223.9L142.5,223.1L145.6,220.5L148.5,221.3ZM94.9,211.3L92,210.6L95,208.3L97.9,209Z" fill="#ff7000" stroke="#ff7000" stroke-width=".3"/><path d="M148.5,221.3L145.6,220.5L148.6,217.8L151.6,218.6ZM100.9,209.6L97.9,209L100.9,206.7L103.9,207.3Z" fill="#ff4e00" stroke="#ff4e00" stroke-width=".3"/><path d="M89.2,276.6L86.3,275.8L89.2,272.6L92.1,273.4Z" fill="#00f5ff" stroke="#00f5ff" stroke-width=".3"/><path d="M92.1,273.4L89.2,272.6L92.1,269.4L95,270.2Z" fill="#00ffe2" stroke="#00ffe2" stroke-width=".3"/><path d="M95,270.2L92.1,269.4L95,266.2L97.9,267Z" fill="#00ffbc" stroke="#00ffbc" stroke-width=".3"/><path d="M97.9,267L95,266.2L97.9,263.1L100.9,263.9Z" fill="#00ff95" stroke="#00ff95" stroke-width=".3"/><path d="M100.9,263.9L97.9,263.1L100.8,260L103.8,260.8ZM59.8,249.5L56.8,248.3L59.7,245.5L62.6,246.7Z" fill="#00ff6f" stroke="#00ff6f" stroke-width=".3"/><path d="M103.8,260.8L100.8,260L103.8,256.9L106.7,257.7Z" fill="#00ff49" stroke="#00ff49" stroke-width=".3"/><path d="M106.7,257.7L103.8,256.9L106.7,253.9L109.7,254.7Z" fill="#00ff24" stroke="#00ff24" stroke-width=".3"/><path d="M109.7,254.7L106.7,253.9L109.7,250.8L112.6,251.6Z" fill="#02ff00" stroke="#02ff00" stroke-width=".3"/><path d="M112.6,251.6L109.7,250.8L112.6,247.9L115.6,248.7ZM74.3,239.5L71.3,238.4L74.3,235.7L77.2,236.7Z" fill="#27ff00" stroke="#27ff00" stroke-width=".3"/><path d="M115.6,248.7L112.6,247.9L115.6,244.9L118.5,245.7ZM77.2,236.7L74.3,235.7L77.2,233L80.1,234Z" fill="#4cff00" stroke="#4cff00" stroke-width=".3"/><path d="M118.5,245.7L115.6,244.9L118.5,242L121.5,242.8Z" fill="#71ff00" stroke="#71ff00" stroke-width=".3"/><path d="M121.5,242.8L118.5,242L121.5,239.1L124.5,239.9ZM86,232.3L83.1,231.3L86,228.7L89,229.6Z" fill="#95ff00" stroke="#95ff00" stroke-width=".3"/><path d="M124.5,239.9L121.5,239.1L124.5,236.2L127.5,237ZM121.5,239.1L118.6,238.3L121.5,235.4L124.5,236.2ZM91.9,230.5L89,229.6L91.9,226.9L94.9,227.8Z" fill="#b9ff00" stroke="#b9ff00" stroke-width=".3"/><path d="M130.5,234.2L127.5,233.4L130.5,230.6L133.5,231.4ZM127.5,233.4L124.5,232.6L127.5,229.8L130.5,230.6ZM124.5,232.6L121.6,231.8L124.6,229L127.5,229.8ZM121.6,231.8L118.6,231L121.6,228.2L124.6,229ZM118.6,231L115.6,230.1L118.6,227.4L121.6,228.2ZM115.6,230.1L112.7,229.3L115.7,226.6L118.6,227.4ZM112.7,229.3L109.7,228.5L112.7,225.8L115.7,226.6ZM109.7,228.5L106.8,227.7L109.7,224.9L112.7,225.8Z" fill="#fffd00" stroke="#fffd00" stroke-width=".3"/><path d="M136.5,228.6L133.5,227.8L136.5,225.1L139.5,225.9ZM133.5,227.8L130.5,227L133.6,224.3L136.5,225.1ZM130.5,227L127.6,226.2L130.6,223.5L133.6,224.3Z" fill="#ffb500" stroke="#ffb500" stroke-width=".3"/><path d="M139.5,225.9L136.5,225.1L139.6,222.4L142.5,223.1ZM136.5,225.1L133.6,224.3L136.6,221.6L139.6,222.4ZM92,213.6L89,212.9L92,210.6L94.9,211.3Z" fill="#ff9200" stroke="#ff9200" stroke-width=".3"/><path d="M142.5,223.1L139.6,222.4L142.6,219.7L145.6,220.5ZM97.9,212L94.9,211.3L97.9,209L100.9,209.6Z" fill="#ff6f00" stroke="#ff6f00" stroke-width=".3"/><path d="M145.6,220.5L142.6,219.7L145.6,217L148.6,217.8Z" fill="#ff4d00" stroke="#ff4d00" stroke-width=".3"/><path d="M86.3,275.8L83.4,275L86.3,271.7L89.2,272.6Z" fill="#00f0ff" stroke="#00f0ff" stroke-width=".3"/><path d="M89.2,272.6L86.3,271.7L89.2,268.5L92.1,269.4Z" fill="#00ffe7" stroke="#00ffe7" stroke-width=".3"/><path d="M92.1,269.4L89.2,268.5L92.1,265.4L95,266.2Z" fill="#00ffc0" stroke="#00ffc0" stroke-width=".3"/><path d="M95,266.2L92.1,265.4L95,262.2L97.9,263.1ZM59.8,253.7L56.9,252.4L59.8,249.5L62.7,250.8Z" fill="#00ff9a" stroke="#00ff9a" stroke-width=".3"/><path d="M97.9,263.1L95,262.2L97.9,259.1L100.8,260ZM62.7,250.8L59.8,249.5L62.6,246.7L65.6,247.9Z" fill="#00ff73" stroke="#00ff73" stroke-width=".3"/><path d="M100.8,260L97.9,259.1L100.8,256.1L103.8,256.9Z" fill="#00ff4d" stroke="#00ff4d" stroke-width=".3"/><path d="M103.8,256.9L100.8,256.1L103.8,253L106.7,253.9Z" fill="#00ff27" stroke="#00ff27" stroke-width=".3"/><path d="M106.7,253.9L103.8,253L106.7,250L109.7,250.8Z" fill="#00ff01" stroke="#00ff01" stroke-width=".3"/><path d="M109.7,250.8L106.7,250L109.7,247L112.6,247.9Z" fill="#25ff00" stroke="#25ff00" stroke-width=".3"/><path d="M112.6,247.9L109.7,247L112.6,244.1L115.6,244.9ZM80.2,237.7L77.2,236.7L80.1,234L83.1,235Z" fill="#4aff00" stroke="#4aff00" stroke-width=".3"/><path d="M115.6,244.9L112.6,244.1L115.6,241.1L118.5,242Z" fill="#6fff00" stroke="#6fff00" stroke-width=".3"/><path d="M118.5,242L115.6,241.1L118.6,238.3L121.5,239.1ZM89,233.2L86,232.3L89,229.6L91.9,230.5Z" fill="#94ff00" stroke="#94ff00" stroke-width=".3"/><path d="M124.5,236.2L121.5,235.4L124.5,232.6L127.5,233.4ZM121.5,235.4L118.6,234.6L121.6,231.8L124.5,232.6ZM103.8,230.4L100.8,229.5L103.8,226.8L106.8,227.7ZM100.8,229.5L97.9,228.7L100.8,226L103.8,226.8ZM97.9,228.7L94.9,227.8L97.9,225.1L100.8,226Z" fill="#ddff00" stroke="#ddff00" stroke-width=".3"/><path d="M139.6,222.4L136.6,221.6L139.6,218.9L142.6,219.7ZM100.9,212.7L97.9,212L100.9,209.6L103.9,210.3Z" fill="#ff6e00" stroke="#ff6e00" stroke-width=".3"/><path d="M142.6,219.7L139.6,218.9L142.7,216.3L145.6,217ZM106.9,211L103.9,210.3L106.9,207.9L109.9,208.6Z" fill="#ff4b00" stroke="#ff4b00" stroke-width=".3"/><path d="M83.4,275L80.5,274.1L83.4,270.8L86.3,271.7Z" fill="#00ebff" stroke="#00ebff" stroke-width=".3"/><path d="M86.3,271.7L83.4,270.8L86.2,267.7L89.2,268.5Z" fill="#00ffeb" stroke="#00ffeb" stroke-width=".3"/><path d="M89.2,268.5L86.2,267.7L89.1,264.5L92.1,265.4Z" fill="#00ffc4" stroke="#00ffc4" stroke-width=".3"/><path d="M92.1,265.4L89.1,264.5L92,261.4L95,262.2ZM62.8,254.9L59.8,253.7L62.7,250.8L65.6,252Z" fill="#00ff9d" stroke="#00ff9d" stroke-width=".3"/><path d="M95,262.2L92,261.4L95,258.3L97.9,259.1ZM65.6,252L62.7,250.8L65.6,247.9L68.5,249.1Z" fill="#00ff76" stroke="#00ff76" stroke-width=".3"/><path d="M97.9,259.1L95,258.3L97.9,255.2L100.8,256.1Z" fill="#00ff50" stroke="#00ff50" stroke-width=".3"/><path d="M100.8,256.1L97.9,255.2L100.8,252.2L103.8,253Z" fill="#00ff29" stroke="#00ff29" stroke-width=".3"/><path d="M103.8,253L100.8,252.2L103.8,249.2L106.7,250Z" fill="#00ff03" stroke="#00ff03" stroke-width=".3"/><path d="M106.7,250L103.8,249.2L106.7,246.2L109.7,247ZM80.2,241.6L77.2,240.5L80.2,237.7L83.1,238.7Z" fill="#23ff00" stroke="#23ff00" stroke-width=".3"/><path d="M109.7,247L106.7,246.2L109.7,243.2L112.6,244.1Z" fill="#48ff00" stroke="#48ff00" stroke-width=".3"/><path d="M112.6,244.1L109.7,243.2L112.6,240.3L115.6,241.1ZM86,236L83.1,235L86,232.3L89,233.2Z" fill="#6eff00" stroke="#6eff00" stroke-width=".3"/><path d="M115.6,241.1L112.6,240.3L115.6,237.4L118.6,238.3ZM91.9,234.1L89,233.2L91.9,230.5L94.9,231.4Z" fill="#93ff00" stroke="#93ff00" stroke-width=".3"/><path d="M118.6,238.3L115.6,237.4L118.6,234.6L121.5,235.4ZM97.8,232.3L94.9,231.4L97.9,228.7L100.8,229.5ZM94.9,231.4L91.9,230.5L94.9,227.8L97.9,228.7Z" fill="#b8ff00" stroke="#b8ff00" stroke-width=".3"/><path d="M133.6,224.3L130.6,223.5L133.6,220.8L136.6,221.6ZM97.9,215.1L94.9,214.4L97.9,212L100.9,212.7ZM94.9,214.4L92,213.6L94.9,211.3L97.9,212Z" fill="#ff9100" stroke="#ff9100" stroke-width=".3"/><path d="M136.6,221.6L133.6,220.8L136.6,218.1L139.6,218.9ZM133.6,220.8L130.6,220L133.7,217.4L136.6,218.1ZM106.8,214.1L103.9,213.4L106.9,211L109.8,211.6ZM103.9,213.4L100.9,212.7L103.9,210.3L106.9,211Z" fill="#ff6d00" stroke="#ff6d00" stroke-width=".3"/><path d="M139.6,218.9L136.6,218.1L139.7,215.5L142.7,216.3ZM109.8,211.6L106.9,211L109.9,208.6L112.9,209.2Z" fill="#ff4a00" stroke="#ff4a00" stroke-width=".3"/><path d="M80.5,274.1L77.6,273.1L80.4,269.9L83.4,270.8Z" fill="#00e7ff" stroke="#00e7ff" stroke-width=".3"/><path d="M83.4,270.8L80.4,269.9L83.3,266.7L86.2,267.7Z" fill="#00ffef" stroke="#00ffef" stroke-width=".3"/><path d="M86.2,267.7L83.3,266.7L86.2,263.6L89.1,264.5Z" fill="#00ffc7" stroke="#00ffc7" stroke-width=".3"/><path d="M89.1,264.5L86.2,263.6L89.1,260.4L92,261.4ZM65.7,256.1L62.8,254.9L65.6,252L68.6,253.1Z" fill="#00ffa0" stroke="#00ffa0" stroke-width=".3"/><path d="M92,261.4L89.1,260.4L92,257.4L95,258.3Z" fill="#00ff79" stroke="#00ff79" stroke-width=".3"/><path d="M95,258.3L92,257.4L94.9,254.3L97.9,255.2Z" fill="#00ff52" stroke="#00ff52" stroke-width=".3"/><path d="M97.9,255.2L94.9,254.3L97.9,251.3L100.8,252.2Z" fill="#00ff2b" stroke="#00ff2b" stroke-width=".3"/><path d="M100.8,252.2L97.9,251.3L100.8,248.3L103.8,249.2ZM80.2,245.5L77.3,244.4L80.2,241.6L83.1,242.6Z" fill="#00ff05" stroke="#00ff05" stroke-width=".3"/><path d="M103.8,249.2L100.8,248.3L103.8,245.3L106.7,246.2ZM83.1,242.6L80.2,241.6L83.1,238.7L86.1,239.7Z" fill="#21ff00" stroke="#21ff00" stroke-width=".3"/><path d="M106.7,246.2L103.8,245.3L106.7,242.4L109.7,243.2ZM86.1,239.7L83.1,238.7L86,236L89,236.9Z" fill="#47ff00" stroke="#47ff00" stroke-width=".3"/><path d="M109.7,243.2L106.7,242.4L109.7,239.5L112.6,240.3ZM89,236.9L86,236L89,233.2L91.9,234.1Z" fill="#6dff00" stroke="#6dff00" stroke-width=".3"/><path d="M112.6,240.3L109.7,239.5L112.6,236.6L115.6,237.4ZM109.7,239.5L106.7,238.6L109.7,235.8L112.6,236.6ZM97.8,236L94.9,235.1L97.8,232.3L100.8,233.2ZM94.9,235.1L91.9,234.1L94.9,231.4L97.8,232.3Z" fill="#92ff00" stroke="#92ff00" stroke-width=".3"/><path d="M115.6,237.4L112.6,236.6L115.6,233.8L118.6,234.6ZM112.6,236.6L109.7,235.8L112.7,232.9L115.6,233.8ZM109.7,235.8L106.7,234.9L109.7,232.1L112.7,232.9ZM106.7,234.9L103.8,234L106.7,231.2L109.7,232.1ZM103.8,234L100.8,233.2L103.8,230.4L106.7,231.2ZM100.8,233.2L97.8,232.3L100.8,229.5L103.8,230.4Z" fill="#b7ff00" stroke="#b7ff00" stroke-width=".3"/><path d="M118.6,234.6L115.6,233.8L118.6,231L121.6,231.8ZM115.6,233.8L112.7,232.9L115.6,230.1L118.6,231ZM112.7,232.9L109.7,232.1L112.7,229.3L115.6,230.1ZM109.7,232.1L106.7,231.2L109.7,228.5L112.7,229.3ZM106.7,231.2L103.8,230.4L106.8,227.7L109.7,228.5Z" fill="#dcff00" stroke="#dcff00" stroke-width=".3"/><path d="M127.6,226.2L124.6,225.4L127.6,222.7L130.6,223.5ZM124.6,225.4L121.6,224.6L124.6,221.9L127.6,222.7ZM121.6,224.6L118.7,223.8L121.7,221.2L124.6,221.9ZM118.7,223.8L115.7,223.1L118.7,220.4L121.7,221.2ZM91.9,216.8L89,216L92,213.6L94.9,214.4ZM89,216L86,215.2L89,212.9L92,213.6ZM86,215.2L83,214.5L86,212.2L89,212.9ZM83,214.5L80.1,213.7L83,211.4L86,212.2Z" fill="#ffb400" stroke="#ffb400" stroke-width=".3"/><path d="M130.6,223.5L127.6,222.7L130.6,220L133.6,220.8ZM127.6,222.7L124.6,221.9L127.7,219.3L130.6,220ZM124.6,221.9L121.7,221.2L124.7,218.5L127.7,219.3ZM103.8,216.6L100.9,215.9L103.9,213.4L106.8,214.1ZM100.9,215.9L97.9,215.1L100.9,212.7L103.9,213.4Z" fill="#ff9000" stroke="#ff9000" stroke-width=".3"/><path d="M136.6,218.1L133.7,217.4L136.7,214.8L139.7,215.5ZM112.8,212.3L109.8,211.6L112.9,209.2L115.8,209.9Z" fill="#ff4900" stroke="#ff4900" stroke-width=".3"/><path d="M77.6,273.1L74.6,272.1L77.5,268.9L80.4,269.9Z" fill="#00e4ff" stroke="#00e4ff" stroke-width=".3"/><path d="M80.4,269.9L77.5,268.9L80.4,265.7L83.3,266.7ZM36.6,255.3L33.6,253.8L36.5,251.1L39.4,252.6Z" fill="#00fff1" stroke="#00fff1" stroke-width=".3"/><path d="M83.3,266.7L80.4,265.7L83.3,262.6L86.2,263.6ZM65.7,260.3L62.8,259.1L65.7,256.1L68.6,257.3Z" fill="#00ffca" stroke="#00ffca" stroke-width=".3"/><path d="M86.2,263.6L83.3,262.6L86.2,259.5L89.1,260.4ZM68.6,257.3L65.7,256.1L68.6,253.1L71.5,254.3Z" fill="#00ffa2" stroke="#00ffa2" stroke-width=".3"/><path d="M89.1,260.4L86.2,259.5L89.1,256.4L92,257.4ZM71.5,254.3L68.6,253.1L71.5,250.2L74.4,251.3Z" fill="#00ff7b" stroke="#00ff7b" stroke-width=".3"/><path d="M92,257.4L89.1,256.4L92,253.4L94.9,254.3Z" fill="#00ff54" stroke="#00ff54" stroke-width=".3"/><path d="M94.9,254.3L92,253.4L94.9,250.4L97.9,251.3ZM80.2,249.4L77.3,248.4L80.2,245.5L83.2,246.5Z" fill="#00ff2d" stroke="#00ff2d" stroke-width=".3"/><path d="M97.9,251.3L94.9,250.4L97.9,247.4L100.8,248.3ZM83.2,246.5L80.2,245.5L83.1,242.6L86.1,243.6Z" fill="#00ff06" stroke="#00ff06" stroke-width=".3"/><path d="M100.8,248.3L97.9,247.4L100.8,244.4L103.8,245.3ZM86.1,243.6L83.1,242.6L86.1,239.7L89,240.7Z" fill="#20ff00" stroke="#20ff00" stroke-width=".3"/><path d="M103.8,245.3L100.8,244.4L103.8,241.5L106.7,242.4ZM100.8,244.4L97.9,243.5L100.8,240.6L103.8,241.5ZM92,241.7L89,240.7L91.9,237.9L94.9,238.8ZM89,240.7L86.1,239.7L89,236.9L91.9,237.9Z" fill="#46ff00" stroke="#46ff00" stroke-width=".3"/><path d="M106.7,242.4L103.8,241.5L106.7,238.6L109.7,239.5ZM103.8,241.5L100.8,240.6L103.8,237.7L106.7,238.6ZM97.8,239.7L94.9,238.8L97.8,236L100.8,236.9ZM94.9,238.8L91.9,237.9L94.9,235.1L97.8,236ZM91.9,237.9L89,236.9L91.9,234.1L94.9,235.1Z" fill="#6cff00" stroke="#6cff00" stroke-width=".3"/><path d="M121.6,228.2L118.6,227.4L121.6,224.6L124.6,225.4ZM118.6,227.4L115.7,226.6L118.7,223.8L121.6,224.6ZM115.7,226.6L112.7,225.8L115.7,223.1L118.7,223.8ZM112.7,225.8L109.7,224.9L112.7,222.3L115.7,223.1ZM109.7,224.9L106.8,224.1L109.8,221.5L112.7,222.3ZM106.8,224.1L103.8,223.3L106.8,220.7L109.8,221.5Z" fill="#ffd800" stroke="#ffd800" stroke-width=".3"/><path d="M130.6,220L127.7,219.3L130.7,216.6L133.7,217.4ZM127.7,219.3L124.7,218.5L127.7,215.9L130.7,216.6ZM112.8,215.6L109.8,214.8L112.8,212.3L115.8,213ZM109.8,214.8L106.8,214.1L109.8,211.6L112.8,212.3Z" fill="#ff6c00" stroke="#ff6c00" stroke-width=".3"/><path d="M133.7,217.4L130.7,216.6L133.7,214L136.7,214.8ZM130.7,216.6L127.7,215.9L130.7,213.3L133.7,214ZM127.7,215.9L124.7,215.2L127.8,212.6L130.7,213.3ZM121.8,214.4L118.8,213.7L121.8,211.2L124.8,211.9ZM118.8,213.7L115.8,213L118.8,210.5L121.8,211.2ZM115.8,213L112.8,212.3L115.8,209.9L118.8,210.5Z" fill="#ff4800" stroke="#ff4800" stroke-width=".3"/><path d="M74.6,272.1L71.7,271.1L74.6,267.9L77.5,268.9Z" fill="#00e2ff" stroke="#00e2ff" stroke-width=".3"/><path d="M77.5,268.9L74.6,267.9L77.5,264.7L80.4,265.7Z" fill="#00fff3" stroke="#00fff3" stroke-width=".3"/><path d="M80.4,265.7L77.5,264.7L80.3,261.6L83.3,262.6ZM39.4,252.6L36.5,251.1L39.3,248.3L42.3,249.8Z" fill="#00ffcb" stroke="#00ffcb" stroke-width=".3"/><path d="M83.3,262.6L80.3,261.6L83.2,258.5L86.2,259.5ZM71.6,258.4L68.6,257.3L71.5,254.3L74.4,255.4Z" fill="#00ffa4" stroke="#00ffa4" stroke-width=".3"/><path d="M86.2,259.5L83.2,258.5L86.1,255.5L89.1,256.4ZM74.4,255.4L71.5,254.3L74.4,251.3L77.3,252.4Z" fill="#00ff7c" stroke="#00ff7c" stroke-width=".3"/><path d="M89.1,256.4L86.1,255.5L89.1,252.4L92,253.4ZM80.3,253.4L77.3,252.4L80.2,249.4L83.2,250.4ZM77.3,252.4L74.4,251.3L77.3,248.4L80.2,249.4Z" fill="#00ff55" stroke="#00ff55" stroke-width=".3"/><path d="M92,253.4L89.1,252.4L92,249.4L94.9,250.4ZM89.1,252.4L86.1,251.4L89,248.5L92,249.4ZM83.2,250.4L80.2,249.4L83.2,246.5L86.1,247.5Z" fill="#00ff2e" stroke="#00ff2e" stroke-width=".3"/><path d="M94.9,250.4L92,249.4L94.9,246.5L97.9,247.4ZM86.1,247.5L83.2,246.5L86.1,243.6L89,244.6Z" fill="#00ff07" stroke="#00ff07" stroke-width=".3"/><path d="M97.9,247.4L94.9,246.5L97.9,243.5L100.8,244.4ZM94.9,246.5L92,245.5L94.9,242.6L97.9,243.5ZM92,245.5L89,244.6L92,241.7L94.9,242.6ZM89,244.6L86.1,243.6L89,240.7L92,241.7Z" fill="#1fff00" stroke="#1fff00" stroke-width=".3"/><path d="M106.7,238.6L103.8,237.7L106.7,234.9L109.7,235.8ZM103.8,237.7L100.8,236.9L103.8,234L106.7,234.9ZM100.8,236.9L97.8,236L100.8,233.2L103.8,234Z" fill="#91ff00" stroke="#91ff00" stroke-width=".3"/><path d="M71.7,271.1L68.8,270L71.7,266.8L74.6,267.9ZM62.9,267.7L60,266.5L62.9,263.4L65.8,264.6Z" fill="#00e1ff" stroke="#00e1ff" stroke-width=".3"/><path d="M74.6,267.9L71.7,266.8L74.5,263.7L77.5,264.7ZM71.7,266.8L68.7,265.7L71.6,262.6L74.5,263.7ZM68.7,265.7L65.8,264.6L68.7,261.5L71.6,262.6Z" fill="#00fff5" stroke="#00fff5" stroke-width=".3"/><path d="M77.5,264.7L74.5,263.7L77.4,260.6L80.3,261.6ZM74.5,263.7L71.6,262.6L74.5,259.5L77.4,260.6ZM71.6,262.6L68.7,261.5L71.6,258.4L74.5,259.5Z" fill="#00ffcd" stroke="#00ffcd" stroke-width=".3"/><path d="M80.3,261.6L77.4,260.6L80.3,257.5L83.2,258.5ZM77.4,260.6L74.5,259.5L77.4,256.5L80.3,257.5ZM74.5,259.5L71.6,258.4L74.4,255.4L77.4,256.5ZM42.3,249.8L39.3,248.3L42.2,245.7L45.1,247.1Z" fill="#00ffa5" stroke="#00ffa5" stroke-width=".3"/><path d="M83.2,258.5L80.3,257.5L83.2,254.5L86.1,255.5ZM80.3,257.5L77.4,256.5L80.3,253.4L83.2,254.5ZM77.4,256.5L74.4,255.4L77.3,252.4L80.3,253.4Z" fill="#00ff7d" stroke="#00ff7d" stroke-width=".3"/><path d="M86.1,255.5L83.2,254.5L86.1,251.4L89.1,252.4ZM83.2,254.5L80.3,253.4L83.2,250.4L86.1,251.4Z" fill="#00ff56" stroke="#00ff56" stroke-width=".3"/><path d="M92,249.4L89,248.5L92,245.5L94.9,246.5ZM89,248.5L86.1,247.5L89,244.6L92,245.5Z" fill="#00ff08" stroke="#00ff08" stroke-width=".3"/><path d="M97.9,243.5L94.9,242.6L97.8,239.7L100.8,240.6ZM94.9,242.6L92,241.7L94.9,238.8L97.8,239.7Z" fill="#45ff00" stroke="#45ff00" stroke-width=".3"/><path d="M100.8,240.6L97.8,239.7L100.8,236.9L103.8,237.7Z" fill="#6bff00" stroke="#6bff00" stroke-width=".3"/><path d="M121.7,221.2L118.7,220.4L121.7,217.8L124.7,218.5ZM118.7,220.4L115.7,219.6L118.7,217L121.7,217.8ZM115.7,219.6L112.8,218.9L115.8,216.3L118.7,217ZM112.8,218.9L109.8,218.1L112.8,215.6L115.8,216.3ZM109.8,218.1L106.8,217.4L109.8,214.8L112.8,215.6ZM106.8,217.4L103.8,216.6L106.8,214.1L109.8,214.8Z" fill="#ff8f00" stroke="#ff8f00" stroke-width=".3"/><path d="M124.7,218.5L121.7,217.8L124.7,215.2L127.7,215.9ZM121.7,217.8L118.7,217L121.8,214.4L124.7,215.2ZM118.7,217L115.8,216.3L118.8,213.7L121.8,214.4ZM115.8,216.3L112.8,215.6L115.8,213L118.8,213.7Z" fill="#ff6b00" stroke="#ff6b00" stroke-width=".3"/><path d="M68.8,270L65.9,268.9L68.7,265.7L71.7,266.8ZM65.9,268.9L62.9,267.7L65.8,264.6L68.7,265.7Z" fill="#00e0ff" stroke="#00e0ff" stroke-width=".3"/><path d="M86.1,251.4L83.2,250.4L86.1,247.5L89,248.5Z" fill="#00ff2f" stroke="#00ff2f" stroke-width=".3"/><path d="M115.7,223.1L112.7,222.3L115.7,219.6L118.7,220.4ZM112.7,222.3L109.8,221.5L112.8,218.9L115.7,219.6ZM109.8,221.5L106.8,220.7L109.8,218.1L112.8,218.9ZM106.8,220.7L103.8,219.9L106.8,217.4L109.8,218.1ZM103.8,219.9L100.9,219.1L103.8,216.6L106.8,217.4ZM100.9,219.1L97.9,218.4L100.9,215.9L103.8,216.6ZM97.9,218.4L94.9,217.6L97.9,215.1L100.9,215.9ZM94.9,217.6L91.9,216.8L94.9,214.4L97.9,215.1Z" fill="#ffb300" stroke="#ffb300" stroke-width=".3"/><path d="M124.7,215.2L121.8,214.4L124.8,211.9L127.8,212.6Z" fill="#ff4700" stroke="#ff4700" stroke-width=".3"/><path d="M65.8,264.6L62.9,263.4L65.7,260.3L68.7,261.5Z" fill="#00fff4" stroke="#00fff4" stroke-width=".3"/><path d="M68.7,261.5L65.7,260.3L68.6,257.3L71.6,258.4Z" fill="#00ffcc" stroke="#00ffcc" stroke-width=".3"/><path d="M60,266.5L57.1,265.2L60,262.1L62.9,263.4Z" fill="#00e3ff" stroke="#00e3ff" stroke-width=".3"/><path d="M62.9,263.4L60,262.1L62.8,259.1L65.7,260.3Z" fill="#00fff2" stroke="#00fff2" stroke-width=".3"/><path d="M74.4,251.3L71.5,250.2L74.4,247.3L77.3,248.4Z" fill="#00ff53" stroke="#00ff53" stroke-width=".3"/><path d="M77.3,248.4L74.4,247.3L77.3,244.4L80.2,245.5Z" fill="#00ff2c" stroke="#00ff2c" stroke-width=".3"/><path d="M103.8,223.3L100.8,222.5L103.8,219.9L106.8,220.7ZM100.8,222.5L97.9,221.7L100.9,219.1L103.8,219.9ZM97.9,221.7L94.9,220.9L97.9,218.4L100.9,219.1ZM94.9,220.9L91.9,220.1L94.9,217.6L97.9,218.4ZM91.9,220.1L89,219.2L91.9,216.8L94.9,217.6Z" fill="#ffd700" stroke="#ffd700" stroke-width=".3"/><path d="M57.1,265.2L54.2,263.9L57,260.9L60,262.1Z" fill="#00e6ff" stroke="#00e6ff" stroke-width=".3"/><path d="M60,262.1L57,260.9L59.9,257.9L62.8,259.1Z" fill="#00fff0" stroke="#00fff0" stroke-width=".3"/><path d="M62.8,259.1L59.9,257.9L62.8,254.9L65.7,256.1Z" fill="#00ffc8" stroke="#00ffc8" stroke-width=".3"/><path d="M68.6,253.1L65.6,252L68.5,249.1L71.5,250.2Z" fill="#00ff78" stroke="#00ff78" stroke-width=".3"/><path d="M71.5,250.2L68.5,249.1L71.4,246.2L74.4,247.3Z" fill="#00ff51" stroke="#00ff51" stroke-width=".3"/><path d="M74.4,247.3L71.4,246.2L74.3,243.3L77.3,244.4Z" fill="#00ff2a" stroke="#00ff2a" stroke-width=".3"/><path d="M77.3,244.4L74.3,243.3L77.2,240.5L80.2,241.6Z" fill="#00ff04" stroke="#00ff04" stroke-width=".3"/><path d="M83.1,238.7L80.2,237.7L83.1,235L86,236Z" fill="#49ff00" stroke="#49ff00" stroke-width=".3"/><path d="M97.9,225.1L94.9,224.3L97.9,221.7L100.8,222.5ZM94.9,224.3L91.9,223.4L94.9,220.9L97.9,221.7Z" fill="#fffb00" stroke="#fffb00" stroke-width=".3"/><path d="M54.2,263.9L51.2,262.6L54.1,259.6L57,260.9Z" fill="#00e9ff" stroke="#00e9ff" stroke-width=".3"/><path d="M57,260.9L54.1,259.6L57,256.6L59.9,257.9Z" fill="#00ffed" stroke="#00ffed" stroke-width=".3"/><path d="M59.9,257.9L57,256.6L59.8,253.7L62.8,254.9Z" fill="#00ffc5" stroke="#00ffc5" stroke-width=".3"/><path d="M68.5,249.1L65.6,247.9L68.5,245.1L71.4,246.2Z" fill="#00ff4f" stroke="#00ff4f" stroke-width=".3"/><path d="M71.4,246.2L68.5,245.1L71.4,242.2L74.3,243.3Z" fill="#00ff28" stroke="#00ff28" stroke-width=".3"/><path d="M74.3,243.3L71.4,242.2L74.3,239.5L77.2,240.5Z" fill="#00ff02" stroke="#00ff02" stroke-width=".3"/><path d="M77.2,240.5L74.3,239.5L77.2,236.7L80.2,237.7Z" fill="#24ff00" stroke="#24ff00" stroke-width=".3"/><path d="M83.1,235L80.1,234L83.1,231.3L86,232.3Z" fill="#70ff00" stroke="#70ff00" stroke-width=".3"/><path d="M91.9,226.9L89,226L91.9,223.4L94.9,224.3ZM89,226L86,225.1L89,222.6L91.9,223.4Z" fill="#dfff00" stroke="#dfff00" stroke-width=".3"/><path d="M51.2,262.6L48.3,261.2L51.2,258.2L54.1,259.6Z" fill="#00edff" stroke="#00edff" stroke-width=".3"/><path d="M54.1,259.6L51.2,258.2L54,255.3L57,256.6Z" fill="#00ffe9" stroke="#00ffe9" stroke-width=".3"/><path d="M57,256.6L54,255.3L56.9,252.4L59.8,253.7Z" fill="#00ffc1" stroke="#00ffc1" stroke-width=".3"/><path d="M65.6,247.9L62.6,246.7L65.5,243.9L68.5,245.1Z" fill="#00ff4c" stroke="#00ff4c" stroke-width=".3"/><path d="M68.5,245.1L65.5,243.9L68.4,241.1L71.4,242.2Z" fill="#00ff25" stroke="#00ff25" stroke-width=".3"/><path d="M71.4,242.2L68.4,241.1L71.3,238.4L74.3,239.5Z" fill="#01ff00" stroke="#01ff00" stroke-width=".3"/><path d="M83.1,231.3L80.1,230.3L83.1,227.7L86,228.7Z" fill="#96ff00" stroke="#96ff00" stroke-width=".3"/><path d="M86,228.7L83.1,227.7L86,225.1L89,226Z" fill="#bbff00" stroke="#bbff00" stroke-width=".3"/><path d="M91.9,223.4L89,222.6L91.9,220.1L94.9,220.9ZM89,222.6L86,221.7L89,219.2L91.9,220.1Z" fill="#fffa00" stroke="#fffa00" stroke-width=".3"/><path d="M48.3,261.2L45.4,259.8L48.2,256.9L51.2,258.2Z" fill="#00f2ff" stroke="#00f2ff" stroke-width=".3"/><path d="M51.2,258.2L48.2,256.9L51.1,254L54,255.3Z" fill="#00ffe4" stroke="#00ffe4" stroke-width=".3"/><path d="M54,255.3L51.1,254L53.9,251.1L56.9,252.4Z" fill="#00ffbd" stroke="#00ffbd" stroke-width=".3"/><path d="M56.9,252.4L53.9,251.1L56.8,248.3L59.8,249.5Z" fill="#00ff96" stroke="#00ff96" stroke-width=".3"/><path d="M62.6,246.7L59.7,245.5L62.6,242.7L65.5,243.9Z" fill="#00ff48" stroke="#00ff48" stroke-width=".3"/><path d="M65.5,243.9L62.6,242.7L65.5,240L68.4,241.1Z" fill="#00ff22" stroke="#00ff22" stroke-width=".3"/><path d="M68.4,241.1L65.5,240L68.4,237.3L71.3,238.4Z" fill="#04ff00" stroke="#04ff00" stroke-width=".3"/><path d="M74.3,235.7L71.3,234.6L74.2,232L77.2,233Z" fill="#4fff00" stroke="#4fff00" stroke-width=".3"/><path d="M77.2,233L74.2,232L77.2,229.4L80.1,230.3Z" fill="#73ff00" stroke="#73ff00" stroke-width=".3"/><path d="M80.1,230.3L77.2,229.4L80.1,226.8L83.1,227.7Z" fill="#98ff00" stroke="#98ff00" stroke-width=".3"/><path d="M83.1,227.7L80.1,226.8L83,224.2L86,225.1Z" fill="#bcff00" stroke="#bcff00" stroke-width=".3"/><path d="M86,225.1L83,224.2L86,221.7L89,222.6Z" fill="#e0ff00" stroke="#e0ff00" stroke-width=".3"/><path d="M103.9,210.3L100.9,209.6L103.9,207.3L106.9,207.9Z" fill="#ff4c00" stroke="#ff4c00" stroke-width=".3"/><path d="M45.4,259.8L42.4,258.4L45.3,255.5L48.2,256.9Z" fill="#00f8ff" stroke="#00f8ff" stroke-width=".3"/><path d="M48.2,256.9L45.3,255.5L48.1,252.6L51.1,254Z" fill="#00ffdf" stroke="#00ffdf" stroke-width=".3"/><path d="M51.1,254L48.1,252.6L51,249.8L53.9,251.1Z" fill="#00ffb8" stroke="#00ffb8" stroke-width=".3"/><path d="M59.7,245.5L56.7,244.3L59.6,241.5L62.6,242.7Z" fill="#00ff44" stroke="#00ff44" stroke-width=".3"/><path d="M62.6,242.7L59.6,241.5L62.5,238.8L65.5,240Z" fill="#00ff1f" stroke="#00ff1f" stroke-width=".3"/><path d="M65.5,240L62.5,238.8L65.4,236.2L68.4,237.3Z" fill="#07ff00" stroke="#07ff00" stroke-width=".3"/><path d="M68.4,237.3L65.4,236.2L68.3,233.5L71.3,234.6Z" fill="#2cff00" stroke="#2cff00" stroke-width=".3"/><path d="M71.3,234.6L68.3,233.5L71.3,230.9L74.2,232Z" fill="#51ff00" stroke="#51ff00" stroke-width=".3"/><path d="M74.2,232L71.3,230.9L74.2,228.4L77.2,229.4Z" fill="#76ff00" stroke="#76ff00" stroke-width=".3"/><path d="M77.2,229.4L74.2,228.4L77.1,225.8L80.1,226.8Z" fill="#9aff00" stroke="#9aff00" stroke-width=".3"/><path d="M80.1,226.8L77.1,225.8L80.1,223.3L83,224.2Z" fill="#beff00" stroke="#beff00" stroke-width=".3"/><path d="M83,224.2L80.1,223.3L83,220.9L86,221.7Z" fill="#e1ff00" stroke="#e1ff00" stroke-width=".3"/><path d="M86,221.7L83,220.9L86,218.4L89,219.2ZM83,220.9L80.1,220L83,217.6L86,218.4Z" fill="#fff900" stroke="#fff900" stroke-width=".3"/><path d="M89,219.2L86,218.4L89,216L91.9,216.8ZM86,218.4L83,217.6L86,215.2L89,216ZM83,217.6L80.1,216.8L83,214.5L86,215.2ZM80.1,216.8L77.1,216L80.1,213.7L83,214.5Z" fill="#ffd600" stroke="#ffd600" stroke-width=".3"/><path d="M42.4,258.4L39.5,256.9L42.3,254L45.3,255.5Z" fill="#00feff" stroke="#00feff" stroke-width=".3"/><path d="M45.3,255.5L42.3,254L45.2,251.2L48.1,252.6Z" fill="#00ffd9" stroke="#00ffd9" stroke-width=".3"/><path d="M48.1,252.6L45.2,251.2L48.1,248.5L51,249.8Z" fill="#00ffb2" stroke="#00ffb2" stroke-width=".3"/><path d="M51,249.8L48.1,248.5L50.9,245.7L53.9,247Z" fill="#00ff8c" stroke="#00ff8c" stroke-width=".3"/><path d="M53.9,247L50.9,245.7L53.8,243L56.7,244.3Z" fill="#00ff66" stroke="#00ff66" stroke-width=".3"/><path d="M56.7,244.3L53.8,243L56.7,240.3L59.6,241.5Z" fill="#00ff40" stroke="#00ff40" stroke-width=".3"/><path d="M59.6,241.5L56.7,240.3L59.6,237.7L62.5,238.8Z" fill="#00ff1a" stroke="#00ff1a" stroke-width=".3"/><path d="M62.5,238.8L59.6,237.7L62.5,235L65.4,236.2Z" fill="#0bff00" stroke="#0bff00" stroke-width=".3"/><path d="M65.4,236.2L62.5,235L65.4,232.5L68.3,233.5Z" fill="#30ff00" stroke="#30ff00" stroke-width=".3"/><path d="M68.3,233.5L65.4,232.5L68.3,229.9L71.3,230.9Z" fill="#54ff00" stroke="#54ff00" stroke-width=".3"/><path d="M71.3,230.9L68.3,229.9L71.2,227.4L74.2,228.4Z" fill="#78ff00" stroke="#78ff00" stroke-width=".3"/><path d="M74.2,228.4L71.2,227.4L74.2,224.9L77.1,225.8Z" fill="#9cff00" stroke="#9cff00" stroke-width=".3"/><path d="M77.1,225.8L74.2,224.9L77.1,222.4L80.1,223.3Z" fill="#bfff00" stroke="#bfff00" stroke-width=".3"/><path d="M80.1,223.3L77.1,222.4L80.1,220L83,220.9Z" fill="#e3ff00" stroke="#e3ff00" stroke-width=".3"/><path d="M97.9,209L95,208.3L98,206.1L100.9,206.7Z" fill="#ff4f00" stroke="#ff4f00" stroke-width=".3"/><path d="M39.5,256.9L36.6,255.3L39.4,252.6L42.3,254Z" fill="#00fff9" stroke="#00fff9" stroke-width=".3"/><path d="M42.3,254L39.4,252.6L42.3,249.8L45.2,251.2Z" fill="#00ffd2" stroke="#00ffd2" stroke-width=".3"/><path d="M45.2,251.2L42.3,249.8L45.1,247.1L48.1,248.5Z" fill="#00ffac" stroke="#00ffac" stroke-width=".3"/><path d="M48.1,248.5L45.1,247.1L48,244.4L50.9,245.7Z" fill="#00ff86" stroke="#00ff86" stroke-width=".3"/><path d="M50.9,245.7L48,244.4L50.9,241.7L53.8,243Z" fill="#00ff60" stroke="#00ff60" stroke-width=".3"/><path d="M53.8,243L50.9,241.7L53.7,239.1L56.7,240.3Z" fill="#00ff3b" stroke="#00ff3b" stroke-width=".3"/><path d="M56.7,240.3L53.7,239.1L56.6,236.5L59.6,237.7Z" fill="#00ff16" stroke="#00ff16" stroke-width=".3"/><path d="M59.6,237.7L56.6,236.5L59.5,233.9L62.5,235Z" fill="#0fff00" stroke="#0fff00" stroke-width=".3"/><path d="M62.5,235L59.5,233.9L62.4,231.4L65.4,232.5Z" fill="#33ff00" stroke="#33ff00" stroke-width=".3"/><path d="M65.4,232.5L62.4,231.4L65.4,228.9L68.3,229.9Z" fill="#57ff00" stroke="#57ff00" stroke-width=".3"/><path d="M68.3,229.9L65.4,228.9L68.3,226.4L71.2,227.4Z" fill="#7bff00" stroke="#7bff00" stroke-width=".3"/><path d="M71.2,227.4L68.3,226.4L71.2,223.9L74.2,224.9Z" fill="#9eff00" stroke="#9eff00" stroke-width=".3"/><path d="M74.2,224.9L71.2,223.9L74.2,221.5L77.1,222.4Z" fill="#c1ff00" stroke="#c1ff00" stroke-width=".3"/><path d="M77.1,222.4L74.2,221.5L77.1,219.1L80.1,220Z" fill="#e4ff00" stroke="#e4ff00" stroke-width=".3"/><path d="M80.1,220L77.1,219.1L80.1,216.8L83,217.6Z" fill="#fff800" stroke="#fff800" stroke-width=".3"/><path d="M92,210.6L89,209.9L92,207.7L95,208.3Z" fill="#ff7200" stroke="#ff7200" stroke-width=".3"/><path d="M95,208.3L92,207.7L95,205.5L98,206.1Z" fill="#ff5100" stroke="#ff5100" stroke-width=".3"/><path d="M45.1,247.1L42.2,245.7L45,243L48,244.4Z" fill="#00ff7f" stroke="#00ff7f" stroke-width=".3"/><path d="M48,244.4L45,243L47.9,240.4L50.9,241.7Z" fill="#00ff5a" stroke="#00ff5a" stroke-width=".3"/><path d="M50.9,241.7L47.9,240.4L50.8,237.8L53.7,239.1Z" fill="#00ff35" stroke="#00ff35" stroke-width=".3"/><path d="M53.7,239.1L50.8,237.8L53.7,235.3L56.6,236.5Z" fill="#00ff11" stroke="#00ff11" stroke-width=".3"/><path d="M56.6,236.5L53.7,235.3L56.6,232.7L59.5,233.9Z" fill="#13ff00" stroke="#13ff00" stroke-width=".3"/><path d="M59.5,233.9L56.6,232.7L59.5,230.2L62.4,231.4Z" fill="#37ff00" stroke="#37ff00" stroke-width=".3"/><path d="M62.4,231.4L59.5,230.2L62.4,227.8L65.4,228.9Z" fill="#5bff00" stroke="#5bff00" stroke-width=".3"/><path d="M65.4,228.9L62.4,227.8L65.3,225.4L68.3,226.4Z" fill="#7eff00" stroke="#7eff00" stroke-width=".3"/><path d="M68.3,226.4L65.3,225.4L68.3,223L71.2,223.9Z" fill="#a1ff00" stroke="#a1ff00" stroke-width=".3"/><path d="M71.2,223.9L68.3,223L71.2,220.6L74.2,221.5Z" fill="#c3ff00" stroke="#c3ff00" stroke-width=".3"/><path d="M74.2,221.5L71.2,220.6L74.1,218.3L77.1,219.1Z" fill="#e5ff00" stroke="#e5ff00" stroke-width=".3"/><path d="M77.1,219.1L74.1,218.3L77.1,216L80.1,216.8Z" fill="#fff700" stroke="#fff700" stroke-width=".3"/><path d="M86,212.2L83,211.4L86,209.2L89,209.9Z" fill="#ff9400" stroke="#ff9400" stroke-width=".3"/><path d="M89,209.9L86,209.2L89,207L92,207.7Z" fill="#ff7300" stroke="#ff7300" stroke-width=".3"/><path d="M92,207.7L89,207L92,204.9L95,205.5Z" fill="#ff5300" stroke="#ff5300" stroke-width=".3"/><path d="M92.2,277.4L103.8,264.7L115.5,252.4L127.4,240.7L139.5,229.4L151.6,218.6M92.2,277.4L80.5,274.1L68.8,270L57.1,265.2L45.4,259.8L33.6,253.8M89.2,276.6L100.9,263.9L112.6,251.6L124.5,239.9L136.5,228.6L148.6,217.8M95.1,274.2L83.4,270.8L71.7,266.8L60,262.1L48.2,256.9L36.5,251.1M86.3,275.8L97.9,263.1L109.7,250.8L121.5,239.1L133.5,227.8L145.6,217M98,271L86.2,267.7L74.5,263.7L62.8,259.1L51.1,254L39.3,248.3M83.4,275L95,262.2L106.7,250L118.6,238.3L130.5,227L142.7,216.3M100.9,267.8L89.1,264.5L77.4,260.6L65.7,256.1L53.9,251.1L42.2,245.7M80.5,274.1L92,261.4L103.8,249.2L115.6,237.4L127.6,226.2L139.7,215.5M103.8,264.7L92,261.4L80.3,257.5L68.6,253.1L56.8,248.3L45,243M77.6,273.1L89.1,260.4L100.8,248.3L112.6,236.6L124.6,225.4L136.7,214.8M106.7,261.6L95,258.3L83.2,254.5L71.5,250.2L59.7,245.5L47.9,240.4M74.6,272.1L86.2,259.5L97.9,247.4L109.7,235.8L121.6,224.6L133.7,214M109.7,258.5L97.9,255.2L86.1,251.4L74.4,247.3L62.6,242.7L50.8,237.8M71.7,271.1L83.2,258.5L94.9,246.5L106.7,234.9L118.7,223.8L130.7,213.3M112.6,255.5L100.8,252.2L89,248.5L77.3,244.4L65.5,240L53.7,235.3M68.8,270L80.3,257.5L92,245.5L103.8,234L115.7,223.1L127.8,212.6M115.5,252.4L103.8,249.2L92,245.5L80.2,241.6L68.4,237.3L56.6,232.7M65.9,268.9L77.4,256.5L89,244.6L100.8,233.2L112.7,222.3L124.8,211.9M118.5,249.5L106.7,246.2L94.9,242.6L83.1,238.7L71.3,234.6L59.5,230.2M62.9,267.7L74.4,255.4L86.1,243.6L97.8,232.3L109.8,221.5L121.8,211.2M121.5,246.5L109.7,243.2L97.8,239.7L86,236L74.2,232L62.4,227.8M60,266.5L71.5,254.3L83.1,242.6L94.9,231.4L106.8,220.7L118.8,210.5M124.5,243.6L112.6,240.3L100.8,236.9L89,233.2L77.2,229.4L65.3,225.4M57.1,265.2L68.6,253.1L80.2,241.6L91.9,230.5L103.8,219.9L115.8,209.9M127.4,240.7L115.6,237.4L103.8,234L91.9,230.5L80.1,226.8L68.3,223M54.2,263.9L65.6,252L77.2,240.5L89,229.6L100.9,219.1L112.9,209.2M130.4,237.8L118.6,234.6L106.7,231.2L94.9,227.8L83,224.2L71.2,220.6M51.2,262.6L62.7,250.8L74.3,239.5L86,228.7L97.9,218.4L109.9,208.6M133.4,235L121.6,231.8L109.7,228.5L97.9,225.1L86,221.7L74.1,218.3M48.3,261.2L59.8,249.5L71.3,238.4L83.1,227.7L94.9,217.6L106.9,207.9M136.4,232.2L124.6,229L112.7,225.8L100.8,222.5L89,219.2L77.1,216M45.4,259.8L56.8,248.3L68.4,237.3L80.1,226.8L91.9,216.8L103.9,207.3M139.5,229.4L127.6,226.2L115.7,223.1L103.8,219.9L91.9,216.8L80.1,213.7M42.4,258.4L53.9,247L65.4,236.2L77.1,225.8L89,216L100.9,206.7M142.5,226.6L130.6,223.5L118.7,220.4L106.8,217.4L94.9,214.4L83,211.4M39.5,256.9L50.9,245.7L62.5,235L74.2,224.9L86,215.2L98,206.1M145.5,223.9L133.6,220.8L121.7,217.8L109.8,214.8L97.9,212L86,209.2M36.6,255.3L48,244.4L59.5,233.9L71.2,223.9L83,214.5L95,205.5M148.5,221.3L136.6,218.1L124.7,215.2L112.8,212.3L100.9,209.6L89,207M33.6,253.8L45,243L56.6,232.7L68.3,223L80.1,213.7L92,204.9M151.6,218.6L139.7,215.5L127.8,212.6L115.8,209.9L103.9,207.3L92,204.9" stroke="#000" stroke-opacity=".42" stroke-width=".5" fill="none"/><circle cx="91.8" cy="229.4" r="1.35" fill="#a00000" stroke="#600" stroke-width=".35"/><circle cx="91.8" cy="235.7" r="1.35" fill="#a00000" stroke="#600" stroke-width=".35"/><circle cx="91.7" cy="275.9" r="1.35" fill="#a00000" stroke="#600" stroke-width=".35"/><text x="28.2" y="291.9" text-anchor="middle" font-size="5.3">60</text><text x="25.6" y="215.9" text-anchor="middle" font-size="5.3">95</text><text x="25.6" y="225.5" text-anchor="middle" font-size="5.3">90</text><text x="26.9" y="239.2" text-anchor="middle" font-size="5.3">85</text><text x="26.9" y="250.5" text-anchor="middle" font-size="5.3">80</text><text x="27.6" y="262.1" text-anchor="middle" font-size="5.3">75</text><text x="27.9" y="274.9" text-anchor="middle" font-size="5.3">70</text><text x="42.7" y="302.3" text-anchor="middle" font-size="5.3">54</text><text x="53.6" y="307.4" text-anchor="middle" font-size="5.3">48</text><text x="64.5" y="311.9" text-anchor="middle" font-size="5.3">42</text><text x="76.4" y="316.4" text-anchor="middle" font-size="5.3">36</text><text x="87.6" y="322.3" text-anchor="middle" font-size="5.3">30</text><text x="94.8" y="322" text-anchor="middle" font-size="5.3">10</text><text x="103.7" y="317.9" text-anchor="middle" font-size="5.3">20</text><text x="115.3" y="312.6" text-anchor="middle" font-size="5.3">30</text><text x="125.6" y="306.9" text-anchor="middle" font-size="5.3">40</text><text x="136.7" y="301.9" text-anchor="middle" font-size="5.3">50</text><text x="147.4" y="297.1" text-anchor="middle" font-size="5.3">60</text><text class="t" x="11.8" y="322.5" font-size="5.45" textLength="64.6" lengthAdjust="spacingAndGlyphs">B: Solvent-solid ratio (% <tspan font-style="italic">v/w</tspan>)</text><text class="t" x="117.1" y="322.7" font-size="5.45" textLength="45.4" lengthAdjust="spacingAndGlyphs">C: Temperature (°C)</text><text transform="translate(16.7,253.8) rotate(-90)" text-anchor="middle" font-size="5.7" class="t" textLength="55.8" lengthAdjust="spacingAndGlyphs">Extraction yield (% <tspan font-style="italic">v/v</tspan>)</text><text x="1.9" y="180.3" font-size="10" font-weight="bold" fill="#111">(d)</text></g><g><path d="M228.4,273.8L282.9,254.4L337.6,274.2M227.9,262.3L282.9,244L338.1,262.6M227.4,250.5L282.9,233.4L338.6,250.9M226.9,238.6L282.9,222.7L339.1,238.9M226.3,226.4L282.9,211.8L339.6,226.7M225.8,214L282.9,200.7L340.2,214.3M228.4,273.8L225.8,214M337.6,274.2L340.2,214.3M239.3,269.9L237.2,211.3M326.6,270.2L328.7,211.6M250.2,266L248.7,208.7M315.7,266.3L317.3,208.9M261.1,262.2L260.1,206M304.8,262.3L305.8,206.1M272,258.3L271.5,203.4M293.8,258.3L294.4,203.4M282.9,254.4L282.9,200.7M282.9,254.4L282.9,200.7M225.8,214L229.2,292.2M340.2,214.3L336.7,292.5M282.9,254.4L282.9,271" stroke="#939393" stroke-width=".65" fill="none"/><path d="M227.8,273.8h1.2M227.3,262.3h1.2M226.8,250.5h1.2M226.3,238.6h1.2M225.7,226.4h1.2M225.2,214h1.2" stroke="#333" stroke-width="1"/><path d="M229.2,292.2L283,319.8L336.7,292.5L282.9,271Z" fill="#646464"/><path d="M233.8,294.8L244,288.5L255.3,282" stroke="#6cb43a" stroke-width=".9" fill="none" stroke-linejoin="round"/><path d="M239.9,297.9L247,293L255,287.6L263.1,282L269.5,276.3" stroke="#6cb43a" stroke-width=".9" fill="none" stroke-linejoin="round"/><path d="M247.2,301.5L255,295.4L264,288.5L272.2,282L278.8,272.6" stroke="#6cb43a" stroke-width=".9" fill="none" stroke-linejoin="round"/><path d="M284.3,271.6L282,276L280.6,281L279.8,287L280.5,292.5L282.5,295.6L285.7,297.2L292,297.9L303.8,297.3L315,295.5L325,294L332.2,292.6L336.4,292.5" stroke="#6cb43a" stroke-width=".9" fill="none" stroke-linejoin="round"/><path d="M291,274.2L291.6,278L292.8,282.1L295,285L298.9,287.6L305,288.9L315,289.4L325.2,289.6L333.9,291.1L336.4,292.3" stroke="#6cb43a" stroke-width=".9" fill="none" stroke-linejoin="round"/><path d="M280.5,318.8L286,313.5L292,309.2L299,306L306.2,303.6L315,301L323.5,298.6L330,296L336.2,292.8" stroke="#6cb43a" stroke-width=".9" fill="none" stroke-linejoin="round"/><path d="M283,256.1L280.2,255.2L283,254.3L285.8,255.2ZM263.3,249L260.5,247.8L263.3,247L266.1,248.1ZM263.3,247L260.5,245.9L263.3,245.1L266.1,246.2ZM263.3,245.1L260.5,244L263.3,243.2L266.1,244.3ZM263.3,243.2L260.5,242.1L263.3,241.3L266.1,242.4ZM263.3,241.3L260.5,240.2L263.3,239.5L266.1,240.6ZM266.1,235L263.3,233.9L266.1,233.2L268.9,234.3ZM266.1,233.2L263.3,232.1L266.1,231.4L268.9,232.5Z" fill="#80ff00" stroke="#80ff00" stroke-width=".3"/><path d="M285.8,255.2L283,254.3L285.8,253.4L288.7,254.3ZM277.4,254.2L274.6,253.2L277.4,252.3L280.2,253.3ZM274.6,253.2L271.8,252.2L274.6,251.3L277.4,252.3ZM271.8,252.2L269,251.1L271.8,250.3L274.6,251.3ZM269,251.1L266.1,250.1L269,249.2L271.8,250.3ZM266.1,248.1L263.3,247L266.1,246.2L269,247.3ZM266.1,246.2L263.3,245.1L266.1,244.3L269,245.4ZM266.1,244.3L263.3,243.2L266.1,242.4L268.9,243.5ZM266.1,242.4L263.3,241.3L266.1,240.6L268.9,241.7ZM266.1,240.6L263.3,239.5L266.1,238.7L268.9,239.8ZM268.9,232.5L266.1,231.4L268.9,230.7L271.7,231.8ZM268.9,230.7L266.1,229.7L268.9,229L271.7,230.1ZM268.9,229L266.1,228L268.9,227.3L271.7,228.3ZM268.9,227.3L266.1,226.3L268.9,225.7L271.7,226.7ZM268.9,225.7L266.1,224.7L268.9,224L271.7,225Z" fill="#7eff00" stroke="#7eff00" stroke-width=".3"/><path d="M288.7,254.3L285.8,253.4L288.7,252.5L291.5,253.4ZM280.2,253.3L277.4,252.3L280.2,251.5L283,252.4ZM277.4,252.3L274.6,251.3L277.4,250.5L280.2,251.5ZM274.6,251.3L271.8,250.3L274.6,249.4L277.4,250.5ZM271.8,250.3L269,249.2L271.8,248.4L274.6,249.4ZM269,247.3L266.1,246.2L269,245.4L271.8,246.5ZM269,245.4L266.1,244.3L268.9,243.5L271.8,244.6ZM268.9,243.5L266.1,242.4L268.9,241.7L271.8,242.7ZM268.9,241.7L266.1,240.6L268.9,239.8L271.7,240.9ZM268.9,239.8L266.1,238.7L268.9,237.9L271.7,239ZM268.9,237.9L266.1,236.8L268.9,236.1L271.7,237.2Z" fill="#7cff00" stroke="#7cff00" stroke-width=".3"/><path d="M291.5,253.4L288.7,252.5L291.5,251.6L294.3,252.5ZM285.8,253.4L283,252.4L285.8,251.5L288.7,252.5ZM271.8,248.4L269,247.3L271.8,246.5L274.6,247.5ZM271.7,235.4L268.9,234.3L271.7,233.6L274.5,234.6ZM271.7,233.6L268.9,232.5L271.7,231.8L274.5,232.8ZM271.7,231.8L268.9,230.7L271.7,230.1L274.5,231.1ZM271.7,230.1L268.9,229L271.7,228.3L274.5,229.3ZM271.7,228.3L268.9,227.3L271.7,226.7L274.5,227.7ZM271.7,226.7L268.9,225.7L271.7,225L274.5,226ZM271.7,225L268.9,224L271.7,223.4L274.5,224.4Z" fill="#7bff00" stroke="#7bff00" stroke-width=".3"/><path d="M294.3,252.5L291.5,251.6L294.3,250.6L297.1,251.5ZM285.8,251.5L283,250.6L285.8,249.7L288.6,250.6ZM277.4,248.6L274.6,247.5L277.4,246.7L280.2,247.7ZM274.6,247.5L271.8,246.5L274.6,245.7L277.4,246.7ZM274.6,245.7L271.8,244.6L274.6,243.8L277.4,244.8ZM274.5,234.6L271.7,233.6L274.5,232.8L277.3,233.8ZM274.5,232.8L271.7,231.8L274.5,231.1L277.3,232.1ZM274.5,231.1L271.7,230.1L274.5,229.3L277.3,230.3ZM274.5,229.3L271.7,228.3L274.5,227.7L277.3,228.6ZM274.5,227.7L271.7,226.7L274.5,226L277.3,227Z" fill="#79ff00" stroke="#79ff00" stroke-width=".3"/><path d="M297.1,251.5L294.3,250.6L297.1,249.7L299.9,250.6ZM291.5,251.6L288.6,250.6L291.5,249.7L294.3,250.6ZM283,250.6L280.2,249.6L283,248.7L285.8,249.7ZM280.2,249.6L277.4,248.6L280.2,247.7L283,248.7ZM274.6,243.8L271.8,242.7L274.6,241.9L277.4,243ZM274.6,241.9L271.7,240.9L274.6,240.1L277.4,241.1ZM274.6,240.1L271.7,239L274.6,238.2L277.4,239.3ZM274.6,238.2L271.7,237.2L274.5,236.4L277.4,237.4ZM274.5,236.4L271.7,235.4L274.5,234.6L277.4,235.6ZM274.5,226L271.7,225L274.5,224.4L277.3,225.3ZM274.5,224.4L271.7,223.4L274.5,222.8L277.3,223.7Z" fill="#78ff00" stroke="#78ff00" stroke-width=".3"/><path d="M299.9,250.6L297.1,249.7L299.9,248.8L302.7,249.7ZM291.5,249.7L288.6,248.8L291.4,247.9L294.3,248.8ZM280.2,245.8L277.4,244.8L280.2,244L283,245ZM277.4,243L274.6,241.9L277.4,241.1L280.2,242.1ZM277.4,241.1L274.6,240.1L277.4,239.3L280.2,240.3ZM277.4,239.3L274.6,238.2L277.4,237.4L280.2,238.5ZM277.4,237.4L274.5,236.4L277.4,235.6L280.2,236.6ZM277.4,235.6L274.5,234.6L277.3,233.8L280.2,234.8ZM277.3,233.8L274.5,232.8L277.3,232.1L280.2,233.1ZM277.3,228.6L274.5,227.7L277.3,227L280.1,227.9ZM277.3,227L274.5,226L277.3,225.3L280.1,226.3Z" fill="#76ff00" stroke="#76ff00" stroke-width=".3"/><path d="M302.7,249.7L299.9,248.8L302.7,247.8L305.5,248.7ZM297.1,249.7L294.3,248.8L297.1,247.9L299.9,248.8ZM288.6,248.8L285.8,247.8L288.6,246.9L291.4,247.9ZM285.8,247.8L283,246.8L285.8,246L288.6,246.9ZM283,246.8L280.2,245.8L283,245L285.8,246ZM280.2,244L277.4,243L280.2,242.1L283,243.1ZM280.2,242.1L277.4,241.1L280.2,240.3L283,241.3ZM280.2,240.3L277.4,239.3L280.2,238.5L283,239.5ZM280.2,233.1L277.3,232.1L280.2,231.3L283,232.3ZM277.3,225.3L274.5,224.4L277.3,223.7L280.1,224.7Z" fill="#75ff00" stroke="#75ff00" stroke-width=".3"/><path d="M305.5,248.7L302.7,247.8L305.5,246.9L308.3,247.7ZM299.9,248.8L297.1,247.9L299.9,247L302.7,247.8ZM294.3,248.8L291.4,247.9L294.3,247L297.1,247.9ZM291.4,247.9L288.6,246.9L291.4,246L294.3,247ZM288.6,246.9L285.8,246L288.6,245.1L291.4,246ZM285.8,246L283,245L285.8,244.1L288.6,245.1ZM283,245L280.2,244L283,243.1L285.8,244.1ZM283,243.1L280.2,242.1L283,241.3L285.8,242.3ZM280.2,238.5L277.4,237.4L280.2,236.6L283,237.6ZM280.2,236.6L277.4,235.6L280.2,234.8L283,235.8ZM280.2,234.8L277.3,233.8L280.2,233.1L283,234.1ZM280.2,231.3L277.3,230.3L280.1,229.6L283,230.6ZM280.1,229.6L277.3,228.6L280.1,227.9L283,228.9ZM280.1,227.9L277.3,227L280.1,226.3L282.9,227.2ZM277.3,223.7L274.5,222.8L277.3,222.2L280.1,223.1Z" fill="#74ff00" stroke="#74ff00" stroke-width=".3"/><path d="M308.3,247.7L305.5,246.9L308.3,245.9L311.1,246.8ZM302.7,247.8L299.9,247L302.7,246L305.5,246.9ZM297.1,247.9L294.3,247L297.1,246.1L299.9,247ZM294.3,247L291.4,246L294.3,245.1L297.1,246.1ZM285.8,244.1L283,243.1L285.8,242.3L288.6,243.2ZM283,241.3L280.2,240.3L283,239.5L285.8,240.4ZM283,239.5L280.2,238.5L283,237.6L285.8,238.6ZM283,237.6L280.2,236.6L283,235.8L285.8,236.8ZM283,235.8L280.2,234.8L283,234.1L285.8,235ZM283,234.1L280.2,233.1L283,232.3L285.8,233.3ZM283,232.3L280.2,231.3L283,230.6L285.8,231.5ZM280.1,226.3L277.3,225.3L280.1,224.7L282.9,225.6ZM280.1,224.7L277.3,223.7L280.1,223.1L282.9,224Z" fill="#73ff00" stroke="#73ff00" stroke-width=".3"/><path d="M311.1,246.8L308.3,245.9L311.1,245L313.9,245.8ZM305.5,246.9L302.7,246L305.5,245.1L308.3,245.9ZM299.9,247L297.1,246.1L299.9,245.1L302.7,246ZM291.4,246L288.6,245.1L291.4,244.2L294.3,245.1ZM288.6,245.1L285.8,244.1L288.6,243.2L291.4,244.2ZM288.6,243.2L285.8,242.3L288.6,241.4L291.4,242.4ZM285.8,242.3L283,241.3L285.8,240.4L288.6,241.4ZM285.8,240.4L283,239.5L285.8,238.6L288.6,239.6ZM283,230.6L280.1,229.6L283,228.9L285.8,229.8ZM283,228.9L280.1,227.9L282.9,227.2L285.8,228.1ZM282.9,227.2L280.1,226.3L282.9,225.6L285.8,226.5Z" fill="#72ff00" stroke="#72ff00" stroke-width=".3"/><path d="M313.9,245.8L311.1,245L313.9,244L316.7,244.8ZM316.7,244.8L313.9,244L316.7,243L319.5,243.9ZM308.3,245.9L305.5,245.1L308.3,244.1L311.1,245ZM302.7,246L299.9,245.1L302.7,244.2L305.5,245.1ZM297.1,246.1L294.3,245.1L297.1,244.2L299.9,245.1ZM294.3,245.1L291.4,244.2L294.2,243.3L297.1,244.2ZM291.4,244.2L288.6,243.2L291.4,242.4L294.2,243.3ZM288.6,241.4L285.8,240.4L288.6,239.6L291.4,240.5ZM285.8,238.6L283,237.6L285.8,236.8L288.6,237.8ZM285.8,236.8L283,235.8L285.8,235L288.6,236ZM285.8,235L283,234.1L285.8,233.3L288.6,234.2ZM285.8,233.3L283,232.3L285.8,231.5L288.6,232.5ZM285.8,231.5L283,230.6L285.8,229.8L288.6,230.7ZM282.9,225.6L280.1,224.7L282.9,224L285.7,224.9ZM280.1,223.1L277.3,222.2L280.1,221.5L282.9,222.4Z" fill="#71ff00" stroke="#71ff00" stroke-width=".3"/><path d="M319.5,243.9L316.7,243L319.5,242.1L322.4,242.9ZM322.4,242.9L319.5,242.1L322.3,241.1L325.2,241.9ZM311.1,245L308.3,244.1L311.1,243.2L313.9,244ZM305.5,245.1L302.7,244.2L305.5,243.3L308.3,244.1ZM299.9,245.1L297.1,244.2L299.9,243.3L302.7,244.2ZM297.1,244.2L294.2,243.3L297.1,242.4L299.9,243.3ZM294.2,243.3L291.4,242.4L294.2,241.5L297.1,242.4ZM291.4,242.4L288.6,241.4L291.4,240.5L294.2,241.5ZM291.4,240.5L288.6,239.6L291.4,238.7L294.2,239.7ZM288.6,239.6L285.8,238.6L288.6,237.8L291.4,238.7ZM288.6,237.8L285.8,236.8L288.6,236L291.4,236.9ZM288.6,236L285.8,235L288.6,234.2L291.4,235.2ZM288.6,234.2L285.8,233.3L288.6,232.5L291.4,233.4ZM285.8,229.8L283,228.9L285.8,228.1L288.6,229.1ZM285.8,228.1L282.9,227.2L285.8,226.5L288.6,227.4ZM282.9,224L280.1,223.1L282.9,222.4L285.7,223.3Z" fill="#70ff00" stroke="#70ff00" stroke-width=".3"/><path d="M325.2,241.9L322.3,241.1L325.2,240.1L328,240.9ZM328,240.9L325.2,240.1L328,239.1L330.8,239.9ZM330.8,239.9L328,239.1L330.8,238.1L333.6,238.8ZM333.6,238.8L330.8,238.1L333.6,237.1L336.4,237.8ZM336.4,237.8L333.6,237.1L336.4,236.1L339.2,236.8ZM313.9,244L311.1,243.2L313.9,242.2L316.7,243ZM316.7,243L313.9,242.2L316.7,241.3L319.5,242.1ZM308.3,244.1L305.5,243.3L308.3,242.3L311.1,243.2ZM302.7,244.2L299.9,243.3L302.7,242.4L305.5,243.3ZM299.9,243.3L297.1,242.4L299.9,241.5L302.7,242.4ZM297.1,242.4L294.2,241.5L297,240.6L299.9,241.5ZM294.2,241.5L291.4,240.5L294.2,239.7L297,240.6ZM291.4,238.7L288.6,237.8L291.4,236.9L294.2,237.9ZM291.4,236.9L288.6,236L291.4,235.2L294.2,236.1ZM288.6,232.5L285.8,231.5L288.6,230.7L291.4,231.7ZM288.6,230.7L285.8,229.8L288.6,229.1L291.4,230ZM288.6,229.1L285.8,228.1L288.6,227.4L291.4,228.3ZM285.8,226.5L282.9,225.6L285.7,224.9L288.6,225.8Z" fill="#6fff00" stroke="#6fff00" stroke-width=".3"/><path d="M280.2,255.2L277.4,254.2L280.2,253.3L283,254.3ZM266.1,250.1L263.3,249L266.1,248.1L269,249.2ZM266.1,238.7L263.3,237.6L266.1,236.8L268.9,237.9ZM266.1,236.8L263.3,235.7L266.1,235L268.9,236.1Z" fill="#7fff00" stroke="#7fff00" stroke-width=".3"/><path d="M283,254.3L280.2,253.3L283,252.4L285.8,253.4ZM269,249.2L266.1,248.1L269,247.3L271.8,248.4ZM268.9,236.1L266.1,235L268.9,234.3L271.7,235.4ZM268.9,234.3L266.1,233.2L268.9,232.5L271.7,233.6Z" fill="#7dff00" stroke="#7dff00" stroke-width=".3"/><path d="M288.7,252.5L285.8,251.5L288.6,250.6L291.5,251.6ZM283,252.4L280.2,251.5L283,250.6L285.8,251.5ZM280.2,251.5L277.4,250.5L280.2,249.6L283,250.6ZM277.4,250.5L274.6,249.4L277.4,248.6L280.2,249.6ZM274.6,249.4L271.8,248.4L274.6,247.5L277.4,248.6ZM271.8,246.5L269,245.4L271.8,244.6L274.6,245.7ZM271.8,244.6L268.9,243.5L271.8,242.7L274.6,243.8ZM271.8,242.7L268.9,241.7L271.7,240.9L274.6,241.9ZM271.7,240.9L268.9,239.8L271.7,239L274.6,240.1ZM271.7,239L268.9,237.9L271.7,237.2L274.6,238.2ZM271.7,237.2L268.9,236.1L271.7,235.4L274.5,236.4Z" fill="#7aff00" stroke="#7aff00" stroke-width=".3"/><path d="M294.3,250.6L291.5,249.7L294.3,248.8L297.1,249.7ZM288.6,250.6L285.8,249.7L288.6,248.8L291.5,249.7ZM285.8,249.7L283,248.7L285.8,247.8L288.6,248.8ZM283,248.7L280.2,247.7L283,246.8L285.8,247.8ZM280.2,247.7L277.4,246.7L280.2,245.8L283,246.8ZM277.4,246.7L274.6,245.7L277.4,244.8L280.2,245.8ZM277.4,244.8L274.6,243.8L277.4,243L280.2,244ZM277.3,232.1L274.5,231.1L277.3,230.3L280.2,231.3ZM277.3,230.3L274.5,229.3L277.3,228.6L280.1,229.6Z" fill="#77ff00" stroke="#77ff00" stroke-width=".3"/><path d="M319.5,242.1L316.7,241.3L319.5,240.3L322.3,241.1ZM322.3,241.1L319.5,240.3L322.3,239.3L325.2,240.1ZM325.2,240.1L322.3,239.3L325.1,238.3L328,239.1ZM311.1,243.2L308.3,242.3L311.1,241.4L313.9,242.2ZM313.9,242.2L311.1,241.4L313.9,240.4L316.7,241.3ZM305.5,243.3L302.7,242.4L305.5,241.5L308.3,242.3ZM308.3,242.3L305.5,241.5L308.3,240.5L311.1,241.4ZM302.7,242.4L299.9,241.5L302.7,240.6L305.5,241.5ZM299.9,241.5L297,240.6L299.9,239.7L302.7,240.6ZM297,240.6L294.2,239.7L297,238.8L299.9,239.7ZM294.2,239.7L291.4,238.7L294.2,237.9L297,238.8ZM294.2,237.9L291.4,236.9L294.2,236.1L297,237ZM294.2,236.1L291.4,235.2L294.2,234.3L297,235.2ZM291.4,235.2L288.6,234.2L291.4,233.4L294.2,234.3ZM291.4,233.4L288.6,232.5L291.4,231.7L294.2,232.6ZM291.4,231.7L288.6,230.7L291.4,230L294.2,230.9ZM288.6,227.4L285.8,226.5L288.6,225.8L291.4,226.6ZM285.7,224.9L282.9,224L285.7,223.3L288.6,224.2ZM282.9,222.4L280.1,221.5L282.9,220.9L285.7,221.8Z" fill="#6eff00" stroke="#6eff00" stroke-width=".3"/><path d="M328,239.1L325.1,238.3L328,237.3L330.8,238.1ZM330.8,238.1L328,237.3L330.8,236.3L333.6,237.1ZM333.6,237.1L330.8,236.3L333.6,235.3L336.4,236.1ZM316.7,241.3L313.9,240.4L316.7,239.5L319.5,240.3ZM319.5,240.3L316.7,239.5L319.5,238.5L322.3,239.3ZM322.3,239.3L319.5,238.5L322.3,237.5L325.1,238.3ZM311.1,241.4L308.3,240.5L311.1,239.6L313.9,240.4ZM305.5,241.5L302.7,240.6L305.5,239.7L308.3,240.5ZM308.3,240.5L305.5,239.7L308.3,238.7L311.1,239.6ZM302.7,240.6L299.9,239.7L302.7,238.8L305.5,239.7ZM299.9,239.7L297,238.8L299.8,237.9L302.7,238.8ZM297,238.8L294.2,237.9L297,237L299.8,237.9ZM297,237L294.2,236.1L297,235.2L299.8,236.1ZM294.2,234.3L291.4,233.4L294.2,232.6L297,233.5ZM294.2,232.6L291.4,231.7L294.2,230.9L297,231.8ZM291.4,230L288.6,229.1L291.4,228.3L294.2,229.2ZM291.4,228.3L288.6,227.4L291.4,226.6L294.2,227.5ZM288.6,225.8L285.7,224.9L288.6,224.2L291.4,225ZM285.7,223.3L282.9,222.4L285.7,221.8L288.5,222.6Z" fill="#6dff00" stroke="#6dff00" stroke-width=".3"/><path d="M325.1,238.3L322.3,237.5L325.1,236.6L328,237.3ZM328,237.3L325.1,236.6L327.9,235.6L330.8,236.3ZM330.8,236.3L327.9,235.6L330.8,234.6L333.6,235.3ZM313.9,240.4L311.1,239.6L313.9,238.7L316.7,239.5ZM316.7,239.5L313.9,238.7L316.7,237.7L319.5,238.5ZM319.5,238.5L316.7,237.7L319.5,236.7L322.3,237.5ZM311.1,239.6L308.3,238.7L311.1,237.8L313.9,238.7ZM305.5,239.7L302.7,238.8L305.5,237.9L308.3,238.7ZM308.3,238.7L305.5,237.9L308.3,237L311.1,237.8ZM302.7,238.8L299.8,237.9L302.7,237L305.5,237.9ZM299.8,237.9L297,237L299.8,236.1L302.7,237ZM302.7,237L299.8,236.1L302.6,235.2L305.5,236.1ZM299.8,236.1L297,235.2L299.8,234.4L302.6,235.2ZM297,235.2L294.2,234.3L297,233.5L299.8,234.4ZM297,233.5L294.2,232.6L297,231.8L299.8,232.6ZM294.2,230.9L291.4,230L294.2,229.2L297,230.1ZM294.2,229.2L291.4,228.3L294.2,227.5L297,228.4ZM291.4,226.6L288.6,225.8L291.4,225L294.2,225.9ZM288.6,224.2L285.7,223.3L288.5,222.6L291.4,223.5Z" fill="#6cff00" stroke="#6cff00" stroke-width=".3"/><path d="M322.3,237.5L319.5,236.7L322.3,235.8L325.1,236.6ZM325.1,236.6L322.3,235.8L325.1,234.8L327.9,235.6ZM327.9,235.6L325.1,234.8L327.9,233.8L330.8,234.6ZM313.9,238.7L311.1,237.8L313.9,236.9L316.7,237.7ZM316.7,237.7L313.9,236.9L316.7,235.9L319.5,236.7ZM319.5,236.7L316.7,235.9L319.5,235L322.3,235.8ZM311.1,237.8L308.3,237L311.1,236.1L313.9,236.9ZM305.5,237.9L302.7,237L305.5,236.1L308.3,237ZM308.3,237L305.5,236.1L308.3,235.2L311.1,236.1ZM305.5,236.1L302.6,235.2L305.5,234.4L308.3,235.2ZM302.6,235.2L299.8,234.4L302.6,233.5L305.5,234.4ZM299.8,234.4L297,233.5L299.8,232.6L302.6,233.5ZM299.8,232.6L297,231.8L299.8,230.9L302.6,231.8ZM297,231.8L294.2,230.9L297,230.1L299.8,230.9ZM297,230.1L294.2,229.2L297,228.4L299.8,229.2ZM294.2,227.5L291.4,226.6L294.2,225.9L297,226.7ZM291.4,225L288.6,224.2L291.4,223.5L294.2,224.3Z" fill="#6bff00" stroke="#6bff00" stroke-width=".3"/><path d="M322.3,235.8L319.5,235L322.3,234L325.1,234.8ZM325.1,234.8L322.3,234L325.1,233.1L327.9,233.8ZM313.9,236.9L311.1,236.1L313.9,235.1L316.7,235.9ZM316.7,235.9L313.9,235.1L316.7,234.2L319.5,235ZM319.5,235L316.7,234.2L319.5,233.3L322.3,234ZM322.3,234L319.5,233.3L322.3,232.3L325.1,233.1ZM311.1,236.1L308.3,235.2L311.1,234.3L313.9,235.1ZM313.9,235.1L311.1,234.3L313.9,233.4L316.7,234.2ZM308.3,235.2L305.5,234.4L308.3,233.5L311.1,234.3ZM305.5,234.4L302.6,233.5L305.4,232.6L308.3,233.5ZM302.6,233.5L299.8,232.6L302.6,231.8L305.4,232.6ZM302.6,231.8L299.8,230.9L302.6,230.1L305.4,230.9ZM299.8,230.9L297,230.1L299.8,229.2L302.6,230.1ZM299.8,229.2L297,228.4L299.8,227.6L302.6,228.4ZM297,228.4L294.2,227.5L297,226.7L299.8,227.6ZM294.2,225.9L291.4,225L294.2,224.3L297,225.1Z" fill="#6aff00" stroke="#6aff00" stroke-width=".3"/><path d="M316.7,234.2L313.9,233.4L316.7,232.5L319.5,233.3ZM319.5,233.3L316.7,232.5L319.5,231.6L322.3,232.3ZM311.1,234.3L308.3,233.5L311.1,232.6L313.9,233.4ZM313.9,233.4L311.1,232.6L313.9,231.7L316.7,232.5ZM308.3,233.5L305.4,232.6L308.3,231.8L311.1,232.6ZM311.1,232.6L308.3,231.8L311.1,230.9L313.9,231.7ZM305.4,232.6L302.6,231.8L305.4,230.9L308.3,231.8ZM308.3,231.8L305.4,230.9L308.2,230.1L311.1,230.9ZM305.4,230.9L302.6,230.1L305.4,229.2L308.2,230.1ZM302.6,230.1L299.8,229.2L302.6,228.4L305.4,229.2ZM299.8,227.6L297,226.7L299.8,226L302.6,226.8ZM297,226.7L294.2,225.9L297,225.1L299.8,226Z" fill="#69ff00" stroke="#69ff00" stroke-width=".3"/><path d="M316.7,232.5L313.9,231.7L316.7,230.8L319.5,231.6ZM313.9,231.7L311.1,230.9L313.9,230L316.7,230.8ZM311.1,230.9L308.2,230.1L311.1,229.2L313.9,230ZM308.2,230.1L305.4,229.2L308.2,228.4L311.1,229.2ZM305.4,229.2L302.6,228.4L305.4,227.6L308.2,228.4ZM302.6,228.4L299.8,227.6L302.6,226.8L305.4,227.6Z" fill="#68ff00" stroke="#68ff00" stroke-width=".3"/><path d="M260.5,247.8L257.7,246.7L260.5,245.9L263.3,247ZM260.5,245.9L257.7,244.8L260.5,244L263.3,245.1ZM260.5,244L257.7,242.8L260.5,242.1L263.3,243.2ZM263.3,237.6L260.5,236.5L263.3,235.7L266.1,236.8ZM263.3,235.7L260.5,234.6L263.3,233.9L266.1,235Z" fill="#82ff00" stroke="#82ff00" stroke-width=".3"/><path d="M257.7,246.7L254.9,245.5L257.7,244.8L260.5,245.9ZM257.7,244.8L254.9,243.6L257.7,242.8L260.5,244ZM260.5,238.3L257.7,237.2L260.5,236.5L263.3,237.6ZM263.3,232.1L260.5,231L263.3,230.4L266.1,231.4ZM263.3,230.4L260.5,229.3L263.3,228.6L266.1,229.7Z" fill="#84ff00" stroke="#84ff00" stroke-width=".3"/><path d="M254.9,245.5L252.1,244.3L254.9,243.6L257.7,244.8ZM254.9,243.6L252.1,242.4L254.9,241.7L257.7,242.8ZM257.7,239L254.9,237.9L257.7,237.2L260.5,238.3ZM257.7,237.2L254.8,236L257.7,235.3L260.5,236.5ZM260.5,231L257.6,229.9L260.5,229.3L263.3,230.4Z" fill="#87ff00" stroke="#87ff00" stroke-width=".3"/><path d="M252.1,244.3L249.2,243.1L252.1,242.4L254.9,243.6ZM254.9,237.9L252,236.7L254.8,236L257.7,237.2ZM257.6,231.7L254.8,230.5L257.6,229.9L260.5,231Z" fill="#8aff00" stroke="#8aff00" stroke-width=".3"/><path d="M257.7,242.8L254.9,241.7L257.7,240.9L260.5,242.1ZM260.5,236.5L257.7,235.3L260.5,234.6L263.3,235.7ZM263.3,228.6L260.4,227.6L263.3,226.9L266.1,228ZM263.3,226.9L260.4,225.9L263.3,225.3L266.1,226.3Z" fill="#85ff00" stroke="#85ff00" stroke-width=".3"/><path d="M260.5,242.1L257.7,240.9L260.5,240.2L263.3,241.3ZM260.5,240.2L257.7,239L260.5,238.3L263.3,239.5ZM263.3,233.9L260.5,232.8L263.3,232.1L266.1,233.2Z" fill="#83ff00" stroke="#83ff00" stroke-width=".3"/><path d="M249.2,243.1L246.4,241.9L249.2,241.2L252.1,242.4ZM252,238.6L249.2,237.4L252,236.7L254.9,237.9ZM254.8,232.3L252,231.2L254.8,230.5L257.6,231.7Z" fill="#8dff00" stroke="#8dff00" stroke-width=".3"/><path d="M252.1,242.4L249.2,241.2L252.1,240.5L254.9,241.7ZM254.8,236L252,234.8L254.8,234.2L257.7,235.3ZM257.6,229.9L254.8,228.8L257.6,228.2L260.5,229.3Z" fill="#8bff00" stroke="#8bff00" stroke-width=".3"/><path d="M254.9,241.7L252.1,240.5L254.9,239.8L257.7,240.9ZM257.7,235.3L254.8,234.2L257.7,233.5L260.5,234.6ZM260.5,229.3L257.6,228.2L260.4,227.6L263.3,228.6ZM260.4,227.6L257.6,226.5L260.4,225.9L263.3,226.9Z" fill="#88ff00" stroke="#88ff00" stroke-width=".3"/><path d="M257.7,240.9L254.9,239.8L257.7,239L260.5,240.2ZM260.5,234.6L257.7,233.5L260.5,232.8L263.3,233.9ZM260.5,232.8L257.6,231.7L260.5,231L263.3,232.1Z" fill="#86ff00" stroke="#86ff00" stroke-width=".3"/><path d="M263.3,239.5L260.5,238.3L263.3,237.6L266.1,238.7ZM266.1,231.4L263.3,230.4L266.1,229.7L268.9,230.7ZM266.1,229.7L263.3,228.6L266.1,228L268.9,229ZM266.1,228L263.3,226.9L266.1,226.3L268.9,227.3ZM266.1,226.3L263.3,225.3L266.1,224.7L268.9,225.7Z" fill="#81ff00" stroke="#81ff00" stroke-width=".3"/><path d="M246.4,241.9L243.6,240.6L246.4,240L249.2,241.2ZM249.2,237.4L246.4,236.1L249.2,235.5L252,236.7ZM252,233L249.2,231.8L252,231.2L254.8,232.3Z" fill="#91ff00" stroke="#91ff00" stroke-width=".3"/><path d="M249.2,241.2L246.4,240L249.2,239.3L252.1,240.5ZM252,234.8L249.2,233.6L252,233L254.8,234.2ZM254.8,228.8L252,227.6L254.8,227.1L257.6,228.2Z" fill="#8fff00" stroke="#8fff00" stroke-width=".3"/><path d="M252.1,240.5L249.2,239.3L252,238.6L254.9,239.8ZM254.8,234.2L252,233L254.8,232.3L257.7,233.5ZM257.6,228.2L254.8,227.1L257.6,226.5L260.4,227.6Z" fill="#8cff00" stroke="#8cff00" stroke-width=".3"/><path d="M254.9,239.8L252,238.6L254.9,237.9L257.7,239ZM257.7,233.5L254.8,232.3L257.6,231.7L260.5,232.8Z" fill="#89ff00" stroke="#89ff00" stroke-width=".3"/><path d="M243.6,240.6L240.8,239.4L243.6,238.7L246.4,240ZM246.4,236.1L243.6,234.9L246.4,234.3L249.2,235.5Z" fill="#96ff00" stroke="#96ff00" stroke-width=".3"/><path d="M246.4,240L243.6,238.7L246.4,238L249.2,239.3ZM249.2,235.5L246.4,234.3L249.2,233.6L252,234.8ZM252,229.4L249.2,228.2L252,227.6L254.8,228.8Z" fill="#93ff00" stroke="#93ff00" stroke-width=".3"/><path d="M249.2,239.3L246.4,238L249.2,237.4L252,238.6Z" fill="#90ff00" stroke="#90ff00" stroke-width=".3"/><path d="M240.8,239.4L237.9,238.1L240.8,237.4L243.6,238.7ZM243.6,234.9L240.7,233.6L243.6,233L246.4,234.3Z" fill="#9bff00" stroke="#9bff00" stroke-width=".3"/><path d="M243.6,238.7L240.8,237.4L243.6,236.8L246.4,238ZM246.4,234.3L243.6,233L246.4,232.4L249.2,233.6ZM249.2,230L246.4,228.8L249.2,228.2L252,229.4Z" fill="#97ff00" stroke="#97ff00" stroke-width=".3"/><path d="M246.4,238L243.6,236.8L246.4,236.1L249.2,237.4ZM249.2,233.6L246.4,232.4L249.2,231.8L252,233Z" fill="#94ff00" stroke="#94ff00" stroke-width=".3"/><path d="M252,236.7L249.2,235.5L252,234.8L254.8,236ZM254.8,230.5L252,229.4L254.8,228.8L257.6,229.9Z" fill="#8eff00" stroke="#8eff00" stroke-width=".3"/><path d="M237.9,238.1L235.1,236.8L237.9,236.1L240.8,237.4ZM240.7,233.6L237.9,232.4L240.7,231.8L243.6,233Z" fill="#a0ff00" stroke="#a0ff00" stroke-width=".3"/><path d="M240.8,237.4L237.9,236.1L240.8,235.5L243.6,236.8ZM243.6,233L240.7,231.8L243.6,231.2L246.4,232.4Z" fill="#9cff00" stroke="#9cff00" stroke-width=".3"/><path d="M243.6,236.8L240.8,235.5L243.6,234.9L246.4,236.1ZM246.4,232.4L243.6,231.2L246.4,230.6L249.2,231.8Z" fill="#99ff00" stroke="#99ff00" stroke-width=".3"/><path d="M235.1,236.8L232.3,235.4L235.1,234.8L237.9,236.1Z" fill="#a5ff00" stroke="#a5ff00" stroke-width=".3"/><path d="M237.9,236.1L235.1,234.8L237.9,234.2L240.8,235.5ZM240.7,231.8L237.9,230.5L240.7,229.9L243.6,231.2Z" fill="#a2ff00" stroke="#a2ff00" stroke-width=".3"/><path d="M240.8,235.5L237.9,234.2L240.7,233.6L243.6,234.9ZM243.6,231.2L240.7,229.9L243.5,229.4L246.4,230.6Z" fill="#9eff00" stroke="#9eff00" stroke-width=".3"/><path d="M232.3,235.4L229.5,234.1L232.3,233.5L235.1,234.8Z" fill="#acff00" stroke="#acff00" stroke-width=".3"/><path d="M235.1,234.8L232.3,233.5L235.1,232.9L237.9,234.2Z" fill="#a8ff00" stroke="#a8ff00" stroke-width=".3"/><path d="M237.9,234.2L235.1,232.9L237.9,232.4L240.7,233.6Z" fill="#a4ff00" stroke="#a4ff00" stroke-width=".3"/><path d="M249.2,231.8L246.4,230.6L249.2,230L252,231.2Z" fill="#95ff00" stroke="#95ff00" stroke-width=".3"/><path d="M252,231.2L249.2,230L252,229.4L254.8,230.5Z" fill="#92ff00" stroke="#92ff00" stroke-width=".3"/><path d="M229.5,234.1L226.6,232.7L229.4,232.2L232.3,233.5Z" fill="#b2ff00" stroke="#b2ff00" stroke-width=".3"/><path d="M232.3,233.5L229.4,232.2L232.3,231.6L235.1,232.9Z" fill="#aeff00" stroke="#aeff00" stroke-width=".3"/><path d="M235.1,232.9L232.3,231.6L235.1,231.1L237.9,232.4Z" fill="#aaff00" stroke="#aaff00" stroke-width=".3"/><path d="M237.9,232.4L235.1,231.1L237.9,230.5L240.7,231.8Z" fill="#a6ff00" stroke="#a6ff00" stroke-width=".3"/><path d="M246.4,230.6L243.5,229.4L246.4,228.8L249.2,230Z" fill="#9aff00" stroke="#9aff00" stroke-width=".3"/><path d="M283,256.1L294.3,252.5L305.5,248.7L316.7,244.8L328,240.9L339.2,236.8M283,256.1L271.8,252.2L260.5,247.8L249.2,243.1L237.9,238.1L226.6,232.7M280.2,255.2L291.5,251.6L302.7,247.8L313.9,244L325.2,240.1L336.4,236.1M285.8,255.2L274.6,251.3L263.3,247L252.1,242.4L240.8,237.4L229.4,232.2M277.4,254.2L288.6,250.6L299.9,247L311.1,243.2L322.3,239.3L333.6,235.3M288.7,254.3L277.4,250.5L266.1,246.2L254.9,241.7L243.6,236.8L232.3,231.6M274.6,253.2L285.8,249.7L297.1,246.1L308.3,242.3L319.5,238.5L330.8,234.6M291.5,253.4L280.2,249.6L269,245.4L257.7,240.9L246.4,236.1L235.1,231.1M271.8,252.2L283,248.7L294.3,245.1L305.5,241.5L316.7,237.7L327.9,233.8M294.3,252.5L283,248.7L271.8,244.6L260.5,240.2L249.2,235.5L237.9,230.5M269,251.1L280.2,247.7L291.4,244.2L302.7,240.6L313.9,236.9L325.1,233.1M297.1,251.5L285.8,247.8L274.6,243.8L263.3,239.5L252,234.8L240.7,229.9M266.1,250.1L277.4,246.7L288.6,243.2L299.9,239.7L311.1,236.1L322.3,232.3M299.9,250.6L288.6,246.9L277.4,243L266.1,238.7L254.8,234.2L243.5,229.4M263.3,249L274.6,245.7L285.8,242.3L297,238.8L308.3,235.2L319.5,231.6M302.7,249.7L291.4,246L280.2,242.1L268.9,237.9L257.7,233.5L246.4,228.8M260.5,247.8L271.8,244.6L283,241.3L294.2,237.9L305.5,234.4L316.7,230.8M305.5,248.7L294.3,245.1L283,241.3L271.7,237.2L260.5,232.8L249.2,228.2M257.7,246.7L268.9,243.5L280.2,240.3L291.4,236.9L302.6,233.5L313.9,230M308.3,247.7L297.1,244.2L285.8,240.4L274.5,236.4L263.3,232.1L252,227.6M254.9,245.5L266.1,242.4L277.4,239.3L288.6,236L299.8,232.6L311.1,229.2M311.1,246.8L299.9,243.3L288.6,239.6L277.4,235.6L266.1,231.4L254.8,227.1M252.1,244.3L263.3,241.3L274.6,238.2L285.8,235L297,231.8L308.2,228.4M313.9,245.8L302.7,242.4L291.4,238.7L280.2,234.8L268.9,230.7L257.6,226.5M249.2,243.1L260.5,240.2L271.7,237.2L283,234.1L294.2,230.9L305.4,227.6M316.7,244.8L305.5,241.5L294.2,237.9L283,234.1L271.7,230.1L260.4,225.9M246.4,241.9L257.7,239L268.9,236.1L280.2,233.1L291.4,230L302.6,226.8M319.5,243.9L308.3,240.5L297,237L285.8,233.3L274.5,229.3L263.3,225.3M243.6,240.6L254.9,237.9L266.1,235L277.3,232.1L288.6,229.1L299.8,226M322.4,242.9L311.1,239.6L299.8,236.1L288.6,232.5L277.3,228.6L266.1,224.7M240.8,239.4L252,236.7L263.3,233.9L274.5,231.1L285.8,228.1L297,225.1M325.2,241.9L313.9,238.7L302.6,235.2L291.4,231.7L280.1,227.9L268.9,224M237.9,238.1L249.2,235.5L260.5,232.8L271.7,230.1L282.9,227.2L294.2,224.3M328,240.9L316.7,237.7L305.5,234.4L294.2,230.9L282.9,227.2L271.7,223.4M235.1,236.8L246.4,234.3L257.6,231.7L268.9,229L280.1,226.3L291.4,223.5M330.8,239.9L319.5,236.7L308.3,233.5L297,230.1L285.8,226.5L274.5,222.8M232.3,235.4L243.6,233L254.8,230.5L266.1,228L277.3,225.3L288.5,222.6M333.6,238.8L322.3,235.8L311.1,232.6L299.8,229.2L288.6,225.8L277.3,222.2M229.5,234.1L240.7,231.8L252,229.4L263.3,226.9L274.5,224.4L285.7,221.8M336.4,237.8L325.1,234.8L313.9,231.7L302.6,228.4L291.4,225L280.1,221.5M226.6,232.7L237.9,230.5L249.2,228.2L260.4,225.9L271.7,223.4L282.9,220.9M339.2,236.8L327.9,233.8L316.7,230.8L305.4,227.6L294.2,224.3L282.9,220.9" stroke="#000" stroke-opacity=".42" stroke-width=".5" fill="none"/><circle cx="226.4" cy="232.7" r="1.35" fill="#a00000" stroke="#600" stroke-width=".35"/><circle cx="282.7" cy="216.8" r="1.35" fill="#a00000" stroke="#600" stroke-width=".35"/><circle cx="282.7" cy="230.6" r="1.35" fill="#a00000" stroke="#600" stroke-width=".35"/><circle cx="282.7" cy="236.7" r="1.35" fill="#a00000" stroke="#600" stroke-width=".35"/><circle cx="282.7" cy="256.7" r="1.35" fill="#a00000" stroke="#600" stroke-width=".35"/><circle cx="338.6" cy="232.7" r="1.35" fill="#a00000" stroke="#600" stroke-width=".35"/><text x="222.9" y="292.6" text-anchor="middle" font-size="5.3">60</text><text x="220.3" y="215.8" text-anchor="middle" font-size="5.3">95</text><text x="220.3" y="225.1" text-anchor="middle" font-size="5.3">90</text><text x="220.3" y="238.9" text-anchor="middle" font-size="5.3">85</text><text x="220.3" y="250.3" text-anchor="middle" font-size="5.3">80</text><text x="221.5" y="262.4" text-anchor="middle" font-size="5.3">75</text><text x="222.1" y="275.9" text-anchor="middle" font-size="5.3">70</text><text x="235.9" y="302.9" text-anchor="middle" font-size="5.3">54</text><text x="247.8" y="308.2" text-anchor="middle" font-size="5.3">48</text><text x="259.5" y="313.4" text-anchor="middle" font-size="5.3">42</text><text x="269.6" y="318.9" text-anchor="middle" font-size="5.3">36</text><text x="278.3" y="323.7" text-anchor="middle" font-size="5.3">30</text><text x="285.8" y="324.1" text-anchor="middle" font-size="5.3">30</text><text x="294" y="319.6" text-anchor="middle" font-size="5.3">36</text><text x="304.8" y="313.7" text-anchor="middle" font-size="5.3">42</text><text x="315.6" y="308.4" text-anchor="middle" font-size="5.3">48</text><text x="326.7" y="303.1" text-anchor="middle" font-size="5.3">54</text><text x="337.9" y="297.1" text-anchor="middle" font-size="5.3">60</text><text class="t" x="208.3" y="323.9" font-size="5.45" textLength="61.3" lengthAdjust="spacingAndGlyphs">B: Solvent-solid ratio (% <tspan font-style="italic">v/w</tspan>)</text><text class="t" x="309.8" y="324.8" font-size="5.45" textLength="36.7" lengthAdjust="spacingAndGlyphs">D: Time (minute)</text><text transform="translate(215.2,253.8) rotate(-90)" text-anchor="middle" font-size="5.7" class="t" textLength="55.8" lengthAdjust="spacingAndGlyphs">Extraction yield (% <tspan font-style="italic">v/v</tspan>)</text><text x="199.9" y="180.3" font-size="10" font-weight="bold" fill="#111">(e)</text></g><g><path d="M426.5,272.4L477.8,253.2L529.3,271.9M426.1,263.2L477.8,244.9L529.7,262.6M425.8,253.8L477.8,236.4L530.1,253.1M425.4,244.4L477.8,227.9L530.4,243.6M425.1,234.7L477.8,219.2L530.8,233.9M424.7,225L477.8,210.4L531.2,224.1M424.3,215.1L477.8,201.5L531.6,214.1M426.5,272.4L424.3,215.1M529.3,271.9L531.6,214.1M436.7,268.6L435,212.4M519,268.1L520.8,211.6M447,264.8L445.7,209.7M508.7,264.4L510.1,209M457.3,260.9L456.4,206.9M498.4,260.7L499.3,206.5M467.5,257.1L467.1,204.2M488.1,257L488.6,204M477.8,253.2L477.8,201.5M477.8,253.2L477.8,201.5M424.3,215.1L427.2,290.8M531.6,214.1L528.6,290.3M477.8,253.2L477.8,269.9" stroke="#939393" stroke-width=".65" fill="none"/><path d="M425.9,272.4h1.2M425.5,263.2h1.2M425.2,253.8h1.2M424.8,244.4h1.2M424.5,234.7h1.2M424.1,225h1.2M423.7,215.1h1.2" stroke="#333" stroke-width="1"/><path d="M427.2,290.8L477.6,316.9L528.6,290.3L477.8,269.9Z" fill="#646464"/><path d="M520.9,294.4L519.4,294.9L518.4,295.3L516.9,295.8L515.9,296.2L514.3,296.7L513.3,297.1L511.8,297.7L510.6,298.1L509.3,298.6L507.8,299.1L506.8,299.5L505.3,300.1L504.3,300.4L502.8,301L501.8,301.4L500.3,301.9L499,302.5L497.9,302.9L496.4,303.4L495.4,303.8L494,304.4L492.5,304.9L491.5,305.3L490.1,305.9L489.1,306.3L487.6,306.8L486.2,307.4L485.2,307.8L483.8,308.3L482.4,308.9L481.4,309.3L480,309.9L478.5,310.4L477.6,310.8L476.2,311.4L474.7,312L473.8,312.3L472.4,312.9L471,313.5L471,313.5" stroke="#24a2c7" stroke-width="1" fill="none"/><path d="M521.3,287.4L519.8,288L518.8,288.3L517.2,288.9L516.2,289.2L514.7,289.8L513.7,290.1L512.2,290.7L511.2,291L509.7,291.6L508.5,292L507.2,292.5L505.7,293L504.7,293.4L503.2,293.9L502.3,294.3L500.8,294.8L499.6,295.3L498.3,295.7L496.9,296.3L495.9,296.6L494.4,297.2L493.1,297.7L492,298.1L490.5,298.7L489.6,299L488.1,299.6L486.7,300.1L485.7,300.5L484.3,301L482.8,301.6L481.9,302L480.4,302.5L479,303.1L478.1,303.4L476.6,304L475.2,304.5L474.3,304.9L472.8,305.4L471.4,306L470.5,306.4L469.1,306.9L467.6,307.5L466.5,307.9L465.3,308.4L463.9,309L463,309.3" stroke="#24c794" stroke-width="1" fill="none"/><path d="M511.2,283.4L509.8,283.9L508.3,284.4L507.3,284.8L505.8,285.3L504.8,285.6L503.4,286.2L502.1,286.6L500.9,287.1L499.5,287.6L498.5,287.9L497,288.5L495.6,289L494.6,289.4L493.1,289.9L492,290.3L490.7,290.8L489.3,291.3L488.3,291.7L486.9,292.2L485.5,292.7L484.5,293.1L483.1,293.6L481.6,294.2L480.7,294.5L479.3,295L477.8,295.6L476.9,295.9L475.5,296.5L474.1,297L473,297.4L471.7,297.9L470.3,298.4L468.9,298.9L467.9,299.3L466.5,299.8L465.1,300.4L464.2,300.7L462.8,301.3L461.4,301.8L460.1,302.3L459,302.7L457.6,303.2L456.2,303.7L455.3,304.1L453.9,304.6L453.9,304.6" stroke="#24c733" stroke-width="1" fill="none"/><path d="M501.3,279.3L499.9,279.9L498.9,280.2L497.5,280.7L496,281.2L495.1,281.6L493.6,282.1L492.2,282.6L491.3,283L489.8,283.5L488.4,284L487.5,284.4L486,284.9L484.6,285.4L483.7,285.7L482.2,286.3L480.8,286.8L479.9,287.1L478.5,287.6L477.1,288.1L475.9,288.6L474.7,289L473.3,289.5L471.9,290L471,290.4L469.6,290.9L468.2,291.4L467.2,291.8L465.8,292.3L464.4,292.8L463,293.3L462.1,293.6L460.7,294.2L459.3,294.7L458.2,295.1L457,295.5L455.6,296L454.2,296.5L453.2,296.9L451.8,297.4L450.4,297.9L449.1,298.4L448.1,298.8L446.7,299.3L445.3,299.8L444.9,299.9" stroke="#73c724" stroke-width="1" fill="none"/><path d="M492,275.6L490.6,276.1L489.5,276.5L488.3,277L486.9,277.5L485.5,278L484.5,278.3L483.1,278.8L481.7,279.3L480.4,279.8L479.4,280.2L478,280.7L476.6,281.2L475.7,281.5L474.3,282L472.9,282.5L471.5,283L470.6,283.3L469.2,283.8L467.8,284.3L466.4,284.8L465.5,285.2L464.1,285.7L462.7,286.2L461.3,286.7L460.4,287L459,287.5L457.6,288L456.5,288.4L455.3,288.8L453.9,289.3L452.5,289.8L451.6,290.1L450.2,290.6L448.8,291.1L447.4,291.6L446.5,291.9L445.1,292.4L443.7,292.9L442.4,293.4L441.4,293.7L440,294.2L438.6,294.7L437.3,295.2L436.3,295.5L436.3,295.5" stroke="#c7c424" stroke-width="1" fill="none"/><path d="M477.6,287.4L475,284.3L477.6,283.2L480.2,286.3ZM501,276.8L498.5,274L501.1,272.8L503.6,275.6Z" fill="#0067ff" stroke="#0067ff" stroke-width=".3"/><path d="M480.2,286.3L477.6,283.2L480.2,282L482.8,285.1ZM482.8,285.1L480.2,282L482.8,280.9L485.4,283.9ZM498.4,278L495.9,275.1L498.5,274L501,276.8Z" fill="#0066ff" stroke="#0066ff" stroke-width=".3"/><path d="M485.4,283.9L482.8,280.9L485.4,279.8L488,282.8ZM488,282.8L485.4,279.8L488,278.6L490.6,281.6ZM490.6,281.6L488,278.6L490.6,277.5L493.2,280.4ZM493.2,280.4L490.6,277.5L493.3,276.3L495.8,279.2ZM495.8,279.2L493.3,276.3L495.9,275.1L498.4,278Z" fill="#0065ff" stroke="#0065ff" stroke-width=".3"/><path d="M503.6,275.6L501.1,272.8L503.7,271.6L506.2,274.4Z" fill="#0068ff" stroke="#0068ff" stroke-width=".3"/><path d="M506.2,274.4L503.7,271.6L506.3,270.4L508.8,273.1Z" fill="#0069ff" stroke="#0069ff" stroke-width=".3"/><path d="M508.8,273.1L506.3,270.4L508.9,269.2L511.4,271.9Z" fill="#006aff" stroke="#006aff" stroke-width=".3"/><path d="M511.4,271.9L508.9,269.2L511.5,268L514,270.6Z" fill="#006cff" stroke="#006cff" stroke-width=".3"/><path d="M514,270.6L511.5,268L514.1,266.8L516.6,269.4Z" fill="#006dff" stroke="#006dff" stroke-width=".3"/><path d="M516.6,269.4L514.1,266.8L516.7,265.5L519.2,268.1Z" fill="#006fff" stroke="#006fff" stroke-width=".3"/><path d="M519.2,268.1L516.7,265.5L519.3,264.3L521.9,266.9Z" fill="#0071ff" stroke="#0071ff" stroke-width=".3"/><path d="M521.9,266.9L519.3,264.3L521.9,263.1L524.5,265.6Z" fill="#0073ff" stroke="#0073ff" stroke-width=".3"/><path d="M524.5,265.6L521.9,263.1L524.5,261.8L527.1,264.3Z" fill="#0076ff" stroke="#0076ff" stroke-width=".3"/><path d="M527.1,264.3L524.5,261.8L527.1,260.6L529.7,263Z" fill="#0078ff" stroke="#0078ff" stroke-width=".3"/><path d="M475,284.3L472.4,281.2L475,280.1L477.6,283.2ZM503.7,271.6L501.1,268.8L503.7,267.7L506.3,270.4Z" fill="#0093ff" stroke="#0093ff" stroke-width=".3"/><path d="M477.6,283.2L475,280.1L477.7,279L480.2,282ZM480.2,282L477.7,279L480.3,277.9L482.8,280.9ZM501.1,272.8L498.5,270L501.1,268.8L503.7,271.6Z" fill="#0092ff" stroke="#0092ff" stroke-width=".3"/><path d="M482.8,280.9L480.3,277.9L482.9,276.8L485.4,279.8ZM485.4,279.8L482.9,276.8L485.5,275.7L488,278.6ZM495.9,275.1L493.3,272.3L495.9,271.1L498.5,274ZM498.5,274L495.9,271.1L498.5,270L501.1,272.8Z" fill="#0091ff" stroke="#0091ff" stroke-width=".3"/><path d="M488,278.6L485.5,275.7L488.1,274.6L490.6,277.5ZM490.6,277.5L488.1,274.6L490.7,273.4L493.3,276.3ZM493.3,276.3L490.7,273.4L493.3,272.3L495.9,275.1Z" fill="#0090ff" stroke="#0090ff" stroke-width=".3"/><path d="M506.3,270.4L503.7,267.7L506.3,266.5L508.9,269.2Z" fill="#0094ff" stroke="#0094ff" stroke-width=".3"/><path d="M508.9,269.2L506.3,266.5L508.9,265.3L511.5,268Z" fill="#0095ff" stroke="#0095ff" stroke-width=".3"/><path d="M511.5,268L508.9,265.3L511.6,264.1L514.1,266.8Z" fill="#0096ff" stroke="#0096ff" stroke-width=".3"/><path d="M514.1,266.8L511.6,264.1L514.2,263L516.7,265.5Z" fill="#0098ff" stroke="#0098ff" stroke-width=".3"/><path d="M516.7,265.5L514.2,263L516.8,261.8L519.3,264.3Z" fill="#0099ff" stroke="#0099ff" stroke-width=".3"/><path d="M519.3,264.3L516.8,261.8L519.4,260.6L521.9,263.1Z" fill="#009bff" stroke="#009bff" stroke-width=".3"/><path d="M521.9,263.1L519.4,260.6L522,259.4L524.5,261.8Z" fill="#009dff" stroke="#009dff" stroke-width=".3"/><path d="M524.5,261.8L522,259.4L524.6,258.1L527.1,260.6Z" fill="#00a0ff" stroke="#00a0ff" stroke-width=".3"/><path d="M472.4,281.2L469.9,278.1L472.5,277L475,280.1ZM508.9,265.3L506.4,262.7L509,261.6L511.6,264.1Z" fill="#00bfff" stroke="#00bfff" stroke-width=".3"/><path d="M475,280.1L472.5,277L475.1,276L477.7,279ZM506.3,266.5L503.8,263.9L506.4,262.7L508.9,265.3Z" fill="#00beff" stroke="#00beff" stroke-width=".3"/><path d="M477.7,279L475.1,276L477.7,274.9L480.3,277.9ZM480.3,277.9L477.7,274.9L480.3,273.8L482.9,276.8ZM503.7,267.7L501.2,265L503.8,263.9L506.3,266.5Z" fill="#00bdff" stroke="#00bdff" stroke-width=".3"/><path d="M482.9,276.8L480.3,273.8L482.9,272.8L485.5,275.7ZM485.5,275.7L482.9,272.8L485.5,271.7L488.1,274.6ZM498.5,270L495.9,267.2L498.6,266.1L501.1,268.8ZM501.1,268.8L498.6,266.1L501.2,265L503.7,267.7Z" fill="#00bcff" stroke="#00bcff" stroke-width=".3"/><path d="M488.1,274.6L485.5,271.7L488.1,270.6L490.7,273.4ZM490.7,273.4L488.1,270.6L490.7,269.5L493.3,272.3ZM493.3,272.3L490.7,269.5L493.3,268.4L495.9,271.1ZM495.9,271.1L493.3,268.4L495.9,267.2L498.5,270Z" fill="#00bbff" stroke="#00bbff" stroke-width=".3"/><path d="M511.6,264.1L509,261.6L511.6,260.4L514.2,263Z" fill="#00c0ff" stroke="#00c0ff" stroke-width=".3"/><path d="M514.2,263L511.6,260.4L514.2,259.2L516.8,261.8Z" fill="#00c1ff" stroke="#00c1ff" stroke-width=".3"/><path d="M516.8,261.8L514.2,259.2L516.8,258.1L519.4,260.6Z" fill="#00c3ff" stroke="#00c3ff" stroke-width=".3"/><path d="M519.4,260.6L516.8,258.1L519.4,256.9L522,259.4Z" fill="#00c5ff" stroke="#00c5ff" stroke-width=".3"/><path d="M522,259.4L519.4,256.9L522.1,255.7L524.6,258.1Z" fill="#00c6ff" stroke="#00c6ff" stroke-width=".3"/><path d="M469.9,278.1L467.3,275.1L469.9,274L472.5,277Z" fill="#00ebff" stroke="#00ebff" stroke-width=".3"/><path d="M472.5,277L469.9,274L472.5,273L475.1,276ZM514.2,259.2L511.7,256.8L514.3,255.6L516.8,258.1Z" fill="#00eaff" stroke="#00eaff" stroke-width=".3"/><path d="M475.1,276L472.5,273L475.1,272L477.7,274.9ZM511.6,260.4L509,257.9L511.7,256.8L514.2,259.2Z" fill="#00e9ff" stroke="#00e9ff" stroke-width=".3"/><path d="M477.7,274.9L475.1,272L477.7,270.9L480.3,273.8ZM509,261.6L506.4,259L509,257.9L511.6,260.4Z" fill="#00e8ff" stroke="#00e8ff" stroke-width=".3"/><path d="M480.3,273.8L477.7,270.9L480.3,269.9L482.9,272.8ZM503.8,263.9L501.2,261.2L503.8,260.1L506.4,262.7ZM506.4,262.7L503.8,260.1L506.4,259L509,261.6Z" fill="#00e7ff" stroke="#00e7ff" stroke-width=".3"/><path d="M482.9,272.8L480.3,269.9L482.9,268.8L485.5,271.7ZM485.5,271.7L482.9,268.8L485.5,267.7L488.1,270.6ZM488.1,270.6L485.5,267.7L488.2,266.7L490.7,269.5ZM498.6,266.1L496,263.4L498.6,262.3L501.2,265ZM501.2,265L498.6,262.3L501.2,261.2L503.8,263.9Z" fill="#00e6ff" stroke="#00e6ff" stroke-width=".3"/><path d="M490.7,269.5L488.2,266.7L490.8,265.6L493.3,268.4ZM493.3,268.4L490.8,265.6L493.4,264.5L495.9,267.2ZM495.9,267.2L493.4,264.5L496,263.4L498.6,266.1Z" fill="#00e5ff" stroke="#00e5ff" stroke-width=".3"/><path d="M516.8,258.1L514.3,255.6L516.9,254.5L519.4,256.9Z" fill="#00ecff" stroke="#00ecff" stroke-width=".3"/><path d="M519.4,256.9L516.9,254.5L519.5,253.4L522.1,255.7Z" fill="#00edff" stroke="#00edff" stroke-width=".3"/><path d="M467.3,275.1L464.7,272.1L467.3,271.1L469.9,274Z" fill="#00ffe8" stroke="#00ffe8" stroke-width=".3"/><path d="M469.9,274L467.3,271.1L469.9,270.1L472.5,273Z" fill="#00ffe9" stroke="#00ffe9" stroke-width=".3"/><path d="M472.5,273L469.9,270.1L472.5,269L475.1,272ZM516.9,254.5L514.3,252.1L516.9,251L519.5,253.4Z" fill="#00ffea" stroke="#00ffea" stroke-width=".3"/><path d="M475.1,272L472.5,269L475.1,268L477.7,270.9ZM514.3,255.6L511.7,253.2L514.3,252.1L516.9,254.5Z" fill="#00ffeb" stroke="#00ffeb" stroke-width=".3"/><path d="M477.7,270.9L475.1,268L477.7,267L480.3,269.9ZM511.7,256.8L509.1,254.3L511.7,253.2L514.3,255.6Z" fill="#00ffec" stroke="#00ffec" stroke-width=".3"/><path d="M480.3,269.9L477.7,267L480.3,266L482.9,268.8ZM509,257.9L506.5,255.4L509.1,254.3L511.7,256.8Z" fill="#00ffed" stroke="#00ffed" stroke-width=".3"/><path d="M482.9,268.8L480.3,266L483,264.9L485.5,267.7ZM485.5,267.7L483,264.9L485.6,263.9L488.2,266.7ZM503.8,260.1L501.3,257.5L503.9,256.5L506.4,259ZM506.4,259L503.9,256.5L506.5,255.4L509,257.9Z" fill="#00ffee" stroke="#00ffee" stroke-width=".3"/><path d="M488.2,266.7L485.6,263.9L488.2,262.9L490.8,265.6ZM490.8,265.6L488.2,262.9L490.8,261.8L493.4,264.5ZM493.4,264.5L490.8,261.8L493.4,260.7L496,263.4ZM496,263.4L493.4,260.7L496,259.7L498.6,262.3ZM498.6,262.3L496,259.7L498.6,258.6L501.2,261.2ZM501.2,261.2L498.6,258.6L501.3,257.5L503.8,260.1Z" fill="#00ffef" stroke="#00ffef" stroke-width=".3"/><path d="M464.7,272.1L462.1,269.1L464.7,268.1L467.3,271.1Z" fill="#00ffbc" stroke="#00ffbc" stroke-width=".3"/><path d="M467.3,271.1L464.7,268.1L467.3,267.1L469.9,270.1Z" fill="#00ffbe" stroke="#00ffbe" stroke-width=".3"/><path d="M469.9,270.1L467.3,267.1L469.9,266.1L472.5,269Z" fill="#00ffbf" stroke="#00ffbf" stroke-width=".3"/><path d="M472.5,269L469.9,266.1L472.5,265.2L475.1,268Z" fill="#00ffc1" stroke="#00ffc1" stroke-width=".3"/><path d="M475.1,268L472.5,265.2L475.1,264.2L477.7,267Z" fill="#00ffc2" stroke="#00ffc2" stroke-width=".3"/><path d="M477.7,267L475.1,264.2L477.8,263.2L480.3,266Z" fill="#00ffc3" stroke="#00ffc3" stroke-width=".3"/><path d="M480.3,266L477.8,263.2L480.4,262.2L483,264.9ZM483,264.9L480.4,262.2L483,261.2L485.6,263.9ZM511.7,253.2L509.1,250.8L511.8,249.7L514.3,252.1ZM514.3,252.1L511.8,249.7L514.4,248.6L516.9,251Z" fill="#00ffc4" stroke="#00ffc4" stroke-width=".3"/><path d="M485.6,263.9L483,261.2L485.6,260.1L488.2,262.9ZM488.2,262.9L485.6,260.1L488.2,259.1L490.8,261.8ZM509.1,254.3L506.5,251.8L509.1,250.8L511.7,253.2Z" fill="#00ffc5" stroke="#00ffc5" stroke-width=".3"/><path d="M490.8,261.8L488.2,259.1L490.8,258.1L493.4,260.7ZM493.4,260.7L490.8,258.1L493.4,257.1L496,259.7ZM496,259.7L493.4,257.1L496.1,256L498.6,258.6ZM498.6,258.6L496.1,256L498.7,255L501.3,257.5ZM501.3,257.5L498.7,255L501.3,253.9L503.9,256.5ZM503.9,256.5L501.3,253.9L503.9,252.9L506.5,255.4ZM506.5,255.4L503.9,252.9L506.5,251.8L509.1,254.3Z" fill="#00ffc6" stroke="#00ffc6" stroke-width=".3"/><path d="M462.1,269.1L459.4,266.1L462.1,265.2L464.7,268.1Z" fill="#00ff92" stroke="#00ff92" stroke-width=".3"/><path d="M464.7,268.1L462.1,265.2L464.7,264.2L467.3,267.1Z" fill="#00ff93" stroke="#00ff93" stroke-width=".3"/><path d="M467.3,267.1L464.7,264.2L467.3,263.3L469.9,266.1Z" fill="#00ff95" stroke="#00ff95" stroke-width=".3"/><path d="M469.9,266.1L467.3,263.3L469.9,262.3L472.5,265.2Z" fill="#00ff96" stroke="#00ff96" stroke-width=".3"/><path d="M472.5,265.2L469.9,262.3L472.5,261.4L475.1,264.2Z" fill="#00ff97" stroke="#00ff97" stroke-width=".3"/><path d="M475.1,264.2L472.5,261.4L475.2,260.4L477.8,263.2Z" fill="#00ff99" stroke="#00ff99" stroke-width=".3"/><path d="M477.8,263.2L475.2,260.4L477.8,259.4L480.4,262.2Z" fill="#00ff9a" stroke="#00ff9a" stroke-width=".3"/><path d="M480.4,262.2L477.8,259.4L480.4,258.4L483,261.2ZM483,261.2L480.4,258.4L483,257.4L485.6,260.1Z" fill="#00ff9b" stroke="#00ff9b" stroke-width=".3"/><path d="M485.6,260.1L483,257.4L485.6,256.5L488.2,259.1Z" fill="#00ff9c" stroke="#00ff9c" stroke-width=".3"/><path d="M488.2,259.1L485.6,256.5L488.2,255.5L490.8,258.1ZM490.8,258.1L488.2,255.5L490.9,254.5L493.4,257.1ZM511.8,249.7L509.2,247.3L511.8,246.3L514.4,248.6Z" fill="#00ff9d" stroke="#00ff9d" stroke-width=".3"/><path d="M493.4,257.1L490.9,254.5L493.5,253.5L496.1,256ZM496.1,256L493.5,253.5L496.1,252.5L498.7,255ZM498.7,255L496.1,252.5L498.7,251.4L501.3,253.9ZM501.3,253.9L498.7,251.4L501.3,250.4L503.9,252.9ZM503.9,252.9L501.3,250.4L503.9,249.4L506.5,251.8ZM506.5,251.8L503.9,249.4L506.6,248.4L509.1,250.8ZM509.1,250.8L506.6,248.4L509.2,247.3L511.8,249.7Z" fill="#00ff9e" stroke="#00ff9e" stroke-width=".3"/><path d="M459.4,266.1L456.8,263.2L459.4,262.3L462.1,265.2Z" fill="#00ff67" stroke="#00ff67" stroke-width=".3"/><path d="M462.1,265.2L459.4,262.3L462.1,261.4L464.7,264.2Z" fill="#00ff69" stroke="#00ff69" stroke-width=".3"/><path d="M464.7,264.2L462.1,261.4L464.7,260.4L467.3,263.3Z" fill="#00ff6b" stroke="#00ff6b" stroke-width=".3"/><path d="M467.3,263.3L464.7,260.4L467.3,259.5L469.9,262.3Z" fill="#00ff6c" stroke="#00ff6c" stroke-width=".3"/><path d="M469.9,262.3L467.3,259.5L469.9,258.6L472.5,261.4Z" fill="#00ff6e" stroke="#00ff6e" stroke-width=".3"/><path d="M472.5,261.4L469.9,258.6L472.5,257.6L475.2,260.4Z" fill="#00ff6f" stroke="#00ff6f" stroke-width=".3"/><path d="M475.2,260.4L472.5,257.6L475.2,256.7L477.8,259.4Z" fill="#00ff70" stroke="#00ff70" stroke-width=".3"/><path d="M477.8,259.4L475.2,256.7L477.8,255.7L480.4,258.4Z" fill="#00ff71" stroke="#00ff71" stroke-width=".3"/><path d="M480.4,258.4L477.8,255.7L480.4,254.8L483,257.4Z" fill="#00ff72" stroke="#00ff72" stroke-width=".3"/><path d="M483,257.4L480.4,254.8L483,253.8L485.6,256.5Z" fill="#00ff73" stroke="#00ff73" stroke-width=".3"/><path d="M485.6,256.5L483,253.8L485.7,252.9L488.2,255.5Z" fill="#00ff74" stroke="#00ff74" stroke-width=".3"/><path d="M488.2,255.5L485.7,252.9L488.3,251.9L490.9,254.5ZM490.9,254.5L488.3,251.9L490.9,250.9L493.5,253.5Z" fill="#00ff75" stroke="#00ff75" stroke-width=".3"/><path d="M493.5,253.5L490.9,250.9L493.5,249.9L496.1,252.5ZM496.1,252.5L493.5,249.9L496.1,249L498.7,251.4Z" fill="#00ff76" stroke="#00ff76" stroke-width=".3"/><path d="M498.7,251.4L496.1,249L498.7,248L501.3,250.4ZM501.3,250.4L498.7,248L501.4,247L503.9,249.4ZM503.9,249.4L501.4,247L504,246L506.6,248.4ZM506.6,248.4L504,246L506.6,245L509.2,247.3ZM509.2,247.3L506.6,245L509.2,244L511.8,246.3Z" fill="#00ff77" stroke="#00ff77" stroke-width=".3"/><path d="M456.8,263.2L454.2,260.3L456.8,259.4L459.4,262.3Z" fill="#00ff3d" stroke="#00ff3d" stroke-width=".3"/><path d="M459.4,262.3L456.8,259.4L459.4,258.5L462.1,261.4Z" fill="#00ff3f" stroke="#00ff3f" stroke-width=".3"/><path d="M462.1,261.4L459.4,258.5L462.1,257.6L464.7,260.4Z" fill="#00ff41" stroke="#00ff41" stroke-width=".3"/><path d="M464.7,260.4L462.1,257.6L464.7,256.7L467.3,259.5Z" fill="#00ff42" stroke="#00ff42" stroke-width=".3"/><path d="M467.3,259.5L464.7,256.7L467.3,255.8L469.9,258.6Z" fill="#00ff44" stroke="#00ff44" stroke-width=".3"/><path d="M469.9,258.6L467.3,255.8L469.9,254.9L472.5,257.6Z" fill="#00ff45" stroke="#00ff45" stroke-width=".3"/><path d="M472.5,257.6L469.9,254.9L472.6,254L475.2,256.7Z" fill="#00ff47" stroke="#00ff47" stroke-width=".3"/><path d="M475.2,256.7L472.6,254L475.2,253.1L477.8,255.7Z" fill="#00ff48" stroke="#00ff48" stroke-width=".3"/><path d="M477.8,255.7L475.2,253.1L477.8,252.1L480.4,254.8Z" fill="#00ff49" stroke="#00ff49" stroke-width=".3"/><path d="M480.4,254.8L477.8,252.1L480.4,251.2L483,253.8Z" fill="#00ff4a" stroke="#00ff4a" stroke-width=".3"/><path d="M483,253.8L480.4,251.2L483,250.3L485.7,252.9Z" fill="#00ff4b" stroke="#00ff4b" stroke-width=".3"/><path d="M485.7,252.9L483,250.3L485.7,249.3L488.3,251.9Z" fill="#00ff4c" stroke="#00ff4c" stroke-width=".3"/><path d="M488.3,251.9L485.7,249.3L488.3,248.4L490.9,250.9Z" fill="#00ff4d" stroke="#00ff4d" stroke-width=".3"/><path d="M490.9,250.9L488.3,248.4L490.9,247.5L493.5,249.9Z" fill="#00ff4e" stroke="#00ff4e" stroke-width=".3"/><path d="M493.5,249.9L490.9,247.5L493.5,246.5L496.1,249Z" fill="#00ff4f" stroke="#00ff4f" stroke-width=".3"/><path d="M496.1,249L493.5,246.5L496.2,245.6L498.7,248ZM498.7,248L496.2,245.6L498.8,244.6L501.4,247Z" fill="#00ff50" stroke="#00ff50" stroke-width=".3"/><path d="M501.4,247L498.8,244.6L501.4,243.6L504,246ZM504,246L501.4,243.6L504,242.7L506.6,245ZM506.6,245L504,242.7L506.6,241.7L509.2,244Z" fill="#00ff51" stroke="#00ff51" stroke-width=".3"/><path d="M454.2,260.3L451.6,257.5L454.2,256.6L456.8,259.4Z" fill="#00ff13" stroke="#00ff13" stroke-width=".3"/><path d="M456.8,259.4L454.2,256.6L456.8,255.7L459.4,258.5Z" fill="#00ff15" stroke="#00ff15" stroke-width=".3"/><path d="M459.4,258.5L456.8,255.7L459.4,254.9L462.1,257.6Z" fill="#00ff17" stroke="#00ff17" stroke-width=".3"/><path d="M462.1,257.6L459.4,254.9L462.1,254L464.7,256.7Z" fill="#00ff19" stroke="#00ff19" stroke-width=".3"/><path d="M464.7,256.7L462.1,254L464.7,253.1L467.3,255.8Z" fill="#00ff1b" stroke="#00ff1b" stroke-width=".3"/><path d="M467.3,255.8L464.7,253.1L467.3,252.2L469.9,254.9Z" fill="#00ff1c" stroke="#00ff1c" stroke-width=".3"/><path d="M469.9,254.9L467.3,252.2L469.9,251.3L472.6,254Z" fill="#00ff1e" stroke="#00ff1e" stroke-width=".3"/><path d="M472.6,254L469.9,251.3L472.6,250.4L475.2,253.1Z" fill="#00ff1f" stroke="#00ff1f" stroke-width=".3"/><path d="M475.2,253.1L472.6,250.4L475.2,249.5L477.8,252.1Z" fill="#00ff21" stroke="#00ff21" stroke-width=".3"/><path d="M477.8,252.1L475.2,249.5L477.8,248.6L480.4,251.2Z" fill="#00ff22" stroke="#00ff22" stroke-width=".3"/><path d="M480.4,251.2L477.8,248.6L480.4,247.7L483,250.3Z" fill="#00ff23" stroke="#00ff23" stroke-width=".3"/><path d="M483,250.3L480.4,247.7L483.1,246.8L485.7,249.3Z" fill="#00ff24" stroke="#00ff24" stroke-width=".3"/><path d="M485.7,249.3L483.1,246.8L485.7,245.9L488.3,248.4Z" fill="#00ff26" stroke="#00ff26" stroke-width=".3"/><path d="M488.3,248.4L485.7,245.9L488.3,245L490.9,247.5Z" fill="#00ff27" stroke="#00ff27" stroke-width=".3"/><path d="M490.9,247.5L488.3,245L490.9,244.1L493.5,246.5Z" fill="#00ff28" stroke="#00ff28" stroke-width=".3"/><path d="M493.5,246.5L490.9,244.1L493.6,243.2L496.2,245.6ZM496.2,245.6L493.6,243.2L496.2,242.2L498.8,244.6Z" fill="#00ff29" stroke="#00ff29" stroke-width=".3"/><path d="M498.8,244.6L496.2,242.2L498.8,241.3L501.4,243.6Z" fill="#00ff2a" stroke="#00ff2a" stroke-width=".3"/><path d="M501.4,243.6L498.8,241.3L501.4,240.4L504,242.7Z" fill="#00ff2b" stroke="#00ff2b" stroke-width=".3"/><path d="M504,242.7L501.4,240.4L504.1,239.4L506.6,241.7Z" fill="#00ff2c" stroke="#00ff2c" stroke-width=".3"/><path d="M451.6,257.5L448.9,254.7L451.6,253.8L454.2,256.6Z" fill="#16ff00" stroke="#16ff00" stroke-width=".3"/><path d="M454.2,256.6L451.6,253.8L454.2,253L456.8,255.7Z" fill="#14ff00" stroke="#14ff00" stroke-width=".3"/><path d="M456.8,255.7L454.2,253L456.8,252.1L459.4,254.9Z" fill="#12ff00" stroke="#12ff00" stroke-width=".3"/><path d="M459.4,254.9L456.8,252.1L459.4,251.3L462.1,254Z" fill="#10ff00" stroke="#10ff00" stroke-width=".3"/><path d="M462.1,254L459.4,251.3L462.1,250.4L464.7,253.1Z" fill="#0fff00" stroke="#0fff00" stroke-width=".3"/><path d="M464.7,253.1L462.1,250.4L464.7,249.5L467.3,252.2Z" fill="#0dff00" stroke="#0dff00" stroke-width=".3"/><path d="M467.3,252.2L464.7,249.5L467.3,248.7L469.9,251.3Z" fill="#0bff00" stroke="#0bff00" stroke-width=".3"/><path d="M469.9,251.3L467.3,248.7L470,247.8L472.6,250.4Z" fill="#09ff00" stroke="#09ff00" stroke-width=".3"/><path d="M472.6,250.4L470,247.8L472.6,246.9L475.2,249.5Z" fill="#08ff00" stroke="#08ff00" stroke-width=".3"/><path d="M475.2,249.5L472.6,246.9L475.2,246.1L477.8,248.6Z" fill="#06ff00" stroke="#06ff00" stroke-width=".3"/><path d="M477.8,248.6L475.2,246.1L477.8,245.2L480.4,247.7Z" fill="#05ff00" stroke="#05ff00" stroke-width=".3"/><path d="M480.4,247.7L477.8,245.2L480.5,244.3L483.1,246.8Z" fill="#03ff00" stroke="#03ff00" stroke-width=".3"/><path d="M483.1,246.8L480.5,244.3L483.1,243.4L485.7,245.9Z" fill="#02ff00" stroke="#02ff00" stroke-width=".3"/><path d="M485.7,245.9L483.1,243.4L485.7,242.6L488.3,245Z" fill="#01ff00" stroke="#01ff00" stroke-width=".3"/><path d="M488.3,245L485.7,242.6L488.3,241.7L490.9,244.1Z" fill="#00ff01" stroke="#00ff01" stroke-width=".3"/><path d="M490.9,244.1L488.3,241.7L491,240.8L493.6,243.2Z" fill="#00ff02" stroke="#00ff02" stroke-width=".3"/><path d="M493.6,243.2L491,240.8L493.6,239.9L496.2,242.2Z" fill="#00ff03" stroke="#00ff03" stroke-width=".3"/><path d="M496.2,242.2L493.6,239.9L496.2,239L498.8,241.3Z" fill="#00ff04" stroke="#00ff04" stroke-width=".3"/><path d="M498.8,241.3L496.2,239L498.8,238.1L501.4,240.4Z" fill="#00ff05" stroke="#00ff05" stroke-width=".3"/><path d="M501.4,240.4L498.8,238.1L501.5,237.2L504.1,239.4Z" fill="#00ff06" stroke="#00ff06" stroke-width=".3"/><path d="M448.9,254.7L446.3,251.9L448.9,251.1L451.6,253.8Z" fill="#3fff00" stroke="#3fff00" stroke-width=".3"/><path d="M451.6,253.8L448.9,251.1L451.5,250.2L454.2,253Z" fill="#3dff00" stroke="#3dff00" stroke-width=".3"/><path d="M454.2,253L451.5,250.2L454.2,249.4L456.8,252.1Z" fill="#3bff00" stroke="#3bff00" stroke-width=".3"/><path d="M456.8,252.1L454.2,249.4L456.8,248.6L459.4,251.3Z" fill="#39ff00" stroke="#39ff00" stroke-width=".3"/><path d="M459.4,251.3L456.8,248.6L459.4,247.7L462.1,250.4Z" fill="#37ff00" stroke="#37ff00" stroke-width=".3"/><path d="M462.1,250.4L459.4,247.7L462.1,246.9L464.7,249.5Z" fill="#35ff00" stroke="#35ff00" stroke-width=".3"/><path d="M464.7,249.5L462.1,246.9L464.7,246.1L467.3,248.7Z" fill="#34ff00" stroke="#34ff00" stroke-width=".3"/><path d="M467.3,248.7L464.7,246.1L467.3,245.2L470,247.8Z" fill="#32ff00" stroke="#32ff00" stroke-width=".3"/><path d="M470,247.8L467.3,245.2L470,244.4L472.6,246.9Z" fill="#30ff00" stroke="#30ff00" stroke-width=".3"/><path d="M472.6,246.9L470,244.4L472.6,243.5L475.2,246.1Z" fill="#2eff00" stroke="#2eff00" stroke-width=".3"/><path d="M475.2,246.1L472.6,243.5L475.2,242.7L477.8,245.2Z" fill="#2dff00" stroke="#2dff00" stroke-width=".3"/><path d="M477.8,245.2L475.2,242.7L477.8,241.8L480.5,244.3Z" fill="#2bff00" stroke="#2bff00" stroke-width=".3"/><path d="M480.5,244.3L477.8,241.8L480.5,241L483.1,243.4Z" fill="#29ff00" stroke="#29ff00" stroke-width=".3"/><path d="M483.1,243.4L480.5,241L483.1,240.1L485.7,242.6Z" fill="#28ff00" stroke="#28ff00" stroke-width=".3"/><path d="M485.7,242.6L483.1,240.1L485.7,239.3L488.3,241.7Z" fill="#26ff00" stroke="#26ff00" stroke-width=".3"/><path d="M488.3,241.7L485.7,239.3L488.3,238.4L491,240.8Z" fill="#25ff00" stroke="#25ff00" stroke-width=".3"/><path d="M491,240.8L488.3,238.4L491,237.6L493.6,239.9Z" fill="#23ff00" stroke="#23ff00" stroke-width=".3"/><path d="M493.6,239.9L491,237.6L493.6,236.7L496.2,239Z" fill="#22ff00" stroke="#22ff00" stroke-width=".3"/><path d="M496.2,239L493.6,236.7L496.2,235.8L498.8,238.1Z" fill="#21ff00" stroke="#21ff00" stroke-width=".3"/><path d="M498.8,238.1L496.2,235.8L498.9,235L501.5,237.2Z" fill="#1fff00" stroke="#1fff00" stroke-width=".3"/><path d="M446.3,251.9L443.6,249.1L446.3,248.3L448.9,251.1Z" fill="#68ff00" stroke="#68ff00" stroke-width=".3"/><path d="M448.9,251.1L446.3,248.3L448.9,247.5L451.5,250.2Z" fill="#66ff00" stroke="#66ff00" stroke-width=".3"/><path d="M451.5,250.2L448.9,247.5L451.5,246.7L454.2,249.4Z" fill="#64ff00" stroke="#64ff00" stroke-width=".3"/><path d="M454.2,249.4L451.5,246.7L454.2,245.9L456.8,248.6Z" fill="#62ff00" stroke="#62ff00" stroke-width=".3"/><path d="M456.8,248.6L454.2,245.9L456.8,245.1L459.4,247.7Z" fill="#60ff00" stroke="#60ff00" stroke-width=".3"/><path d="M459.4,247.7L456.8,245.1L459.4,244.3L462.1,246.9Z" fill="#5eff00" stroke="#5eff00" stroke-width=".3"/><path d="M462.1,246.9L459.4,244.3L462.1,243.5L464.7,246.1Z" fill="#5cff00" stroke="#5cff00" stroke-width=".3"/><path d="M464.7,246.1L462.1,243.5L464.7,242.7L467.3,245.2Z" fill="#5aff00" stroke="#5aff00" stroke-width=".3"/><path d="M467.3,245.2L464.7,242.7L467.3,241.8L470,244.4Z" fill="#58ff00" stroke="#58ff00" stroke-width=".3"/><path d="M470,244.4L467.3,241.8L470,241L472.6,243.5Z" fill="#56ff00" stroke="#56ff00" stroke-width=".3"/><path d="M472.6,243.5L470,241L472.6,240.2L475.2,242.7Z" fill="#54ff00" stroke="#54ff00" stroke-width=".3"/><path d="M475.2,242.7L472.6,240.2L475.2,239.4L477.8,241.8Z" fill="#52ff00" stroke="#52ff00" stroke-width=".3"/><path d="M477.8,241.8L475.2,239.4L477.8,238.6L480.5,241Z" fill="#51ff00" stroke="#51ff00" stroke-width=".3"/><path d="M480.5,241L477.8,238.6L480.5,237.7L483.1,240.1Z" fill="#4fff00" stroke="#4fff00" stroke-width=".3"/><path d="M483.1,240.1L480.5,237.7L483.1,236.9L485.7,239.3Z" fill="#4dff00" stroke="#4dff00" stroke-width=".3"/><path d="M485.7,239.3L483.1,236.9L485.7,236.1L488.3,238.4Z" fill="#4bff00" stroke="#4bff00" stroke-width=".3"/><path d="M488.3,238.4L485.7,236.1L488.4,235.3L491,237.6Z" fill="#4aff00" stroke="#4aff00" stroke-width=".3"/><path d="M491,237.6L488.4,235.3L491,234.4L493.6,236.7Z" fill="#48ff00" stroke="#48ff00" stroke-width=".3"/><path d="M493.6,236.7L491,234.4L493.6,233.6L496.2,235.8Z" fill="#46ff00" stroke="#46ff00" stroke-width=".3"/><path d="M496.2,235.8L493.6,233.6L496.2,232.8L498.9,235Z" fill="#45ff00" stroke="#45ff00" stroke-width=".3"/><path d="M443.6,249.1L441,246.4L443.6,245.6L446.3,248.3ZM488.4,232.2L485.8,229.9L488.4,229.2L491,231.4Z" fill="#91ff00" stroke="#91ff00" stroke-width=".3"/><path d="M446.3,248.3L443.6,245.6L446.2,244.8L448.9,247.5ZM491,231.4L488.4,229.2L491,228.4L493.6,230.6Z" fill="#8fff00" stroke="#8fff00" stroke-width=".3"/><path d="M448.9,247.5L446.2,244.8L448.9,244.1L451.5,246.7Z" fill="#8cff00" stroke="#8cff00" stroke-width=".3"/><path d="M451.5,246.7L448.9,244.1L451.5,243.3L454.2,245.9Z" fill="#8aff00" stroke="#8aff00" stroke-width=".3"/><path d="M454.2,245.9L451.5,243.3L454.2,242.5L456.8,245.1Z" fill="#88ff00" stroke="#88ff00" stroke-width=".3"/><path d="M456.8,245.1L454.2,242.5L456.8,241.7L459.4,244.3Z" fill="#86ff00" stroke="#86ff00" stroke-width=".3"/><path d="M459.4,244.3L456.8,241.7L459.4,240.9L462.1,243.5Z" fill="#84ff00" stroke="#84ff00" stroke-width=".3"/><path d="M462.1,243.5L459.4,240.9L462.1,240.1L464.7,242.7Z" fill="#82ff00" stroke="#82ff00" stroke-width=".3"/><path d="M464.7,242.7L462.1,240.1L464.7,239.3L467.3,241.8Z" fill="#80ff00" stroke="#80ff00" stroke-width=".3"/><path d="M467.3,241.8L464.7,239.3L467.3,238.5L470,241Z" fill="#7eff00" stroke="#7eff00" stroke-width=".3"/><path d="M470,241L467.3,238.5L470,237.7L472.6,240.2Z" fill="#7cff00" stroke="#7cff00" stroke-width=".3"/><path d="M472.6,240.2L470,237.7L472.6,237L475.2,239.4Z" fill="#7aff00" stroke="#7aff00" stroke-width=".3"/><path d="M475.2,239.4L472.6,237L475.2,236.2L477.8,238.6Z" fill="#78ff00" stroke="#78ff00" stroke-width=".3"/><path d="M477.8,238.6L475.2,236.2L477.9,235.4L480.5,237.7Z" fill="#76ff00" stroke="#76ff00" stroke-width=".3"/><path d="M480.5,237.7L477.9,235.4L480.5,234.6L483.1,236.9Z" fill="#74ff00" stroke="#74ff00" stroke-width=".3"/><path d="M483.1,236.9L480.5,234.6L483.1,233.8L485.7,236.1Z" fill="#72ff00" stroke="#72ff00" stroke-width=".3"/><path d="M485.7,236.1L483.1,233.8L485.7,233L488.4,235.3Z" fill="#70ff00" stroke="#70ff00" stroke-width=".3"/><path d="M488.4,235.3L485.7,233L488.4,232.2L491,234.4Z" fill="#6eff00" stroke="#6eff00" stroke-width=".3"/><path d="M491,234.4L488.4,232.2L491,231.4L493.6,233.6Z" fill="#6cff00" stroke="#6cff00" stroke-width=".3"/><path d="M493.6,233.6L491,231.4L493.6,230.6L496.2,232.8Z" fill="#6aff00" stroke="#6aff00" stroke-width=".3"/><path d="M441,246.4L438.3,243.7L441,242.9L443.6,245.6ZM483.1,230.7L480.5,228.5L483.1,227.7L485.8,229.9Z" fill="#b9ff00" stroke="#b9ff00" stroke-width=".3"/><path d="M443.6,245.6L441,242.9L443.6,242.2L446.2,244.8Z" fill="#b7ff00" stroke="#b7ff00" stroke-width=".3"/><path d="M446.2,244.8L443.6,242.2L446.2,241.4L448.9,244.1ZM488.4,229.2L485.8,227L488.4,226.2L491,228.4Z" fill="#b4ff00" stroke="#b4ff00" stroke-width=".3"/><path d="M448.9,244.1L446.2,241.4L448.9,240.7L451.5,243.3Z" fill="#b2ff00" stroke="#b2ff00" stroke-width=".3"/><path d="M451.5,243.3L448.9,240.7L451.5,239.9L454.2,242.5Z" fill="#b0ff00" stroke="#b0ff00" stroke-width=".3"/><path d="M454.2,242.5L451.5,239.9L454.1,239.1L456.8,241.7Z" fill="#aeff00" stroke="#aeff00" stroke-width=".3"/><path d="M456.8,241.7L454.1,239.1L456.8,238.4L459.4,240.9Z" fill="#acff00" stroke="#acff00" stroke-width=".3"/><path d="M459.4,240.9L456.8,238.4L459.4,237.6L462.1,240.1Z" fill="#a9ff00" stroke="#a9ff00" stroke-width=".3"/><path d="M462.1,240.1L459.4,237.6L462,236.8L464.7,239.3Z" fill="#a7ff00" stroke="#a7ff00" stroke-width=".3"/><path d="M464.7,239.3L462,236.8L464.7,236.1L467.3,238.5Z" fill="#a5ff00" stroke="#a5ff00" stroke-width=".3"/><path d="M467.3,238.5L464.7,236.1L467.3,235.3L470,237.7Z" fill="#a3ff00" stroke="#a3ff00" stroke-width=".3"/><path d="M470,237.7L467.3,235.3L470,234.5L472.6,237Z" fill="#a1ff00" stroke="#a1ff00" stroke-width=".3"/><path d="M472.6,237L470,234.5L472.6,233.8L475.2,236.2Z" fill="#9eff00" stroke="#9eff00" stroke-width=".3"/><path d="M475.2,236.2L472.6,233.8L475.2,233L477.9,235.4Z" fill="#9cff00" stroke="#9cff00" stroke-width=".3"/><path d="M477.9,235.4L475.2,233L477.9,232.2L480.5,234.6Z" fill="#9aff00" stroke="#9aff00" stroke-width=".3"/><path d="M480.5,234.6L477.9,232.2L480.5,231.5L483.1,233.8Z" fill="#98ff00" stroke="#98ff00" stroke-width=".3"/><path d="M483.1,233.8L480.5,231.5L483.1,230.7L485.7,233Z" fill="#95ff00" stroke="#95ff00" stroke-width=".3"/><path d="M485.7,233L483.1,230.7L485.8,229.9L488.4,232.2Z" fill="#93ff00" stroke="#93ff00" stroke-width=".3"/><path d="M438.3,243.7L435.6,241L438.3,240.3L441,242.9ZM477.9,229.2L475.2,227L477.9,226.2L480.5,228.5Z" fill="#e1ff00" stroke="#e1ff00" stroke-width=".3"/><path d="M441,242.9L438.3,240.3L440.9,239.6L443.6,242.2Z" fill="#dfff00" stroke="#dfff00" stroke-width=".3"/><path d="M443.6,242.2L440.9,239.6L443.6,238.8L446.2,241.4Z" fill="#dcff00" stroke="#dcff00" stroke-width=".3"/><path d="M446.2,241.4L443.6,238.8L446.2,238.1L448.9,240.7Z" fill="#daff00" stroke="#daff00" stroke-width=".3"/><path d="M448.9,240.7L446.2,238.1L448.8,237.3L451.5,239.9ZM485.8,227L483.1,224.8L485.8,224.1L488.4,226.2Z" fill="#d8ff00" stroke="#d8ff00" stroke-width=".3"/><path d="M451.5,239.9L448.8,237.3L451.5,236.6L454.1,239.1Z" fill="#d5ff00" stroke="#d5ff00" stroke-width=".3"/><path d="M454.1,239.1L451.5,236.6L454.1,235.9L456.8,238.4Z" fill="#d3ff00" stroke="#d3ff00" stroke-width=".3"/><path d="M456.8,238.4L454.1,235.9L456.8,235.1L459.4,237.6Z" fill="#d1ff00" stroke="#d1ff00" stroke-width=".3"/><path d="M459.4,237.6L456.8,235.1L459.4,234.4L462,236.8Z" fill="#ceff00" stroke="#ceff00" stroke-width=".3"/><path d="M462,236.8L459.4,234.4L462,233.6L464.7,236.1Z" fill="#ccff00" stroke="#ccff00" stroke-width=".3"/><path d="M464.7,236.1L462,233.6L464.7,232.9L467.3,235.3Z" fill="#caff00" stroke="#caff00" stroke-width=".3"/><path d="M467.3,235.3L464.7,232.9L467.3,232.2L470,234.5Z" fill="#c7ff00" stroke="#c7ff00" stroke-width=".3"/><path d="M470,234.5L467.3,232.2L469.9,231.4L472.6,233.8Z" fill="#c5ff00" stroke="#c5ff00" stroke-width=".3"/><path d="M472.6,233.8L469.9,231.4L472.6,230.7L475.2,233Z" fill="#c2ff00" stroke="#c2ff00" stroke-width=".3"/><path d="M475.2,233L472.6,230.7L475.2,229.9L477.9,232.2Z" fill="#c0ff00" stroke="#c0ff00" stroke-width=".3"/><path d="M477.9,232.2L475.2,229.9L477.9,229.2L480.5,231.5Z" fill="#beff00" stroke="#beff00" stroke-width=".3"/><path d="M480.5,231.5L477.9,229.2L480.5,228.5L483.1,230.7Z" fill="#bbff00" stroke="#bbff00" stroke-width=".3"/><path d="M485.8,229.9L483.1,227.7L485.8,227L488.4,229.2Z" fill="#b6ff00" stroke="#b6ff00" stroke-width=".3"/><path d="M435.6,241L433,238.4L435.6,237.7L438.3,240.3Z" fill="#fff600" stroke="#fff600" stroke-width=".3"/><path d="M438.3,240.3L435.6,237.7L438.3,237L440.9,239.6ZM475.2,227L472.6,224.7L475.2,224L477.9,226.2Z" fill="#fff800" stroke="#fff800" stroke-width=".3"/><path d="M440.9,239.6L438.3,237L440.9,236.3L443.6,238.8Z" fill="#fffa00" stroke="#fffa00" stroke-width=".3"/><path d="M443.6,238.8L440.9,236.3L443.5,235.5L446.2,238.1Z" fill="#fffd00" stroke="#fffd00" stroke-width=".3"/><path d="M446.2,238.1L443.5,235.5L446.2,234.8L448.8,237.3Z" fill="#ffff00" stroke="#ffff00" stroke-width=".3"/><path d="M448.8,237.3L446.2,234.8L448.8,234.1L451.5,236.6ZM483.1,224.8L480.5,222.7L483.1,222L485.8,224.1Z" fill="#fdff00" stroke="#fdff00" stroke-width=".3"/><path d="M451.5,236.6L448.8,234.1L451.5,233.4L454.1,235.9Z" fill="#faff00" stroke="#faff00" stroke-width=".3"/><path d="M454.1,235.9L451.5,233.4L454.1,232.7L456.8,235.1Z" fill="#f8ff00" stroke="#f8ff00" stroke-width=".3"/><path d="M456.8,235.1L454.1,232.7L456.7,232L459.4,234.4Z" fill="#f5ff00" stroke="#f5ff00" stroke-width=".3"/><path d="M459.4,234.4L456.7,232L459.4,231.2L462,233.6Z" fill="#f3ff00" stroke="#f3ff00" stroke-width=".3"/><path d="M462,233.6L459.4,231.2L462,230.5L464.7,232.9Z" fill="#f0ff00" stroke="#f0ff00" stroke-width=".3"/><path d="M464.7,232.9L462,230.5L464.7,229.8L467.3,232.2Z" fill="#eeff00" stroke="#eeff00" stroke-width=".3"/><path d="M467.3,232.2L464.7,229.8L467.3,229.1L469.9,231.4Z" fill="#ebff00" stroke="#ebff00" stroke-width=".3"/><path d="M469.9,231.4L467.3,229.1L469.9,228.4L472.6,230.7Z" fill="#e9ff00" stroke="#e9ff00" stroke-width=".3"/><path d="M472.6,230.7L469.9,228.4L472.6,227.7L475.2,229.9Z" fill="#e6ff00" stroke="#e6ff00" stroke-width=".3"/><path d="M475.2,229.9L472.6,227.7L475.2,227L477.9,229.2Z" fill="#e3ff00" stroke="#e3ff00" stroke-width=".3"/><path d="M480.5,228.5L477.9,226.2L480.5,225.5L483.1,227.7Z" fill="#deff00" stroke="#deff00" stroke-width=".3"/><path d="M483.1,227.7L480.5,225.5L483.1,224.8L485.8,227Z" fill="#dbff00" stroke="#dbff00" stroke-width=".3"/><path d="M433,238.4L430.3,235.8L432.9,235.1L435.6,237.7Z" fill="#ffce00" stroke="#ffce00" stroke-width=".3"/><path d="M435.6,237.7L432.9,235.1L435.6,234.4L438.3,237Z" fill="#ffd100" stroke="#ffd100" stroke-width=".3"/><path d="M438.3,237L435.6,234.4L438.2,233.7L440.9,236.3ZM472.6,224.7L469.9,222.5L472.6,221.9L475.2,224Z" fill="#ffd300" stroke="#ffd300" stroke-width=".3"/><path d="M440.9,236.3L438.2,233.7L440.9,233L443.5,235.5Z" fill="#ffd500" stroke="#ffd500" stroke-width=".3"/><path d="M443.5,235.5L440.9,233L443.5,232.3L446.2,234.8Z" fill="#ffd800" stroke="#ffd800" stroke-width=".3"/><path d="M446.2,234.8L443.5,232.3L446.2,231.6L448.8,234.1ZM477.8,223.3L475.2,221.2L477.8,220.5L480.5,222.7Z" fill="#ffda00" stroke="#ffda00" stroke-width=".3"/><path d="M448.8,234.1L446.2,231.6L448.8,230.9L451.5,233.4ZM480.5,222.7L477.8,220.5L480.5,219.9L483.1,222Z" fill="#ffdd00" stroke="#ffdd00" stroke-width=".3"/><path d="M451.5,233.4L448.8,230.9L451.4,230.2L454.1,232.7Z" fill="#ffdf00" stroke="#ffdf00" stroke-width=".3"/><path d="M454.1,232.7L451.4,230.2L454.1,229.5L456.7,232Z" fill="#ffe200" stroke="#ffe200" stroke-width=".3"/><path d="M456.7,232L454.1,229.5L456.7,228.9L459.4,231.2Z" fill="#ffe500" stroke="#ffe500" stroke-width=".3"/><path d="M459.4,231.2L456.7,228.9L459.4,228.2L462,230.5Z" fill="#ffe700" stroke="#ffe700" stroke-width=".3"/><path d="M462,230.5L459.4,228.2L462,227.5L464.7,229.8Z" fill="#ffea00" stroke="#ffea00" stroke-width=".3"/><path d="M464.7,229.8L462,227.5L464.7,226.8L467.3,229.1Z" fill="#ffed00" stroke="#ffed00" stroke-width=".3"/><path d="M467.3,229.1L464.7,226.8L467.3,226.1L469.9,228.4Z" fill="#fff000" stroke="#fff000" stroke-width=".3"/><path d="M469.9,228.4L467.3,226.1L469.9,225.4L472.6,227.7Z" fill="#fff200" stroke="#fff200" stroke-width=".3"/><path d="M472.6,227.7L469.9,225.4L472.6,224.7L475.2,227Z" fill="#fff500" stroke="#fff500" stroke-width=".3"/><path d="M477.9,226.2L475.2,224L477.8,223.3L480.5,225.5Z" fill="#fffb00" stroke="#fffb00" stroke-width=".3"/><path d="M480.5,225.5L477.8,223.3L480.5,222.7L483.1,224.8Z" fill="#fffe00" stroke="#fffe00" stroke-width=".3"/><path d="M430.3,235.8L427.6,233.2L430.2,232.6L432.9,235.1Z" fill="#ffa700" stroke="#ffa700" stroke-width=".3"/><path d="M432.9,235.1L430.2,232.6L432.9,231.9L435.6,234.4Z" fill="#ffaa00" stroke="#ffaa00" stroke-width=".3"/><path d="M435.6,234.4L432.9,231.9L435.5,231.2L438.2,233.7Z" fill="#ffac00" stroke="#ffac00" stroke-width=".3"/><path d="M438.2,233.7L435.5,231.2L438.2,230.5L440.9,233Z" fill="#ffaf00" stroke="#ffaf00" stroke-width=".3"/><path d="M440.9,233L438.2,230.5L440.8,229.9L443.5,232.3Z" fill="#ffb100" stroke="#ffb100" stroke-width=".3"/><path d="M443.5,232.3L440.8,229.9L443.5,229.2L446.2,231.6Z" fill="#ffb400" stroke="#ffb400" stroke-width=".3"/><path d="M446.2,231.6L443.5,229.2L446.1,228.5L448.8,230.9Z" fill="#ffb600" stroke="#ffb600" stroke-width=".3"/><path d="M448.8,230.9L446.1,228.5L448.8,227.8L451.4,230.2ZM477.8,220.5L475.2,218.4L477.8,217.8L480.5,219.9Z" fill="#ffb900" stroke="#ffb900" stroke-width=".3"/><path d="M451.4,230.2L448.8,227.8L451.4,227.2L454.1,229.5Z" fill="#ffbc00" stroke="#ffbc00" stroke-width=".3"/><path d="M454.1,229.5L451.4,227.2L454.1,226.5L456.7,228.9Z" fill="#ffbe00" stroke="#ffbe00" stroke-width=".3"/><path d="M456.7,228.9L454.1,226.5L456.7,225.8L459.4,228.2Z" fill="#ffc100" stroke="#ffc100" stroke-width=".3"/><path d="M459.4,228.2L456.7,225.8L459.4,225.2L462,227.5Z" fill="#ffc400" stroke="#ffc400" stroke-width=".3"/><path d="M462,227.5L459.4,225.2L462,224.5L464.7,226.8Z" fill="#ffc700" stroke="#ffc700" stroke-width=".3"/><path d="M464.7,226.8L462,224.5L464.6,223.8L467.3,226.1Z" fill="#ffca00" stroke="#ffca00" stroke-width=".3"/><path d="M467.3,226.1L464.6,223.8L467.3,223.2L469.9,225.4Z" fill="#ffcd00" stroke="#ffcd00" stroke-width=".3"/><path d="M469.9,225.4L467.3,223.2L469.9,222.5L472.6,224.7Z" fill="#ffd000" stroke="#ffd000" stroke-width=".3"/><path d="M475.2,224L472.6,221.9L475.2,221.2L477.8,223.3Z" fill="#ffd600" stroke="#ffd600" stroke-width=".3"/><path d="M427.6,233.2L424.9,230.7L427.6,230L430.2,232.6Z" fill="#ff8100" stroke="#ff8100" stroke-width=".3"/><path d="M430.2,232.6L427.6,230L430.2,229.4L432.9,231.9Z" fill="#ff8300" stroke="#ff8300" stroke-width=".3"/><path d="M432.9,231.9L430.2,229.4L432.9,228.7L435.5,231.2Z" fill="#ff8600" stroke="#ff8600" stroke-width=".3"/><path d="M435.5,231.2L432.9,228.7L435.5,228.1L438.2,230.5Z" fill="#ff8800" stroke="#ff8800" stroke-width=".3"/><path d="M438.2,230.5L435.5,228.1L438.2,227.4L440.8,229.9Z" fill="#ff8b00" stroke="#ff8b00" stroke-width=".3"/><path d="M440.8,229.9L438.2,227.4L440.8,226.8L443.5,229.2Z" fill="#ff8d00" stroke="#ff8d00" stroke-width=".3"/><path d="M443.5,229.2L440.8,226.8L443.5,226.1L446.1,228.5Z" fill="#ff9000" stroke="#ff9000" stroke-width=".3"/><path d="M446.1,228.5L443.5,226.1L446.1,225.5L448.8,227.8Z" fill="#ff9300" stroke="#ff9300" stroke-width=".3"/><path d="M448.8,227.8L446.1,225.5L448.7,224.8L451.4,227.2Z" fill="#ff9500" stroke="#ff9500" stroke-width=".3"/><path d="M451.4,227.2L448.7,224.8L451.4,224.2L454.1,226.5Z" fill="#ff9800" stroke="#ff9800" stroke-width=".3"/><path d="M454.1,226.5L451.4,224.2L454,223.5L456.7,225.8Z" fill="#ff9b00" stroke="#ff9b00" stroke-width=".3"/><path d="M456.7,225.8L454,223.5L456.7,222.9L459.4,225.2Z" fill="#ff9e00" stroke="#ff9e00" stroke-width=".3"/><path d="M459.4,225.2L456.7,222.9L459.3,222.2L462,224.5Z" fill="#ffa100" stroke="#ffa100" stroke-width=".3"/><path d="M462,224.5L459.3,222.2L462,221.6L464.6,223.8Z" fill="#ffa400" stroke="#ffa400" stroke-width=".3"/><path d="M464.6,223.8L462,221.6L464.6,221L467.3,223.2Z" fill="#ffa800" stroke="#ffa800" stroke-width=".3"/><path d="M467.3,223.2L464.6,221L467.3,220.3L469.9,222.5Z" fill="#ffab00" stroke="#ffab00" stroke-width=".3"/><path d="M469.9,222.5L467.3,220.3L469.9,219.7L472.6,221.9Z" fill="#ffae00" stroke="#ffae00" stroke-width=".3"/><path d="M472.6,221.9L469.9,219.7L472.5,219.1L475.2,221.2Z" fill="#ffb200" stroke="#ffb200" stroke-width=".3"/><path d="M475.2,221.2L472.5,219.1L475.2,218.4L477.8,220.5Z" fill="#ffb500" stroke="#ffb500" stroke-width=".3"/><path d="M477.6,287.4L488,282.8L498.4,278L508.8,273.1L519.2,268.1L529.7,263M477.6,287.4L467.3,275.1L456.8,263.2L446.3,251.9L435.6,241L424.9,230.7M475,284.3L485.4,279.8L495.9,275.1L506.3,270.4L516.7,265.5L527.1,260.6M480.2,286.3L469.9,274L459.4,262.3L448.9,251.1L438.3,240.3L427.6,230M472.4,281.2L482.9,276.8L493.3,272.3L503.7,267.7L514.2,263L524.6,258.1M482.8,285.1L472.5,273L462.1,261.4L451.5,250.2L440.9,239.6L430.2,229.4M469.9,278.1L480.3,273.8L490.7,269.5L501.2,265L511.6,260.4L522.1,255.7M485.4,283.9L475.1,272L464.7,260.4L454.2,249.4L443.6,238.8L432.9,228.7M467.3,275.1L477.7,270.9L488.2,266.7L498.6,262.3L509,257.9L519.5,253.4M488,282.8L477.7,270.9L467.3,259.5L456.8,248.6L446.2,238.1L435.5,228.1M464.7,272.1L475.1,268L485.6,263.9L496,259.7L506.5,255.4L516.9,251M490.6,281.6L480.3,269.9L469.9,258.6L459.4,247.7L448.8,237.3L438.2,227.4M462.1,269.1L472.5,265.2L483,261.2L493.4,257.1L503.9,252.9L514.4,248.6M493.2,280.4L482.9,268.8L472.5,257.6L462.1,246.9L451.5,236.6L440.8,226.8M459.4,266.1L469.9,262.3L480.4,258.4L490.9,254.5L501.3,250.4L511.8,246.3M495.8,279.2L485.5,267.7L475.2,256.7L464.7,246.1L454.1,235.9L443.5,226.1M456.8,263.2L467.3,259.5L477.8,255.7L488.3,251.9L498.7,248L509.2,244M498.4,278L488.2,266.7L477.8,255.7L467.3,245.2L456.8,235.1L446.1,225.5M454.2,260.3L464.7,256.7L475.2,253.1L485.7,249.3L496.2,245.6L506.6,241.7M501,276.8L490.8,265.6L480.4,254.8L470,244.4L459.4,234.4L448.7,224.8M451.6,257.5L462.1,254L472.6,250.4L483.1,246.8L493.6,243.2L504.1,239.4M503.6,275.6L493.4,264.5L483,253.8L472.6,243.5L462,233.6L451.4,224.2M448.9,254.7L459.4,251.3L470,247.8L480.5,244.3L491,240.8L501.5,237.2M506.2,274.4L496,263.4L485.7,252.9L475.2,242.7L464.7,232.9L454,223.5M446.3,251.9L456.8,248.6L467.3,245.2L477.8,241.8L488.3,238.4L498.9,235M508.8,273.1L498.6,262.3L488.3,251.9L477.8,241.8L467.3,232.2L456.7,222.9M443.6,249.1L454.2,245.9L464.7,242.7L475.2,239.4L485.7,236.1L496.2,232.8M511.4,271.9L501.2,261.2L490.9,250.9L480.5,241L469.9,231.4L459.3,222.2M441,246.4L451.5,243.3L462.1,240.1L472.6,237L483.1,233.8L493.6,230.6M514,270.6L503.8,260.1L493.5,249.9L483.1,240.1L472.6,230.7L462,221.6M438.3,243.7L448.9,240.7L459.4,237.6L470,234.5L480.5,231.5L491,228.4M516.6,269.4L506.4,259L496.1,249L485.7,239.3L475.2,229.9L464.6,221M435.6,241L446.2,238.1L456.8,235.1L467.3,232.2L477.9,229.2L488.4,226.2M519.2,268.1L509,257.9L498.7,248L488.3,238.4L477.9,229.2L467.3,220.3M433,238.4L443.5,235.5L454.1,232.7L464.7,229.8L475.2,227L485.8,224.1M521.9,266.9L511.7,256.8L501.4,247L491,237.6L480.5,228.5L469.9,219.7M430.3,235.8L440.9,233L451.4,230.2L462,227.5L472.6,224.7L483.1,222M524.5,265.6L514.3,255.6L504,246L493.6,236.7L483.1,227.7L472.5,219.1M427.6,233.2L438.2,230.5L448.8,227.8L459.4,225.2L469.9,222.5L480.5,219.9M527.1,264.3L516.9,254.5L506.6,245L496.2,235.8L485.8,227L475.2,218.4M424.9,230.7L435.5,228.1L446.1,225.5L456.7,222.9L467.3,220.3L477.8,217.8M529.7,263L519.5,253.4L509.2,244L498.9,235L488.4,226.2L477.8,217.8" stroke="#000" stroke-opacity=".42" stroke-width=".5" fill="none"/><path d="M460.2,215.5h5.5" stroke="#999" stroke-width="1.2" stroke-dasharray="1.2 .9" fill="none"/><text x="421.7" y="294" text-anchor="middle" font-size="5.3">60</text><text x="419.6" y="216.8" text-anchor="middle" font-size="5.3">100</text><text x="419.6" y="226.4" text-anchor="middle" font-size="5.3">95</text><text x="420.3" y="237.3" text-anchor="middle" font-size="5.3">90</text><text x="421" y="246.7" text-anchor="middle" font-size="5.3">85</text><text x="420.7" y="255.7" text-anchor="middle" font-size="5.3">80</text><text x="420.7" y="264.9" text-anchor="middle" font-size="5.3">75</text><text x="421" y="276" text-anchor="middle" font-size="5.3">70</text><text x="435.3" y="300.4" text-anchor="middle" font-size="5.3">50</text><text x="446.6" y="305.6" text-anchor="middle" font-size="5.3">40</text><text x="456.3" y="311.1" text-anchor="middle" font-size="5.3">30</text><text x="466.4" y="316.9" text-anchor="middle" font-size="5.3">20</text><text x="474.6" y="321.8" text-anchor="middle" font-size="5.3">10</text><text x="480.5" y="322.4" text-anchor="middle" font-size="5.3">30</text><text x="489" y="317.1" text-anchor="middle" font-size="5.3">36</text><text x="499" y="311.3" text-anchor="middle" font-size="5.3">42</text><text x="508.7" y="306.3" text-anchor="middle" font-size="5.3">48</text><text x="519.1" y="300.1" text-anchor="middle" font-size="5.3">54</text><text x="529.1" y="294.3" text-anchor="middle" font-size="5.3">60</text><text class="t" x="413.9" y="318.5" font-size="5.45" textLength="42.8" lengthAdjust="spacingAndGlyphs">C: Temperature (°C)</text><text class="t" x="502.9" y="319.2" font-size="5.45" textLength="37.8" lengthAdjust="spacingAndGlyphs">D: Time (minute)</text><text transform="translate(407.6,253.3) rotate(-90)" text-anchor="middle" font-size="5.7" class="t" textLength="56.7" lengthAdjust="spacingAndGlyphs">Extraction yield (% <tspan font-style="italic">v/v</tspan>)</text><text x="393.7" y="180.3" font-size="10" font-weight="bold" fill="#111">(f)</text></g>
</svg></body></html>
